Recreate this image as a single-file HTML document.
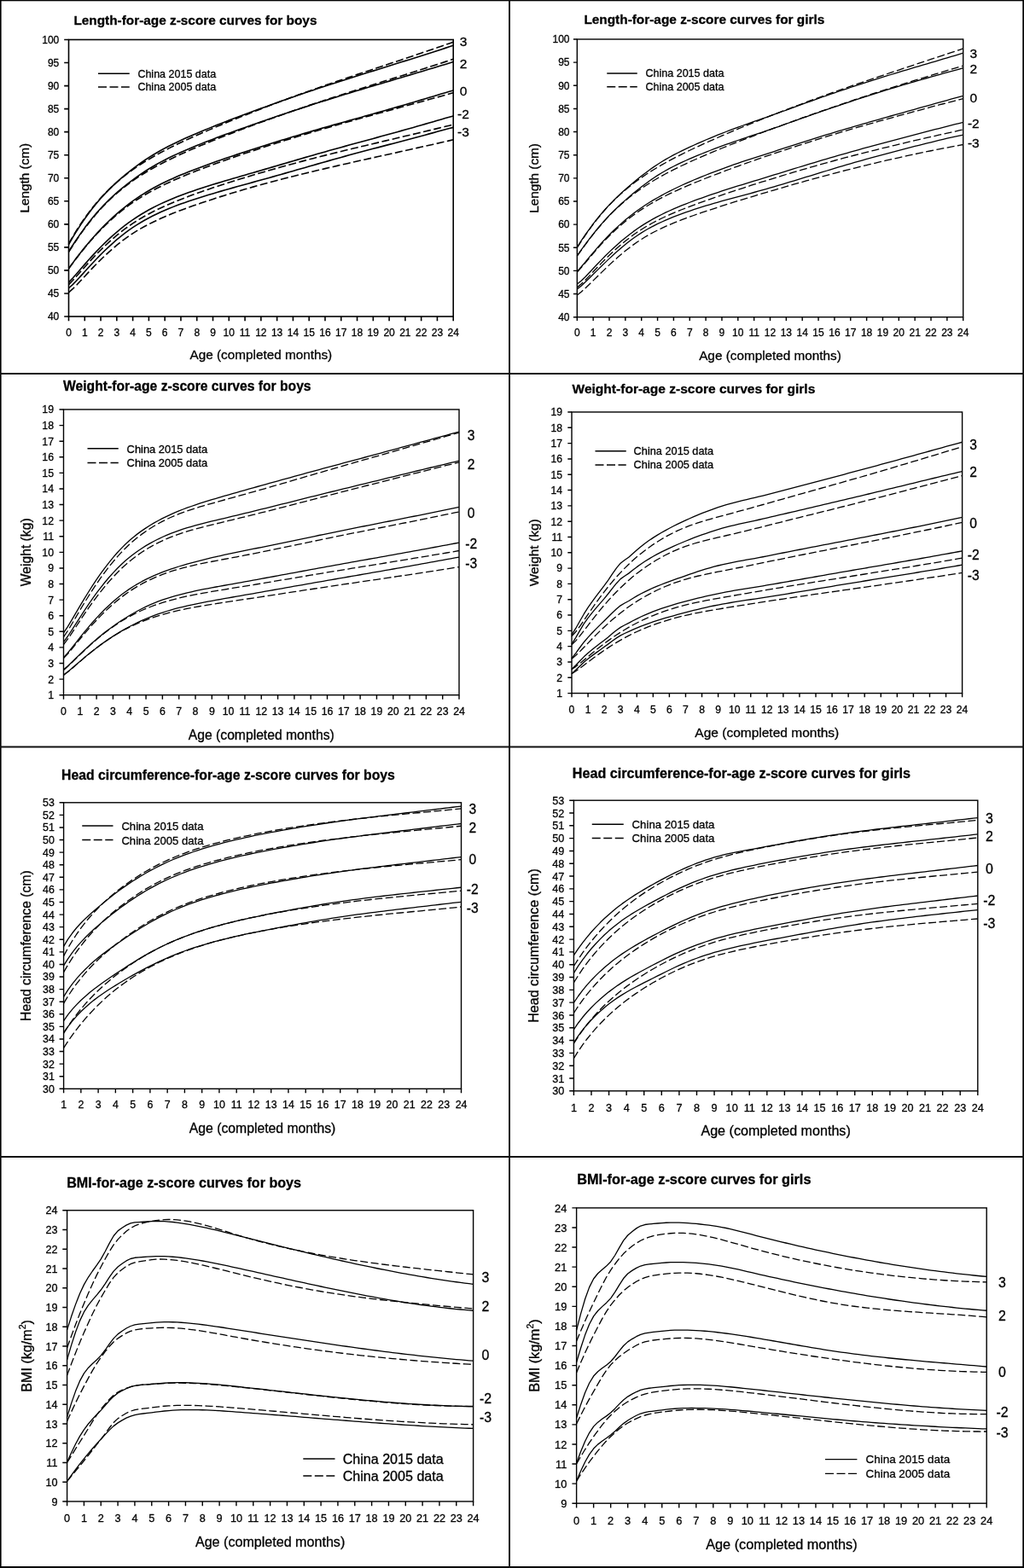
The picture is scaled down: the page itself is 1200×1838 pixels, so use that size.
<!DOCTYPE html>
<html lang="en"><head><meta charset="utf-8"><title>Growth z-score curves: China 2015 vs China 2005</title>
<style>html,body{margin:0;padding:0;background:#fff}svg{display:block}</style></head>
<body>
<svg width="1200" height="1838" viewBox="0 0 1200 1838" font-family='"Liberation Sans", Arial, Helvetica, sans-serif' fill="#000" stroke="none">
<style>text{stroke:#000;stroke-width:0.3px;stroke-linejoin:round}</style>
<rect x="0" y="0" width="1200" height="1838" fill="#fff"/>
<rect x="0" y="0" width="1.6" height="1838"/>
<rect x="0" y="0" width="1200" height="1.3"/>
<rect x="1198.3" y="0" width="1.7" height="1838"/>
<rect x="0" y="1836" width="1200" height="2"/>
<rect x="596" y="0" width="2" height="1838" fill="#111"/>
<rect x="0" y="437" width="1200" height="2" fill="#111"/>
<rect x="0" y="874.5" width="1200" height="2" fill="#111"/>
<rect x="0" y="1355" width="1200" height="2" fill="#111"/>
<g>
<polyline fill="none" stroke="#000" stroke-width="1.6" stroke-dasharray="9 3.5" stroke-linejoin="round" points="80.5,285.6 85.19,277.45 89.89,269.74 94.58,262.48 99.28,255.63 103.97,249.18 108.67,243.12 113.36,237.41 118.06,232.05 122.75,227.03 127.45,222.3 132.14,217.83 136.84,213.62 141.53,209.62 146.23,205.84 150.92,202.24 155.62,198.83 160.31,195.59 165.01,192.5 169.7,189.54 174.4,186.7 179.09,183.97 183.79,181.34 188.48,178.79 193.18,176.31 197.87,173.91 202.56,171.57 207.26,169.29 211.95,167.05 216.65,164.86 221.34,162.7 226.04,160.58 230.73,158.49 235.43,156.43 240.12,154.38 244.82,152.36 249.51,150.36 254.21,148.38 258.9,146.42 263.6,144.47 268.29,142.55 272.99,140.64 277.68,138.74 282.38,136.86 287.07,134.99 291.77,133.14 296.46,131.29 301.16,129.46 305.85,127.64 310.54,125.83 315.24,124.04 319.93,122.25 324.63,120.48 329.32,118.72 334.02,116.97 338.71,115.23 343.41,113.5 348.1,111.79 352.8,110.08 357.49,108.39 362.19,106.72 366.88,105.06 371.58,103.41 376.27,101.77 380.97,100.14 385.66,98.52 390.36,96.91 395.05,95.31 399.75,93.71 404.44,92.12 409.14,90.54 413.83,88.96 418.53,87.38 423.22,85.81 427.91,84.24 432.61,82.68 437.3,81.11 442,79.55 446.69,77.98 451.39,76.42 456.08,74.85 460.78,73.29 465.47,71.72 470.17,70.15 474.86,68.57 479.56,66.99 484.25,65.41 488.95,63.83 493.64,62.24 498.34,60.64 503.03,59.04 507.73,57.43 512.42,55.82 517.12,54.19 521.81,52.57 526.51,50.93 531.2,49.29"/>
<polyline fill="none" stroke="#000" stroke-width="1.6" stroke-linejoin="round" points="80.5,286.64 85.19,278.46 89.89,270.71 94.58,263.39 99.28,256.47 103.97,249.95 108.67,243.79 113.36,237.99 118.06,232.52 122.75,227.38 127.45,222.52 132.14,217.92 136.84,213.54 141.53,209.36 146.23,205.36 150.92,201.53 155.62,197.86 160.31,194.34 165.01,190.98 169.7,187.76 174.4,184.69 179.09,181.75 183.79,178.95 188.48,176.28 193.18,173.74 197.87,171.3 202.56,168.95 207.26,166.69 211.95,164.49 216.65,162.35 221.34,160.26 226.04,158.22 230.73,156.21 235.43,154.23 240.12,152.29 244.82,150.37 249.51,148.48 254.21,146.61 258.9,144.76 263.6,142.93 268.29,141.12 272.99,139.33 277.68,137.55 282.38,135.79 287.07,134.03 291.77,132.28 296.46,130.54 301.16,128.81 305.85,127.09 310.54,125.38 315.24,123.67 319.93,121.98 324.63,120.29 329.32,118.62 334.02,116.96 338.71,115.31 343.41,113.67 348.1,112.04 352.8,110.43 357.49,108.83 362.19,107.24 366.88,105.67 371.58,104.11 376.27,102.56 380.97,101.02 385.66,99.49 390.36,97.97 395.05,96.46 399.75,94.96 404.44,93.46 409.14,91.97 413.83,90.49 418.53,89.01 423.22,87.53 427.91,86.06 432.61,84.59 437.3,83.12 442,81.66 446.69,80.19 451.39,78.72 456.08,77.26 460.78,75.79 465.47,74.32 470.17,72.85 474.86,71.38 479.56,69.9 484.25,68.42 488.95,66.94 493.64,65.45 498.34,63.96 503.03,62.46 507.73,60.96 512.42,59.44 517.12,57.92 521.81,56.38 526.51,54.83 531.2,53.25"/>
<polyline fill="none" stroke="#000" stroke-width="1.6" stroke-dasharray="9 3.5" stroke-linejoin="round" points="80.5,295.33 85.19,288.05 89.89,280.96 94.58,274.14 99.28,267.64 103.97,261.46 108.67,255.59 113.36,250.04 118.06,244.8 122.75,239.85 127.45,235.18 132.14,230.76 136.84,226.57 141.53,222.61 146.23,218.84 150.92,215.27 155.62,211.89 160.31,208.68 165.01,205.63 169.7,202.71 174.4,199.92 179.09,197.24 183.79,194.66 188.48,192.17 193.18,189.77 197.87,187.43 202.56,185.16 207.26,182.95 211.95,180.79 216.65,178.68 221.34,176.61 226.04,174.58 230.73,172.58 235.43,170.6 240.12,168.66 244.82,166.73 249.51,164.83 254.21,162.95 258.9,161.09 263.6,159.25 268.29,157.43 272.99,155.63 277.68,153.84 282.38,152.06 287.07,150.3 291.77,148.55 296.46,146.81 301.16,145.09 305.85,143.37 310.54,141.67 315.24,139.97 319.93,138.29 324.63,136.61 329.32,134.95 334.02,133.3 338.71,131.66 343.41,130.02 348.1,128.4 352.8,126.79 357.49,125.2 362.19,123.61 366.88,122.03 371.58,120.47 376.27,118.91 380.97,117.37 385.66,115.83 390.36,114.3 395.05,112.78 399.75,111.26 404.44,109.75 409.14,108.25 413.83,106.75 418.53,105.25 423.22,103.76 427.91,102.27 432.61,100.78 437.3,99.3 442,97.81 446.69,96.33 451.39,94.85 456.08,93.37 460.78,91.88 465.47,90.4 470.17,88.91 474.86,87.43 479.56,85.94 484.25,84.45 488.95,82.95 493.64,81.46 498.34,79.95 503.03,78.45 507.73,76.94 512.42,75.43 517.12,73.91 521.81,72.38 526.51,70.86 531.2,69.32"/>
<polyline fill="none" stroke="#000" stroke-width="1.6" stroke-linejoin="round" points="80.5,294.79 85.19,287.51 89.89,280.41 94.58,273.6 99.28,267.1 103.97,260.92 108.67,255.05 113.36,249.5 118.06,244.25 122.75,239.3 127.45,234.62 132.14,230.17 136.84,225.94 141.53,221.9 146.23,218.04 150.92,214.33 155.62,210.79 160.31,207.39 165.01,204.14 169.7,201.03 174.4,198.05 179.09,195.21 183.79,192.5 188.48,189.91 193.18,187.44 197.87,185.08 202.56,182.8 207.26,180.61 211.95,178.49 216.65,176.43 221.34,174.42 226.04,172.45 230.73,170.53 235.43,168.63 240.12,166.77 244.82,164.94 249.51,163.13 254.21,161.35 258.9,159.6 263.6,157.86 268.29,156.14 272.99,154.44 277.68,152.75 282.38,151.07 287.07,149.4 291.77,147.75 296.46,146.1 301.16,144.45 305.85,142.82 310.54,141.19 315.24,139.57 319.93,137.95 324.63,136.35 329.32,134.75 334.02,133.17 338.71,131.59 343.41,130.02 348.1,128.47 352.8,126.92 357.49,125.39 362.19,123.87 366.88,122.36 371.58,120.85 376.27,119.36 380.97,117.88 385.66,116.41 390.36,114.95 395.05,113.5 399.75,112.05 404.44,110.61 409.14,109.18 413.83,107.76 418.53,106.34 423.22,104.92 427.91,103.51 432.61,102.1 437.3,100.7 442,99.3 446.69,97.9 451.39,96.5 456.08,95.11 460.78,93.71 465.47,92.31 470.17,90.92 474.86,89.52 479.56,88.12 484.25,86.72 488.95,85.32 493.64,83.92 498.34,82.51 503.03,81.1 507.73,79.69 512.42,78.27 517.12,76.84 521.81,75.4 526.51,73.95 531.2,72.47"/>
<polyline fill="none" stroke="#000" stroke-width="1.6" stroke-dasharray="9 3.5" stroke-linejoin="round" points="80.5,314.81 85.19,308.48 89.89,302.25 94.58,296.22 99.28,290.4 103.97,284.8 108.67,279.43 113.36,274.29 118.06,269.36 122.75,264.65 127.45,260.16 132.14,255.87 136.84,251.78 141.53,247.9 146.23,244.2 150.92,240.71 155.62,237.4 160.31,234.27 165.01,231.31 169.7,228.49 174.4,225.81 179.09,223.24 183.79,220.78 188.48,218.42 193.18,216.14 197.87,213.94 202.56,211.8 207.26,209.73 211.95,207.72 216.65,205.76 221.34,203.84 226.04,201.96 230.73,200.11 235.43,198.3 240.12,196.51 244.82,194.75 249.51,193.01 254.21,191.3 258.9,189.6 263.6,187.93 268.29,186.28 272.99,184.64 277.68,183.03 282.38,181.42 287.07,179.84 291.77,178.26 296.46,176.7 301.16,175.15 305.85,173.61 310.54,172.08 315.24,170.56 319.93,169.06 324.63,167.56 329.32,166.08 334.02,164.61 338.71,163.14 343.41,161.69 348.1,160.25 352.8,158.82 357.49,157.4 362.19,155.99 366.88,154.6 371.58,153.21 376.27,151.84 380.97,150.47 385.66,149.12 390.36,147.77 395.05,146.43 399.75,145.09 404.44,143.77 409.14,142.45 413.83,141.13 418.53,139.82 423.22,138.51 427.91,137.21 432.61,135.91 437.3,134.62 442,133.33 446.69,132.04 451.39,130.75 456.08,129.46 460.78,128.18 465.47,126.89 470.17,125.6 474.86,124.32 479.56,123.03 484.25,121.75 488.95,120.46 493.64,119.17 498.34,117.87 503.03,116.58 507.73,115.28 512.42,113.99 517.12,112.68 521.81,111.38 526.51,110.07 531.2,108.76"/>
<polyline fill="none" stroke="#000" stroke-width="1.6" stroke-linejoin="round" points="80.5,314.74 85.19,308.36 89.89,302.08 94.58,295.98 99.28,290.08 103.97,284.4 108.67,278.94 113.36,273.7 118.06,268.68 122.75,263.87 127.45,259.27 132.14,254.87 136.84,250.66 141.53,246.65 146.23,242.81 150.92,239.16 155.62,235.69 160.31,232.4 165.01,229.28 169.7,226.31 174.4,223.49 179.09,220.81 183.79,218.26 188.48,215.82 193.18,213.5 197.87,211.28 202.56,209.15 207.26,207.09 211.95,205.1 216.65,203.17 221.34,201.28 226.04,199.45 230.73,197.65 235.43,195.88 240.12,194.14 244.82,192.44 249.51,190.76 254.21,189.1 258.9,187.47 263.6,185.86 268.29,184.27 272.99,182.69 277.68,181.13 282.38,179.58 287.07,178.04 291.77,176.51 296.46,174.99 301.16,173.48 305.85,171.98 310.54,170.49 315.24,169 319.93,167.53 324.63,166.06 329.32,164.61 334.02,163.17 338.71,161.74 343.41,160.31 348.1,158.9 352.8,157.5 357.49,156.11 362.19,154.73 366.88,153.36 371.58,152 376.27,150.64 380.97,149.3 385.66,147.96 390.36,146.63 395.05,145.3 399.75,143.98 404.44,142.66 409.14,141.35 413.83,140.03 418.53,138.72 423.22,137.41 427.91,136.09 432.61,134.77 437.3,133.45 442,132.12 446.69,130.79 451.39,129.45 456.08,128.1 460.78,126.75 465.47,125.39 470.17,124.03 474.86,122.66 479.56,121.29 484.25,119.91 488.95,118.52 493.64,117.13 498.34,115.73 503.03,114.33 507.73,112.92 512.42,111.51 517.12,110.09 521.81,108.69 526.51,107.29 531.2,105.9"/>
<polyline fill="none" stroke="#000" stroke-width="1.6" stroke-dasharray="9 3.5" stroke-linejoin="round" points="80.5,333.64 85.19,328.81 89.89,323.58 94.58,318.25 99.28,312.94 103.97,307.73 108.67,302.65 113.36,297.73 118.06,292.98 122.75,288.42 127.45,284.04 132.14,279.85 136.84,275.86 141.53,272.06 146.23,268.46 150.92,265.05 155.62,261.83 160.31,258.81 165.01,255.96 169.7,253.26 174.4,250.69 179.09,248.25 183.79,245.92 188.48,243.68 193.18,241.53 197.87,239.47 202.56,237.47 207.26,235.54 211.95,233.67 216.65,231.85 221.34,230.07 226.04,228.33 230.73,226.63 235.43,224.96 240.12,223.32 244.82,221.7 249.51,220.11 254.21,218.54 258.9,216.99 263.6,215.47 268.29,213.96 272.99,212.48 277.68,211.01 282.38,209.56 287.07,208.12 291.77,206.7 296.46,205.29 301.16,203.9 305.85,202.52 310.54,201.15 315.24,199.79 319.93,198.45 324.63,197.11 329.32,195.79 334.02,194.49 338.71,193.19 343.41,191.91 348.1,190.64 352.8,189.38 357.49,188.14 362.19,186.91 366.88,185.69 371.58,184.48 376.27,183.29 380.97,182.1 385.66,180.93 390.36,179.76 395.05,178.61 399.75,177.46 404.44,176.31 409.14,175.18 413.83,174.05 418.53,172.92 423.22,171.8 427.91,170.68 432.61,169.57 437.3,168.46 442,167.35 446.69,166.24 451.39,165.13 456.08,164.03 460.78,162.92 465.47,161.81 470.17,160.7 474.86,159.59 479.56,158.48 484.25,157.37 488.95,156.25 493.64,155.13 498.34,154.01 503.03,152.88 507.73,151.75 512.42,150.61 517.12,149.47 521.81,148.33 526.51,147.18 531.2,146.02"/>
<polyline fill="none" stroke="#000" stroke-width="1.6" stroke-linejoin="round" points="80.5,330.85 85.19,325.97 89.89,320.67 94.58,315.26 99.28,309.87 103.97,304.57 108.67,299.4 113.36,294.39 118.06,289.55 122.75,284.9 127.45,280.43 132.14,276.15 136.84,272.06 141.53,268.16 146.23,264.45 150.92,260.93 155.62,257.61 160.31,254.47 165.01,251.52 169.7,248.72 174.4,246.07 179.09,243.55 183.79,241.16 188.48,238.89 193.18,236.73 197.87,234.67 202.56,232.7 207.26,230.82 211.95,229.01 216.65,227.26 221.34,225.57 226.04,223.94 230.73,222.35 235.43,220.79 240.12,219.27 244.82,217.78 249.51,216.32 254.21,214.88 258.9,213.46 263.6,212.06 268.29,210.68 272.99,209.3 277.68,207.93 282.38,206.57 287.07,205.21 291.77,203.85 296.46,202.49 301.16,201.13 305.85,199.76 310.54,198.39 315.24,197.01 319.93,195.63 324.63,194.25 329.32,192.87 334.02,191.49 338.71,190.11 343.41,188.73 348.1,187.36 352.8,185.99 357.49,184.63 362.19,183.27 366.88,181.92 371.58,180.57 376.27,179.23 380.97,177.9 385.66,176.58 390.36,175.26 395.05,173.95 399.75,172.65 404.44,171.36 409.14,170.07 413.83,168.79 418.53,167.51 423.22,166.24 427.91,164.96 432.61,163.69 437.3,162.41 442,161.13 446.69,159.85 451.39,158.56 456.08,157.27 460.78,155.97 465.47,154.67 470.17,153.36 474.86,152.05 479.56,150.73 484.25,149.4 488.95,148.07 493.64,146.73 498.34,145.38 503.03,144.03 507.73,142.67 512.42,141.31 517.12,139.95 521.81,138.6 526.51,137.27 531.2,135.97"/>
<polyline fill="none" stroke="#000" stroke-width="1.6" stroke-dasharray="9 3.5" stroke-linejoin="round" points="80.5,342.78 85.19,338.72 89.89,333.99 94.58,329 99.28,323.92 103.97,318.87 108.67,313.91 113.36,309.08 118.06,304.4 122.75,299.89 127.45,295.55 132.14,291.41 136.84,287.46 141.53,283.7 146.23,280.14 150.92,276.79 155.62,273.63 160.31,270.68 165.01,267.9 169.7,265.28 174.4,262.8 179.09,260.44 183.79,258.2 188.48,256.05 193.18,253.99 197.87,252.01 202.56,250.1 207.26,248.26 211.95,246.46 216.65,244.72 221.34,243.01 226.04,241.34 230.73,239.7 235.43,238.09 240.12,236.5 244.82,234.93 249.51,233.39 254.21,231.87 258.9,230.37 263.6,228.9 268.29,227.44 272.99,226.01 277.68,224.59 282.38,223.2 287.07,221.82 291.77,220.47 296.46,219.13 301.16,217.81 305.85,216.51 310.54,215.23 315.24,213.96 319.93,212.72 324.63,211.48 329.32,210.26 334.02,209.06 338.71,207.86 343.41,206.68 348.1,205.51 352.8,204.36 357.49,203.21 362.19,202.07 366.88,200.95 371.58,199.83 376.27,198.72 380.97,197.62 385.66,196.53 390.36,195.44 395.05,194.36 399.75,193.29 404.44,192.22 409.14,191.16 413.83,190.1 418.53,189.05 423.22,187.99 427.91,186.95 432.61,185.9 437.3,184.86 442,183.81 446.69,182.77 451.39,181.73 456.08,180.69 460.78,179.65 465.47,178.61 470.17,177.57 474.86,176.52 479.56,175.48 484.25,174.43 488.95,173.38 493.64,172.33 498.34,171.28 503.03,170.22 507.73,169.16 512.42,168.1 517.12,167.03 521.81,165.96 526.51,164.88 531.2,163.8"/>
<polyline fill="none" stroke="#000" stroke-width="1.6" stroke-linejoin="round" points="80.5,337.77 85.19,333.62 89.89,328.78 94.58,323.66 99.28,318.45 103.97,313.27 108.67,308.17 113.36,303.2 118.06,298.39 122.75,293.76 127.45,289.3 132.14,285.04 136.84,280.97 141.53,277.09 146.23,273.42 150.92,269.95 155.62,266.68 160.31,263.61 165.01,260.73 169.7,258.02 174.4,255.45 179.09,253.03 183.79,250.73 188.48,248.56 193.18,246.48 197.87,244.51 202.56,242.63 207.26,240.83 211.95,239.09 216.65,237.43 221.34,235.81 226.04,234.24 230.73,232.71 235.43,231.22 240.12,229.75 244.82,228.31 249.51,226.9 254.21,225.51 258.9,224.14 263.6,222.79 268.29,221.45 272.99,220.13 277.68,218.81 282.38,217.51 287.07,216.21 291.77,214.92 296.46,213.63 301.16,212.33 305.85,211.04 310.54,209.74 315.24,208.43 319.93,207.12 324.63,205.8 329.32,204.47 334.02,203.13 338.71,201.79 343.41,200.45 348.1,199.1 352.8,197.75 357.49,196.4 362.19,195.05 366.88,193.7 371.58,192.36 376.27,191.02 380.97,189.68 385.66,188.36 390.36,187.04 395.05,185.72 399.75,184.42 404.44,183.13 409.14,181.85 413.83,180.58 418.53,179.33 423.22,178.07 427.91,176.83 432.61,175.59 437.3,174.35 442,173.11 446.69,171.87 451.39,170.63 456.08,169.39 460.78,168.15 465.47,166.91 470.17,165.67 474.86,164.42 479.56,163.17 484.25,161.92 488.95,160.67 493.64,159.41 498.34,158.15 503.03,156.88 507.73,155.62 512.42,154.35 517.12,153.09 521.81,151.83 526.51,150.6 531.2,149.4"/>
<rect x="80.5" y="46.5" width="450.7" height="324.5" fill="none" stroke="#000" stroke-width="1.6"/>
<path d="M80.5 371v5.3M99.28 371v5.3M118.06 371v5.3M136.84 371v5.3M155.62 371v5.3M174.4 371v5.3M193.18 371v5.3M211.95 371v5.3M230.73 371v5.3M249.51 371v5.3M268.29 371v5.3M287.07 371v5.3M305.85 371v5.3M324.63 371v5.3M343.41 371v5.3M362.19 371v5.3M380.97 371v5.3M399.75 371v5.3M418.53 371v5.3M437.3 371v5.3M456.08 371v5.3M474.86 371v5.3M493.64 371v5.3M512.42 371v5.3M531.2 371v5.3M80.5 371h-5.3M80.5 343.96h-5.3M80.5 316.92h-5.3M80.5 289.88h-5.3M80.5 262.83h-5.3M80.5 235.79h-5.3M80.5 208.75h-5.3M80.5 181.71h-5.3M80.5 154.67h-5.3M80.5 127.62h-5.3M80.5 100.58h-5.3M80.5 73.54h-5.3M80.5 46.5h-5.3" stroke="#000" stroke-width="1.6" fill="none"/>
<g font-size="12" text-anchor="middle">
<text x="80.5" y="393.6">0</text>
<text x="99.28" y="393.6">1</text>
<text x="118.06" y="393.6">2</text>
<text x="136.84" y="393.6">3</text>
<text x="155.62" y="393.6">4</text>
<text x="174.4" y="393.6">5</text>
<text x="193.18" y="393.6">6</text>
<text x="211.95" y="393.6">7</text>
<text x="230.73" y="393.6">8</text>
<text x="249.51" y="393.6">9</text>
<text x="268.29" y="393.6">10</text>
<text x="287.07" y="393.6">11</text>
<text x="305.85" y="393.6">12</text>
<text x="324.63" y="393.6">13</text>
<text x="343.41" y="393.6">14</text>
<text x="362.19" y="393.6">15</text>
<text x="380.97" y="393.6">16</text>
<text x="399.75" y="393.6">17</text>
<text x="418.53" y="393.6">18</text>
<text x="437.3" y="393.6">19</text>
<text x="456.08" y="393.6">20</text>
<text x="474.86" y="393.6">21</text>
<text x="493.64" y="393.6">22</text>
<text x="512.42" y="393.6">23</text>
<text x="531.2" y="393.6">24</text>
</g>
<g font-size="12" text-anchor="end">
<text x="69.3" y="375.32">40</text>
<text x="69.3" y="348.28">45</text>
<text x="69.3" y="321.24">50</text>
<text x="69.3" y="294.19">55</text>
<text x="69.3" y="267.15">60</text>
<text x="69.3" y="240.11">65</text>
<text x="69.3" y="213.07">70</text>
<text x="69.3" y="186.03">75</text>
<text x="69.3" y="158.99">80</text>
<text x="69.3" y="131.94">85</text>
<text x="69.3" y="104.9">90</text>
<text x="69.3" y="77.86">95</text>
<text x="69.3" y="50.82">100</text>
</g>
<text x="86.4" y="28.9" font-size="15.36" font-weight="bold">Length-for-age z-score curves for boys</text>
<text x="305.85" y="421.3" font-size="15.3" text-anchor="middle">Age (completed months)</text>
<text transform="translate(34.3 208.75) rotate(-90)" font-size="15.3" text-anchor="middle">Length (cm)</text>
<path d="M115 86.25H151.75" stroke="#000" stroke-width="1.6"/>
<path d="M115 102H151.75" stroke="#000" stroke-width="1.6" stroke-dasharray="10 3.5"/>
<text x="161.4" y="90.5" font-size="12.5">China 2015 data</text>
<text x="161.4" y="106" font-size="12.5">China 2005 data</text>
<g font-size="15.5" text-anchor="middle">
<text x="543" y="53.7">3</text>
<text x="543" y="79.6">2</text>
<text x="543" y="112.4">0</text>
<text x="543" y="139.1">-2</text>
<text x="543" y="160.4">-3</text>
</g>
</g>
<g>
<polyline fill="none" stroke="#000" stroke-width="1.3" stroke-dasharray="9 3.5" stroke-linejoin="round" points="676.3,290.35 681.01,283.11 685.72,276.08 690.44,269.34 695.15,262.93 699.86,256.84 704.57,251.08 709.29,245.63 714,240.5 718.71,235.66 723.42,231.1 728.14,226.78 732.85,222.68 737.56,218.78 742.27,215.08 746.99,211.55 751.7,208.18 756.41,204.97 761.12,201.9 765.84,198.95 770.55,196.11 775.26,193.37 779.98,190.71 784.69,188.14 789.4,185.64 794.11,183.21 798.83,180.83 803.54,178.5 808.25,176.23 812.96,173.99 817.67,171.8 822.39,169.63 827.1,167.5 831.81,165.39 836.52,163.3 841.24,161.24 845.95,159.19 850.66,157.17 855.38,155.17 860.09,153.18 864.8,151.21 869.51,149.26 874.23,147.32 878.94,145.4 883.65,143.49 888.36,141.59 893.08,139.71 897.79,137.84 902.5,135.97 907.21,134.12 911.92,132.28 916.64,130.46 921.35,128.64 926.06,126.83 930.78,125.04 935.49,123.26 940.2,121.49 944.91,119.73 949.62,117.98 954.34,116.25 959.05,114.52 963.76,112.82 968.48,111.12 973.19,109.44 977.9,107.76 982.61,106.1 987.33,104.45 992.04,102.8 996.75,101.17 1001.46,99.54 1006.18,97.92 1010.89,96.31 1015.6,94.7 1020.31,93.1 1025.03,91.5 1029.74,89.91 1034.45,88.33 1039.16,86.75 1043.88,85.17 1048.59,83.59 1053.3,82.02 1058.01,80.45 1062.73,78.88 1067.44,77.32 1072.15,75.75 1076.86,74.19 1081.58,72.62 1086.29,71.06 1091,69.49 1095.71,67.93 1100.43,66.36 1105.14,64.8 1109.85,63.23 1114.56,61.66 1119.28,60.08 1123.99,58.51 1128.7,56.93"/>
<polyline fill="none" stroke="#000" stroke-width="1.3" stroke-linejoin="round" points="676.3,289.64 681.01,282.45 685.72,275.48 690.44,268.81 695.15,262.46 699.86,256.43 704.57,250.71 709.29,245.29 714,240.17 718.71,235.33 723.42,230.73 728.14,226.33 732.85,222.08 737.56,217.96 742.27,213.95 746.99,210.06 751.7,206.29 756.41,202.66 761.12,199.18 765.84,195.85 770.55,192.7 775.26,189.72 779.98,186.9 784.69,184.23 789.4,181.69 794.11,179.25 798.83,176.9 803.54,174.63 808.25,172.41 812.96,170.24 817.67,168.13 822.39,166.05 827.1,164.02 831.81,162.03 836.52,160.08 841.24,158.18 845.95,156.31 850.66,154.49 855.38,152.7 860.09,150.94 864.8,149.2 869.51,147.49 874.23,145.8 878.94,144.13 883.65,142.48 888.36,140.83 893.08,139.18 897.79,137.53 902.5,135.86 907.21,134.17 911.92,132.46 916.64,130.74 921.35,129.02 926.06,127.3 930.78,125.59 935.49,123.87 940.2,122.17 944.91,120.47 949.62,118.77 954.34,117.09 959.05,115.42 963.76,113.76 968.48,112.12 973.19,110.48 977.9,108.86 982.61,107.25 987.33,105.65 992.04,104.07 996.75,102.5 1001.46,100.94 1006.18,99.4 1010.89,97.87 1015.6,96.35 1020.31,94.85 1025.03,93.35 1029.74,91.88 1034.45,90.41 1039.16,88.95 1043.88,87.5 1048.59,86.06 1053.3,84.63 1058.01,83.2 1062.73,81.78 1067.44,80.37 1072.15,78.97 1076.86,77.57 1081.58,76.17 1086.29,74.78 1091,73.39 1095.71,72.01 1100.43,70.63 1105.14,69.24 1109.85,67.86 1114.56,66.47 1119.28,65.06 1123.99,63.64 1128.7,62.17"/>
<polyline fill="none" stroke="#000" stroke-width="1.3" stroke-dasharray="9 3.5" stroke-linejoin="round" points="676.3,300.03 681.01,293.62 685.72,287.14 690.44,280.81 695.15,274.68 699.86,268.81 704.57,263.21 709.29,257.89 714,252.84 718.71,248.08 723.42,243.56 728.14,239.29 732.85,235.22 737.56,231.36 742.27,227.69 746.99,224.2 751.7,220.88 756.41,217.72 761.12,214.7 765.84,211.81 770.55,209.04 775.26,206.37 779.98,203.8 784.69,201.31 789.4,198.89 794.11,196.55 798.83,194.26 803.54,192.04 808.25,189.86 812.96,187.74 817.67,185.65 822.39,183.6 827.1,181.58 831.81,179.58 836.52,177.62 841.24,175.68 845.95,173.76 850.66,171.86 855.38,169.98 860.09,168.12 864.8,166.28 869.51,164.45 874.23,162.63 878.94,160.83 883.65,159.04 888.36,157.26 893.08,155.49 897.79,153.72 902.5,151.97 907.21,150.23 911.92,148.49 916.64,146.76 921.35,145.04 926.06,143.33 930.78,141.62 935.49,139.92 940.2,138.23 944.91,136.55 949.62,134.87 954.34,133.21 959.05,131.55 963.76,129.9 968.48,128.26 973.19,126.62 977.9,125 982.61,123.38 987.33,121.77 992.04,120.17 996.75,118.58 1001.46,116.99 1006.18,115.42 1010.89,113.85 1015.6,112.29 1020.31,110.74 1025.03,109.2 1029.74,107.66 1034.45,106.14 1039.16,104.62 1043.88,103.1 1048.59,101.6 1053.3,100.1 1058.01,98.61 1062.73,97.13 1067.44,95.66 1072.15,94.19 1076.86,92.73 1081.58,91.27 1086.29,89.83 1091,88.39 1095.71,86.95 1100.43,85.53 1105.14,84.11 1109.85,82.69 1114.56,81.29 1119.28,79.89 1123.99,78.49 1128.7,77.1"/>
<polyline fill="none" stroke="#000" stroke-width="1.3" stroke-linejoin="round" points="676.3,299.54 681.01,293.15 685.72,286.71 690.44,280.4 695.15,274.31 699.86,268.47 704.57,262.89 709.29,257.58 714,252.54 718.71,247.76 723.42,243.21 728.14,238.84 732.85,234.63 737.56,230.54 742.27,226.57 746.99,222.71 751.7,218.98 756.41,215.4 761.12,211.98 765.84,208.72 770.55,205.63 775.26,202.73 779.98,199.99 784.69,197.41 789.4,194.97 794.11,192.65 798.83,190.42 803.54,188.27 808.25,186.18 812.96,184.16 817.67,182.18 822.39,180.24 827.1,178.35 831.81,176.5 836.52,174.68 841.24,172.91 845.95,171.17 850.66,169.46 855.38,167.78 860.09,166.13 864.8,164.5 869.51,162.89 874.23,161.3 878.94,159.73 883.65,158.16 888.36,156.6 893.08,155.03 897.79,153.45 902.5,151.83 907.21,150.2 911.92,148.54 916.64,146.86 921.35,145.18 926.06,143.5 930.78,141.83 935.49,140.15 940.2,138.48 944.91,136.82 949.62,135.16 954.34,133.51 959.05,131.86 963.76,130.22 968.48,128.59 973.19,126.97 977.9,125.36 982.61,123.76 987.33,122.17 992.04,120.59 996.75,119.02 1001.46,117.46 1006.18,115.91 1010.89,114.37 1015.6,112.85 1020.31,111.34 1025.03,109.84 1029.74,108.36 1034.45,106.89 1039.16,105.43 1043.88,103.98 1048.59,102.55 1053.3,101.13 1058.01,99.72 1062.73,98.32 1067.44,96.94 1072.15,95.56 1076.86,94.2 1081.58,92.84 1086.29,91.5 1091,90.17 1095.71,88.84 1100.43,87.53 1105.14,86.22 1109.85,84.92 1114.56,83.62 1119.28,82.33 1123.99,81.02 1128.7,79.7"/>
<polyline fill="none" stroke="#000" stroke-width="1.3" stroke-dasharray="9 3.5" stroke-linejoin="round" points="676.3,319.04 681.01,313.86 685.72,308.29 690.44,302.64 695.15,297.06 699.86,291.62 704.57,286.37 709.29,281.33 714,276.52 718.71,271.94 723.42,267.58 728.14,263.44 732.85,259.5 737.56,255.75 742.27,252.2 746.99,248.83 751.7,245.64 756.41,242.62 761.12,239.75 765.84,237.02 770.55,234.41 775.26,231.92 779.98,229.51 784.69,227.2 789.4,224.96 794.11,222.79 798.83,220.68 803.54,218.63 808.25,216.62 812.96,214.66 817.67,212.74 822.39,210.84 827.1,208.98 831.81,207.14 836.52,205.32 841.24,203.52 845.95,201.74 850.66,199.98 855.38,198.24 860.09,196.51 864.8,194.8 869.51,193.11 874.23,191.43 878.94,189.76 883.65,188.1 888.36,186.46 893.08,184.83 897.79,183.21 902.5,181.6 907.21,180 911.92,178.4 916.64,176.82 921.35,175.26 926.06,173.7 930.78,172.15 935.49,170.61 940.2,169.09 944.91,167.57 949.62,166.07 954.34,164.58 959.05,163.1 963.76,161.63 968.48,160.18 973.19,158.74 977.9,157.31 982.61,155.89 987.33,154.48 992.04,153.08 996.75,151.69 1001.46,150.31 1006.18,148.94 1010.89,147.58 1015.6,146.23 1020.31,144.88 1025.03,143.55 1029.74,142.22 1034.45,140.9 1039.16,139.58 1043.88,138.27 1048.59,136.97 1053.3,135.68 1058.01,134.39 1062.73,133.1 1067.44,131.82 1072.15,130.55 1076.86,129.28 1081.58,128.01 1086.29,126.75 1091,125.49 1095.71,124.24 1100.43,122.99 1105.14,121.75 1109.85,120.5 1114.56,119.26 1119.28,118.02 1123.99,116.79 1128.7,115.56"/>
<polyline fill="none" stroke="#000" stroke-width="1.3" stroke-linejoin="round" points="676.3,318.19 681.01,312.99 685.72,307.39 690.44,301.7 695.15,296.06 699.86,290.57 704.57,285.25 709.29,280.14 714,275.24 718.71,270.58 723.42,266.12 728.14,261.88 732.85,257.83 737.56,253.97 742.27,250.29 746.99,246.79 751.7,243.46 756.41,240.3 761.12,237.3 765.84,234.43 770.55,231.69 775.26,229.07 779.98,226.54 784.69,224.11 789.4,221.76 794.11,219.49 798.83,217.28 803.54,215.13 808.25,213.05 812.96,211.02 817.67,209.04 822.39,207.11 827.1,205.23 831.81,203.38 836.52,201.57 841.24,199.8 845.95,198.05 850.66,196.33 855.38,194.64 860.09,192.97 864.8,191.33 869.51,189.71 874.23,188.13 878.94,186.57 883.65,185.04 888.36,183.53 893.08,182.04 897.79,180.54 902.5,179.03 907.21,177.51 911.92,175.98 916.64,174.44 921.35,172.9 926.06,171.36 930.78,169.83 935.49,168.31 940.2,166.8 944.91,165.3 949.62,163.81 954.34,162.34 959.05,160.87 963.76,159.41 968.48,157.97 973.19,156.53 977.9,155.11 982.61,153.7 987.33,152.29 992.04,150.9 996.75,149.51 1001.46,148.14 1006.18,146.77 1010.89,145.4 1015.6,144.05 1020.31,142.7 1025.03,141.35 1029.74,140.01 1034.45,138.67 1039.16,137.34 1043.88,136 1048.59,134.67 1053.3,133.34 1058.01,132.02 1062.73,130.69 1067.44,129.37 1072.15,128.04 1076.86,126.72 1081.58,125.41 1086.29,124.09 1091,122.77 1095.71,121.46 1100.43,120.15 1105.14,118.84 1109.85,117.53 1114.56,116.22 1119.28,114.93 1123.99,113.64 1128.7,112.37"/>
<polyline fill="none" stroke="#000" stroke-width="1.3" stroke-dasharray="9 3.5" stroke-linejoin="round" points="676.3,336.87 681.01,333.07 685.72,328.49 690.44,323.58 695.15,318.56 699.86,313.55 704.57,308.63 709.29,303.84 714,299.2 718.71,294.75 723.42,290.48 728.14,286.4 732.85,282.52 737.56,278.83 742.27,275.34 746.99,272.05 751.7,268.96 756.41,266.06 761.12,263.33 765.84,260.76 770.55,258.32 775.26,256 779.98,253.78 784.69,251.66 789.4,249.61 794.11,247.64 798.83,245.73 803.54,243.88 808.25,242.07 812.96,240.31 817.67,238.58 822.39,236.88 827.1,235.2 831.81,233.53 836.52,231.89 841.24,230.26 845.95,228.65 850.66,227.05 855.38,225.46 860.09,223.89 864.8,222.34 869.51,220.79 874.23,219.26 878.94,217.74 883.65,216.23 888.36,214.73 893.08,213.23 897.79,211.75 902.5,210.28 907.21,208.82 911.92,207.37 916.64,205.93 921.35,204.5 926.06,203.08 930.78,201.67 935.49,200.27 940.2,198.89 944.91,197.51 949.62,196.15 954.34,194.8 959.05,193.46 963.76,192.14 968.48,190.83 973.19,189.54 977.9,188.25 982.61,186.98 987.33,185.72 992.04,184.47 996.75,183.23 1001.46,182 1006.18,180.79 1010.89,179.58 1015.6,178.38 1020.31,177.2 1025.03,176.02 1029.74,174.85 1034.45,173.69 1039.16,172.54 1043.88,171.4 1048.59,170.26 1053.3,169.13 1058.01,168.01 1062.73,166.9 1067.44,165.79 1072.15,164.69 1076.86,163.6 1081.58,162.51 1086.29,161.43 1091,160.35 1095.71,159.28 1100.43,158.22 1105.14,157.16 1109.85,156.1 1114.56,155.05 1119.28,154.01 1123.99,152.97 1128.7,151.93"/>
<polyline fill="none" stroke="#000" stroke-width="1.3" stroke-linejoin="round" points="676.3,333.07 681.01,329.27 685.72,324.69 690.44,319.78 695.15,314.76 699.86,309.75 704.57,304.83 709.29,300.04 714,295.4 718.71,290.94 723.42,286.67 728.14,282.57 732.85,278.66 737.56,274.94 742.27,271.4 746.99,268.04 751.7,264.87 756.41,261.88 761.12,259.07 765.84,256.4 770.55,253.88 775.26,251.48 779.98,249.2 784.69,247.02 789.4,244.93 794.11,242.92 798.83,240.97 803.54,239.09 808.25,237.26 812.96,235.47 817.67,233.73 822.39,232.03 827.1,230.35 831.81,228.71 836.52,227.1 841.24,225.52 845.95,223.97 850.66,222.45 855.38,220.95 860.09,219.46 864.8,217.99 869.51,216.53 874.23,215.08 878.94,213.64 883.65,212.2 888.36,210.76 893.08,209.32 897.79,207.88 902.5,206.43 907.21,204.98 911.92,203.52 916.64,202.06 921.35,200.61 926.06,199.15 930.78,197.7 935.49,196.25 940.2,194.81 944.91,193.37 949.62,191.94 954.34,190.52 959.05,189.11 963.76,187.71 968.48,186.32 973.19,184.93 977.9,183.56 982.61,182.2 987.33,180.85 992.04,179.51 996.75,178.17 1001.46,176.85 1006.18,175.54 1010.89,174.24 1015.6,172.95 1020.31,171.67 1025.03,170.39 1029.74,169.12 1034.45,167.85 1039.16,166.59 1043.88,165.33 1048.59,164.08 1053.3,162.83 1058.01,161.58 1062.73,160.34 1067.44,159.1 1072.15,157.86 1076.86,156.63 1081.58,155.4 1086.29,154.17 1091,152.95 1095.71,151.73 1100.43,150.51 1105.14,149.29 1109.85,148.08 1114.56,146.88 1119.28,145.7 1123.99,144.53 1128.7,143.4"/>
<polyline fill="none" stroke="#000" stroke-width="1.3" stroke-dasharray="9 3.5" stroke-linejoin="round" points="676.3,346.07 681.01,342.32 685.72,338.03 690.44,333.5 695.15,328.88 699.86,324.24 704.57,319.63 709.29,315.1 714,310.64 718.71,306.29 723.42,302.07 728.14,298 732.85,294.11 737.56,290.39 742.27,286.87 746.99,283.56 751.7,280.45 756.41,277.55 761.12,274.83 765.84,272.29 770.55,269.88 775.26,267.61 779.98,265.44 784.69,263.38 789.4,261.4 794.11,259.5 798.83,257.67 803.54,255.9 808.25,254.18 812.96,252.5 817.67,250.85 822.39,249.24 827.1,247.65 831.81,246.08 836.52,244.53 841.24,242.99 845.95,241.47 850.66,239.96 855.38,238.47 860.09,236.99 864.8,235.52 869.51,234.07 874.23,232.62 878.94,231.19 883.65,229.76 888.36,228.35 893.08,226.94 897.79,225.54 902.5,224.14 907.21,222.76 911.92,221.38 916.64,220.01 921.35,218.65 926.06,217.3 930.78,215.96 935.49,214.62 940.2,213.3 944.91,211.98 949.62,210.67 954.34,209.38 959.05,208.09 963.76,206.81 968.48,205.55 973.19,204.3 977.9,203.05 982.61,201.82 987.33,200.6 992.04,199.39 996.75,198.2 1001.46,197.01 1006.18,195.84 1010.89,194.68 1015.6,193.53 1020.31,192.39 1025.03,191.27 1029.74,190.15 1034.45,189.05 1039.16,187.96 1043.88,186.88 1048.59,185.82 1053.3,184.77 1058.01,183.72 1062.73,182.69 1067.44,181.68 1072.15,180.67 1076.86,179.67 1081.58,178.69 1086.29,177.72 1091,176.76 1095.71,175.81 1100.43,174.88 1105.14,173.95 1109.85,173.04 1114.56,172.14 1119.28,171.25 1123.99,170.37 1128.7,169.5"/>
<polyline fill="none" stroke="#000" stroke-width="1.3" stroke-linejoin="round" points="676.3,338.94 681.01,335.16 685.72,330.82 690.44,326.23 695.15,321.55 699.86,316.86 704.57,312.21 709.29,307.62 714,303.13 718.71,298.75 723.42,294.51 728.14,290.43 732.85,286.52 737.56,282.8 742.27,279.28 746.99,275.97 751.7,272.88 756.41,270 761.12,267.31 765.84,264.81 770.55,262.45 775.26,260.23 779.98,258.12 784.69,256.12 789.4,254.21 794.11,252.38 798.83,250.62 803.54,248.92 808.25,247.29 812.96,245.7 817.67,244.16 822.39,242.65 827.1,241.19 831.81,239.76 836.52,238.37 841.24,237.01 845.95,235.68 850.66,234.38 855.38,233.1 860.09,231.83 864.8,230.56 869.51,229.3 874.23,228.04 878.94,226.77 883.65,225.5 888.36,224.21 893.08,222.91 897.79,221.58 902.5,220.24 907.21,218.87 911.92,217.48 916.64,216.07 921.35,214.65 926.06,213.22 930.78,211.79 935.49,210.35 940.2,208.9 944.91,207.46 949.62,206.01 954.34,204.56 959.05,203.12 963.76,201.68 968.48,200.25 973.19,198.82 977.9,197.4 982.61,195.99 987.33,194.59 992.04,193.2 996.75,191.83 1001.46,190.47 1006.18,189.12 1010.89,187.79 1015.6,186.48 1020.31,185.17 1025.03,183.88 1029.74,182.6 1034.45,181.33 1039.16,180.06 1043.88,178.81 1048.59,177.57 1053.3,176.33 1058.01,175.1 1062.73,173.89 1067.44,172.68 1072.15,171.48 1076.86,170.29 1081.58,169.11 1086.29,167.94 1091,166.78 1095.71,165.63 1100.43,164.49 1105.14,163.36 1109.85,162.24 1114.56,161.14 1119.28,160.07 1123.99,159.03 1128.7,158.04"/>
<rect x="676.3" y="46" width="452.4" height="325.7" fill="none" stroke="#000" stroke-width="1.4"/>
<path d="M676.3 371.7v4.4M695.15 371.7v4.4M714 371.7v4.4M732.85 371.7v4.4M751.7 371.7v4.4M770.55 371.7v4.4M789.4 371.7v4.4M808.25 371.7v4.4M827.1 371.7v4.4M845.95 371.7v4.4M864.8 371.7v4.4M883.65 371.7v4.4M902.5 371.7v4.4M921.35 371.7v4.4M940.2 371.7v4.4M959.05 371.7v4.4M977.9 371.7v4.4M996.75 371.7v4.4M1015.6 371.7v4.4M1034.45 371.7v4.4M1053.3 371.7v4.4M1072.15 371.7v4.4M1091 371.7v4.4M1109.85 371.7v4.4M1128.7 371.7v4.4M676.3 371.7h-4.4M676.3 344.56h-4.4M676.3 317.42h-4.4M676.3 290.27h-4.4M676.3 263.13h-4.4M676.3 235.99h-4.4M676.3 208.85h-4.4M676.3 181.71h-4.4M676.3 154.57h-4.4M676.3 127.43h-4.4M676.3 100.28h-4.4M676.3 73.14h-4.4M676.3 46h-4.4" stroke="#000" stroke-width="1.4" fill="none"/>
<g font-size="12" text-anchor="middle">
<text x="676.3" y="393.75">0</text>
<text x="695.15" y="393.75">1</text>
<text x="714" y="393.75">2</text>
<text x="732.85" y="393.75">3</text>
<text x="751.7" y="393.75">4</text>
<text x="770.55" y="393.75">5</text>
<text x="789.4" y="393.75">6</text>
<text x="808.25" y="393.75">7</text>
<text x="827.1" y="393.75">8</text>
<text x="845.95" y="393.75">9</text>
<text x="864.8" y="393.75">10</text>
<text x="883.65" y="393.75">11</text>
<text x="902.5" y="393.75">12</text>
<text x="921.35" y="393.75">13</text>
<text x="940.2" y="393.75">14</text>
<text x="959.05" y="393.75">15</text>
<text x="977.9" y="393.75">16</text>
<text x="996.75" y="393.75">17</text>
<text x="1015.6" y="393.75">18</text>
<text x="1034.45" y="393.75">19</text>
<text x="1053.3" y="393.75">20</text>
<text x="1072.15" y="393.75">21</text>
<text x="1091" y="393.75">22</text>
<text x="1109.85" y="393.75">23</text>
<text x="1128.7" y="393.75">24</text>
</g>
<g font-size="12" text-anchor="end">
<text x="667.5" y="376.02">40</text>
<text x="667.5" y="348.88">45</text>
<text x="667.5" y="321.74">50</text>
<text x="667.5" y="294.59">55</text>
<text x="667.5" y="267.45">60</text>
<text x="667.5" y="240.31">65</text>
<text x="667.5" y="213.17">70</text>
<text x="667.5" y="186.03">75</text>
<text x="667.5" y="158.89">80</text>
<text x="667.5" y="131.75">85</text>
<text x="667.5" y="104.6">90</text>
<text x="667.5" y="77.46">95</text>
<text x="667.5" y="50.32">100</text>
</g>
<text x="684.4" y="28.25" font-size="15.38" font-weight="bold">Length-for-age z-score curves for girls</text>
<text x="902.5" y="421.75" font-size="15.3" text-anchor="middle">Age (completed months)</text>
<text transform="translate(630.5 208.85) rotate(-90)" font-size="15.3" text-anchor="middle">Length (cm)</text>
<path d="M711.25 86H746.75" stroke="#000" stroke-width="1.3"/>
<path d="M711.25 101.75H746.75" stroke="#000" stroke-width="1.3" stroke-dasharray="10 3.5"/>
<text x="756.4" y="90" font-size="12.55">China 2015 data</text>
<text x="756.4" y="105.5" font-size="12.55">China 2005 data</text>
<g font-size="15.5" text-anchor="middle">
<text x="1140.8" y="67.5">3</text>
<text x="1140.8" y="85.5">2</text>
<text x="1140.8" y="120">0</text>
<text x="1140.8" y="149.7">-2</text>
<text x="1140.8" y="172.5">-3</text>
</g>
</g>
<g>
<polyline fill="none" stroke="#000" stroke-width="1.3" stroke-dasharray="9 3.5" stroke-linejoin="round" points="74.5,746.7 79.33,739.5 84.16,731.52 88.98,723.3 93.81,715.1 98.64,707.04 103.47,699.22 108.3,691.65 113.12,684.39 117.95,677.44 122.78,670.81 127.61,664.52 132.44,658.55 137.27,652.92 142.09,647.63 146.92,642.67 151.75,638.06 156.58,633.78 161.41,629.81 166.23,626.13 171.06,622.69 175.89,619.5 180.72,616.52 185.55,613.74 190.38,611.16 195.2,608.75 200.03,606.5 204.86,604.41 209.69,602.46 214.52,600.63 219.34,598.9 224.17,597.27 229,595.72 233.83,594.23 238.66,592.78 243.48,591.38 248.31,590.01 253.14,588.66 257.97,587.33 262.8,586 267.62,584.68 272.45,583.35 277.28,582.02 282.11,580.69 286.94,579.35 291.77,577.99 296.59,576.63 301.42,575.27 306.25,573.89 311.08,572.51 315.91,571.12 320.73,569.73 325.56,568.33 330.39,566.93 335.22,565.52 340.05,564.11 344.88,562.7 349.7,561.28 354.53,559.87 359.36,558.46 364.19,557.05 369.02,555.64 373.84,554.24 378.67,552.84 383.5,551.44 388.33,550.04 393.16,548.65 397.98,547.26 402.81,545.88 407.64,544.49 412.47,543.11 417.3,541.73 422.12,540.35 426.95,538.96 431.78,537.58 436.61,536.2 441.44,534.81 446.27,533.43 451.09,532.04 455.92,530.66 460.75,529.27 465.58,527.88 470.41,526.5 475.23,525.11 480.06,523.72 484.89,522.33 489.72,520.94 494.55,519.55 499.38,518.16 504.2,516.77 509.03,515.39 513.86,514 518.69,512.61 523.52,511.23 528.34,509.85 533.17,508.46 538,507.08"/>
<polyline fill="none" stroke="#000" stroke-width="1.3" stroke-linejoin="round" points="74.5,741.84 79.33,734.61 84.16,726.61 88.98,718.37 93.81,710.15 98.64,702.07 103.47,694.23 108.3,686.66 113.12,679.39 117.95,672.44 122.78,665.82 127.61,659.54 132.44,653.61 137.27,648.04 142.09,642.84 146.92,638 151.75,633.53 156.58,629.42 161.41,625.63 166.23,622.12 171.06,618.85 175.89,615.79 180.72,612.93 185.55,610.24 190.38,607.7 195.2,605.31 200.03,603.05 204.86,600.92 209.69,598.92 214.52,597.01 219.34,595.21 224.17,593.49 229,591.84 233.83,590.24 238.66,588.69 243.48,587.19 248.31,585.71 253.14,584.27 257.97,582.84 262.8,581.43 267.62,580.04 272.45,578.65 277.28,577.28 282.11,575.91 286.94,574.55 291.77,573.2 296.59,571.85 301.42,570.5 306.25,569.16 311.08,567.81 315.91,566.47 320.73,565.13 325.56,563.79 330.39,562.46 335.22,561.12 340.05,559.79 344.88,558.46 349.7,557.13 354.53,555.8 359.36,554.48 364.19,553.17 369.02,551.85 373.84,550.54 378.67,549.24 383.5,547.93 388.33,546.63 393.16,545.34 397.98,544.04 402.81,542.74 407.64,541.45 412.47,540.15 417.3,538.85 422.12,537.55 426.95,536.25 431.78,534.94 436.61,533.63 441.44,532.33 446.27,531.02 451.09,529.71 455.92,528.4 460.75,527.09 465.58,525.78 470.41,524.47 475.23,523.16 480.06,521.85 484.89,520.54 489.72,519.22 494.55,517.91 499.38,516.6 504.2,515.29 509.03,513.98 513.86,512.67 518.69,511.36 523.52,510.05 528.34,508.74 533.17,507.41 538,506.08"/>
<polyline fill="none" stroke="#000" stroke-width="1.3" stroke-dasharray="9 3.5" stroke-linejoin="round" points="74.5,755.62 79.33,749.23 84.16,742.11 88.98,734.75 93.81,727.4 98.64,720.17 103.47,713.14 108.3,706.34 113.12,699.81 117.95,693.56 122.78,687.59 127.61,681.92 132.44,676.54 137.27,671.46 142.09,666.69 146.92,662.22 151.75,658.06 156.58,654.2 161.41,650.62 166.23,647.29 171.06,644.19 175.89,641.31 180.72,638.63 185.55,636.13 190.38,633.81 195.2,631.65 200.03,629.65 204.86,627.79 209.69,626.05 214.52,624.43 219.34,622.92 224.17,621.48 229,620.12 233.83,618.82 238.66,617.56 243.48,616.34 248.31,615.15 253.14,613.97 257.97,612.81 262.8,611.65 267.62,610.49 272.45,609.33 277.28,608.17 282.11,606.99 286.94,605.81 291.77,604.62 296.59,603.42 301.42,602.21 306.25,600.99 311.08,599.77 315.91,598.54 320.73,597.31 325.56,596.06 330.39,594.82 335.22,593.57 340.05,592.32 344.88,591.06 349.7,589.81 354.53,588.55 359.36,587.3 364.19,586.04 369.02,584.79 373.84,583.54 378.67,582.3 383.5,581.05 388.33,579.81 393.16,578.58 397.98,577.35 402.81,576.12 407.64,574.89 412.47,573.66 417.3,572.43 422.12,571.21 426.95,569.98 431.78,568.75 436.61,567.53 441.44,566.3 446.27,565.07 451.09,563.84 455.92,562.61 460.75,561.38 465.58,560.15 470.41,558.92 475.23,557.69 480.06,556.46 484.89,555.24 489.72,554.01 494.55,552.79 499.38,551.56 504.2,550.34 509.03,549.12 513.86,547.9 518.69,546.68 523.52,545.47 528.34,544.26 533.17,543.05 538,541.85"/>
<polyline fill="none" stroke="#000" stroke-width="1.3" stroke-linejoin="round" points="74.5,752.56 79.33,746.01 84.16,738.68 88.98,731.11 93.81,723.53 98.64,716.08 103.47,708.84 108.3,701.87 113.12,695.18 117.95,688.8 122.78,682.75 127.61,677.01 132.44,671.61 137.27,666.53 142.09,661.78 146.92,657.35 151.75,653.24 156.58,649.45 161.41,645.95 166.23,642.7 171.06,639.67 175.89,636.86 180.72,634.23 185.55,631.79 190.38,629.5 195.2,627.38 200.03,625.39 204.86,623.55 209.69,621.83 214.52,620.22 219.34,618.71 224.17,617.29 229,615.93 233.83,614.64 238.66,613.38 243.48,612.17 248.31,610.98 253.14,609.81 257.97,608.66 262.8,607.51 267.62,606.36 272.45,605.21 277.28,604.05 282.11,602.89 286.94,601.73 291.77,600.55 296.59,599.37 301.42,598.19 306.25,596.99 311.08,595.8 315.91,594.6 320.73,593.39 325.56,592.18 330.39,590.97 335.22,589.76 340.05,588.55 344.88,587.34 349.7,586.12 354.53,584.91 359.36,583.7 364.19,582.49 369.02,581.29 373.84,580.09 378.67,578.89 383.5,577.69 388.33,576.5 393.16,575.32 397.98,574.13 402.81,572.95 407.64,571.77 412.47,570.59 417.3,569.41 422.12,568.23 426.95,567.05 431.78,565.87 436.61,564.69 441.44,563.51 446.27,562.34 451.09,561.16 455.92,559.98 460.75,558.8 465.58,557.62 470.41,556.45 475.23,555.27 480.06,554.1 484.89,552.93 489.72,551.75 494.55,550.59 499.38,549.42 504.2,548.25 509.03,547.09 513.86,545.93 518.69,544.77 523.52,543.61 528.34,542.45 533.17,541.29 538,540.12"/>
<polyline fill="none" stroke="#000" stroke-width="1.3" stroke-dasharray="9 3.5" stroke-linejoin="round" points="74.5,771.65 79.33,766.49 84.16,760.77 88.98,754.88 93.81,748.99 98.64,743.21 103.47,737.58 108.3,732.14 113.12,726.91 117.95,721.89 122.78,717.1 127.61,712.54 132.44,708.21 137.27,704.12 142.09,700.26 146.92,696.63 151.75,693.25 156.58,690.1 161.41,687.18 166.23,684.45 171.06,681.91 175.89,679.54 180.72,677.33 185.55,675.27 190.38,673.36 195.2,671.59 200.03,669.94 204.86,668.41 209.69,666.99 214.52,665.67 219.34,664.44 224.17,663.28 229,662.19 233.83,661.15 238.66,660.15 243.48,659.18 248.31,658.24 253.14,657.32 257.97,656.41 262.8,655.5 267.62,654.6 272.45,653.69 277.28,652.78 282.11,651.86 286.94,650.93 291.77,649.99 296.59,649.04 301.42,648.08 306.25,647.11 311.08,646.14 315.91,645.15 320.73,644.16 325.56,643.17 330.39,642.17 335.22,641.16 340.05,640.15 344.88,639.14 349.7,638.13 354.53,637.12 359.36,636.11 364.19,635.1 369.02,634.09 373.84,633.09 378.67,632.09 383.5,631.1 388.33,630.11 393.16,629.12 397.98,628.14 402.81,627.17 407.64,626.2 412.47,625.23 417.3,624.26 422.12,623.3 426.95,622.34 431.78,621.38 436.61,620.42 441.44,619.46 446.27,618.51 451.09,617.55 455.92,616.59 460.75,615.63 465.58,614.68 470.41,613.71 475.23,612.75 480.06,611.79 484.89,610.82 489.72,609.85 494.55,608.87 499.38,607.9 504.2,606.92 509.03,605.94 513.86,604.95 518.69,603.96 523.52,602.97 528.34,601.97 533.17,600.97 538,599.97"/>
<polyline fill="none" stroke="#000" stroke-width="1.3" stroke-linejoin="round" points="74.5,770.64 79.33,765.32 84.16,759.41 88.98,753.3 93.81,747.19 98.64,741.18 103.47,735.35 108.3,729.73 113.12,724.34 117.95,719.2 122.78,714.31 127.61,709.68 132.44,705.31 137.27,701.2 142.09,697.35 146.92,693.74 151.75,690.39 156.58,687.28 161.41,684.39 166.23,681.7 171.06,679.19 175.89,676.85 180.72,674.66 185.55,672.61 190.38,670.68 195.2,668.87 200.03,667.16 204.86,665.54 209.69,664 214.52,662.54 219.34,661.14 224.17,659.8 229,658.51 233.83,657.27 238.66,656.06 243.48,654.88 248.31,653.74 253.14,652.62 257.97,651.52 262.8,650.45 267.62,649.4 272.45,648.38 277.28,647.37 282.11,646.38 286.94,645.4 291.77,644.44 296.59,643.47 301.42,642.51 306.25,641.54 311.08,640.56 315.91,639.58 320.73,638.59 325.56,637.59 330.39,636.59 335.22,635.58 340.05,634.57 344.88,633.56 349.7,632.55 354.53,631.54 359.36,630.53 364.19,629.52 369.02,628.52 373.84,627.51 378.67,626.52 383.5,625.52 388.33,624.53 393.16,623.55 397.98,622.57 402.81,621.59 407.64,620.62 412.47,619.65 417.3,618.68 422.12,617.72 426.95,616.76 431.78,615.8 436.61,614.84 441.44,613.89 446.27,612.93 451.09,611.97 455.92,611.01 460.75,610.06 465.58,609.1 470.41,608.14 475.23,607.17 480.06,606.21 484.89,605.24 489.72,604.27 494.55,603.3 499.38,602.32 504.2,601.34 509.03,600.36 513.86,599.37 518.69,598.38 523.52,597.39 528.34,596.4 533.17,595.4 538,594.39"/>
<polyline fill="none" stroke="#000" stroke-width="1.3" stroke-dasharray="9 3.5" stroke-linejoin="round" points="74.5,785.48 79.33,781.32 84.16,776.74 88.98,772.02 93.81,767.31 98.64,762.69 103.47,758.18 108.3,753.83 113.12,749.64 117.95,745.62 122.78,741.78 127.61,738.13 132.44,734.65 137.27,731.37 142.09,728.27 146.92,725.35 151.75,722.63 156.58,720.09 161.41,717.73 166.23,715.52 171.06,713.45 175.89,711.52 180.72,709.71 185.55,708.02 190.38,706.44 195.2,704.97 200.03,703.59 204.86,702.3 209.69,701.09 214.52,699.96 219.34,698.9 224.17,697.89 229,696.94 233.83,696.02 238.66,695.14 243.48,694.29 248.31,693.46 253.14,692.64 257.97,691.84 262.8,691.05 267.62,690.26 272.45,689.48 277.28,688.7 282.11,687.91 286.94,687.12 291.77,686.33 296.59,685.54 301.42,684.74 306.25,683.94 311.08,683.14 315.91,682.33 320.73,681.52 325.56,680.71 330.39,679.9 335.22,679.08 340.05,678.27 344.88,677.45 349.7,676.63 354.53,675.82 359.36,675.01 364.19,674.2 369.02,673.39 373.84,672.58 378.67,671.78 383.5,670.98 388.33,670.18 393.16,669.39 397.98,668.59 402.81,667.8 407.64,667.02 412.47,666.23 417.3,665.45 422.12,664.67 426.95,663.89 431.78,663.11 436.61,662.33 441.44,661.55 446.27,660.77 451.09,659.99 455.92,659.2 460.75,658.42 465.58,657.63 470.41,656.84 475.23,656.05 480.06,655.26 484.89,654.47 489.72,653.67 494.55,652.87 499.38,652.06 504.2,651.26 509.03,650.45 513.86,649.63 518.69,648.81 523.52,647.99 528.34,647.17 533.17,646.34 538,645.51"/>
<polyline fill="none" stroke="#000" stroke-width="1.3" stroke-linejoin="round" points="74.5,784.96 79.33,780.82 84.16,776.25 88.98,771.56 93.81,766.87 98.64,762.26 103.47,757.78 108.3,753.43 113.12,749.25 117.95,745.23 122.78,741.38 127.61,737.69 132.44,734.16 137.27,730.78 142.09,727.55 146.92,724.45 151.75,721.5 156.58,718.7 161.41,716.04 166.23,713.54 171.06,711.17 175.89,708.96 180.72,706.89 185.55,704.97 190.38,703.19 195.2,701.54 200.03,700.02 204.86,698.6 209.69,697.27 214.52,696.03 219.34,694.86 224.17,693.76 229,692.71 233.83,691.7 238.66,690.73 243.48,689.8 248.31,688.89 253.14,687.99 257.97,687.11 262.8,686.24 267.62,685.38 272.45,684.52 277.28,683.65 282.11,682.78 286.94,681.91 291.77,681.04 296.59,680.16 301.42,679.28 306.25,678.4 311.08,677.51 315.91,676.63 320.73,675.74 325.56,674.84 330.39,673.95 335.22,673.06 340.05,672.16 344.88,671.27 349.7,670.38 354.53,669.49 359.36,668.6 364.19,667.71 369.02,666.82 373.84,665.94 378.67,665.06 383.5,664.18 388.33,663.3 393.16,662.43 397.98,661.56 402.81,660.69 407.64,659.82 412.47,658.96 417.3,658.09 422.12,657.23 426.95,656.37 431.78,655.5 436.61,654.64 441.44,653.78 446.27,652.91 451.09,652.05 455.92,651.18 460.75,650.31 465.58,649.44 470.41,648.57 475.23,647.69 480.06,646.82 484.89,645.94 489.72,645.05 494.55,644.17 499.38,643.28 504.2,642.38 509.03,641.49 513.86,640.59 518.69,639.68 523.52,638.78 528.34,637.88 533.17,636.99 538,636.11"/>
<polyline fill="none" stroke="#000" stroke-width="1.3" stroke-dasharray="9 3.5" stroke-linejoin="round" points="74.5,791.43 79.33,787.81 84.16,783.77 88.98,779.57 93.81,775.37 98.64,771.22 103.47,767.18 108.3,763.26 113.12,759.49 117.95,755.87 122.78,752.4 127.61,749.1 132.44,745.97 137.27,742.99 142.09,740.19 146.92,737.55 151.75,735.09 156.58,732.79 161.41,730.65 166.23,728.64 171.06,726.77 175.89,725.01 180.72,723.37 185.55,721.83 190.38,720.39 195.2,719.04 200.03,717.77 204.86,716.59 209.69,715.48 214.52,714.43 219.34,713.44 224.17,712.51 229,711.62 233.83,710.76 238.66,709.94 243.48,709.14 248.31,708.37 253.14,707.61 257.97,706.86 262.8,706.12 267.62,705.39 272.45,704.66 277.28,703.94 282.11,703.21 286.94,702.49 291.77,701.76 296.59,701.03 301.42,700.3 306.25,699.57 311.08,698.84 315.91,698.11 320.73,697.37 325.56,696.63 330.39,695.89 335.22,695.16 340.05,694.42 344.88,693.68 349.7,692.94 354.53,692.21 359.36,691.47 364.19,690.74 369.02,690.01 373.84,689.28 378.67,688.55 383.5,687.83 388.33,687.11 393.16,686.39 397.98,685.67 402.81,684.95 407.64,684.24 412.47,683.53 417.3,682.82 422.12,682.11 426.95,681.4 431.78,680.69 436.61,679.98 441.44,679.27 446.27,678.56 451.09,677.85 455.92,677.14 460.75,676.43 465.58,675.71 470.41,674.99 475.23,674.27 480.06,673.55 484.89,672.82 489.72,672.09 494.55,671.36 499.38,670.63 504.2,669.89 509.03,669.15 513.86,668.4 518.69,667.66 523.52,666.9 528.34,666.15 533.17,665.39 538,664.63"/>
<polyline fill="none" stroke="#000" stroke-width="1.3" stroke-linejoin="round" points="74.5,790.97 79.33,787.41 84.16,783.43 88.98,779.3 93.81,775.16 98.64,771.07 103.47,767.08 108.3,763.19 113.12,759.44 117.95,755.83 122.78,752.37 127.61,749.05 132.44,745.87 137.27,742.83 142.09,739.93 146.92,737.15 151.75,734.51 156.58,732.01 161.41,729.64 166.23,727.4 171.06,725.28 175.89,723.29 180.72,721.42 185.55,719.66 190.38,718.03 195.2,716.5 200.03,715.07 204.86,713.73 209.69,712.47 214.52,711.28 219.34,710.16 224.17,709.09 229,708.07 233.83,707.08 238.66,706.13 243.48,705.21 248.31,704.32 253.14,703.43 257.97,702.57 262.8,701.71 267.62,700.86 272.45,700.01 277.28,699.16 282.11,698.31 286.94,697.47 291.77,696.62 296.59,695.77 301.42,694.92 306.25,694.07 311.08,693.21 315.91,692.36 320.73,691.51 325.56,690.65 330.39,689.8 335.22,688.94 340.05,688.09 344.88,687.23 349.7,686.38 354.53,685.53 359.36,684.67 364.19,683.83 369.02,682.98 373.84,682.13 378.67,681.29 383.5,680.44 388.33,679.6 393.16,678.76 397.98,677.92 402.81,677.09 407.64,676.25 412.47,675.41 417.3,674.58 422.12,673.74 426.95,672.9 431.78,672.06 436.61,671.22 441.44,670.38 446.27,669.54 451.09,668.69 455.92,667.84 460.75,666.99 465.58,666.14 470.41,665.28 475.23,664.43 480.06,663.56 484.89,662.7 489.72,661.83 494.55,660.95 499.38,660.08 504.2,659.2 509.03,658.31 513.86,657.42 518.69,656.54 523.52,655.65 528.34,654.77 533.17,653.9 538,653.05"/>
<rect x="74.5" y="480" width="463.5" height="334.7" fill="none" stroke="#000" stroke-width="1.4"/>
<path d="M74.5 814.7v5M93.81 814.7v5M113.12 814.7v5M132.44 814.7v5M151.75 814.7v5M171.06 814.7v5M190.38 814.7v5M209.69 814.7v5M229 814.7v5M248.31 814.7v5M267.62 814.7v5M286.94 814.7v5M306.25 814.7v5M325.56 814.7v5M344.88 814.7v5M364.19 814.7v5M383.5 814.7v5M402.81 814.7v5M422.12 814.7v5M441.44 814.7v5M460.75 814.7v5M480.06 814.7v5M499.38 814.7v5M518.69 814.7v5M538 814.7v5M74.5 814.7h-5M74.5 796.11h-5M74.5 777.51h-5M74.5 758.92h-5M74.5 740.32h-5M74.5 721.73h-5M74.5 703.13h-5M74.5 684.54h-5M74.5 665.94h-5M74.5 647.35h-5M74.5 628.76h-5M74.5 610.16h-5M74.5 591.57h-5M74.5 572.97h-5M74.5 554.38h-5M74.5 535.78h-5M74.5 517.19h-5M74.5 498.59h-5M74.5 480h-5" stroke="#000" stroke-width="1.4" fill="none"/>
<g font-size="12.3" text-anchor="middle">
<text x="74.5" y="838">0</text>
<text x="93.81" y="838">1</text>
<text x="113.12" y="838">2</text>
<text x="132.44" y="838">3</text>
<text x="151.75" y="838">4</text>
<text x="171.06" y="838">5</text>
<text x="190.38" y="838">6</text>
<text x="209.69" y="838">7</text>
<text x="229" y="838">8</text>
<text x="248.31" y="838">9</text>
<text x="267.62" y="838">10</text>
<text x="286.94" y="838">11</text>
<text x="306.25" y="838">12</text>
<text x="325.56" y="838">13</text>
<text x="344.88" y="838">14</text>
<text x="364.19" y="838">15</text>
<text x="383.5" y="838">16</text>
<text x="402.81" y="838">17</text>
<text x="422.12" y="838">18</text>
<text x="441.44" y="838">19</text>
<text x="460.75" y="838">20</text>
<text x="480.06" y="838">21</text>
<text x="499.38" y="838">22</text>
<text x="518.69" y="838">23</text>
<text x="538" y="838">24</text>
</g>
<g font-size="12.3" text-anchor="end">
<text x="63" y="819.13">1</text>
<text x="63" y="800.53">2</text>
<text x="63" y="781.94">3</text>
<text x="63" y="763.34">4</text>
<text x="63" y="744.75">5</text>
<text x="63" y="726.16">6</text>
<text x="63" y="707.56">7</text>
<text x="63" y="688.97">8</text>
<text x="63" y="670.37">9</text>
<text x="63" y="651.78">10</text>
<text x="63" y="633.18">11</text>
<text x="63" y="614.59">12</text>
<text x="63" y="595.99">13</text>
<text x="63" y="577.4">14</text>
<text x="63" y="558.81">15</text>
<text x="63" y="540.21">16</text>
<text x="63" y="521.62">17</text>
<text x="63" y="503.02">18</text>
<text x="63" y="484.43">19</text>
</g>
<text x="74" y="457.5" font-size="15.68" font-weight="bold">Weight-for-age z-score curves for boys</text>
<text x="306.25" y="866.75" font-size="15.7" text-anchor="middle">Age (completed months)</text>
<text transform="translate(35.75 647.35) rotate(-90)" font-size="15.7" text-anchor="middle">Weight (kg)</text>
<path d="M102.5 525.75H138.75" stroke="#000" stroke-width="1.3"/>
<path d="M102.5 542.5H138.75" stroke="#000" stroke-width="1.3" stroke-dasharray="10 3.5"/>
<text x="148.6" y="530.5" font-size="12.9">China 2015 data</text>
<text x="148.6" y="546.75" font-size="12.9">China 2005 data</text>
<g font-size="15.6" text-anchor="middle">
<text x="552.2" y="515.5">3</text>
<text x="552.2" y="550.3">2</text>
<text x="552.2" y="606.7">0</text>
<text x="552.2" y="643">-2</text>
<text x="552.2" y="666.3">-3</text>
</g>
</g>
<g>
<polyline fill="none" stroke="#000" stroke-width="1.3" stroke-dasharray="9 3.5" stroke-linejoin="round" points="670,745.78 674.77,740.49 679.53,734.06 684.3,727.19 689.07,720.2 693.83,713.25 698.6,706.46 703.37,699.89 708.13,693.58 712.9,687.55 717.67,681.79 722.43,676.31 727.2,671.1 731.97,666.15 736.73,661.46 741.5,657.02 746.27,652.84 751.03,648.89 755.8,645.17 760.57,641.66 765.33,638.34 770.1,635.21 774.87,632.25 779.63,629.46 784.4,626.85 789.17,624.41 793.93,622.13 798.7,620.01 803.47,618.03 808.23,616.2 813,614.49 817.77,612.89 822.53,611.39 827.3,609.95 832.07,608.58 836.83,607.24 841.6,605.94 846.37,604.64 851.13,603.36 855.9,602.08 860.67,600.78 865.43,599.48 870.2,598.17 874.97,596.85 879.73,595.52 884.5,594.19 889.27,592.85 894.03,591.5 898.8,590.15 903.57,588.81 908.33,587.46 913.1,586.11 917.87,584.77 922.63,583.43 927.4,582.09 932.17,580.76 936.93,579.42 941.7,578.09 946.47,576.75 951.23,575.42 956,574.09 960.77,572.75 965.53,571.42 970.3,570.08 975.07,568.74 979.83,567.4 984.6,566.05 989.37,564.7 994.13,563.34 998.9,561.98 1003.67,560.62 1008.43,559.25 1013.2,557.87 1017.97,556.48 1022.73,555.09 1027.5,553.7 1032.27,552.3 1037.03,550.89 1041.8,549.48 1046.57,548.07 1051.33,546.65 1056.1,545.23 1060.87,543.8 1065.63,542.38 1070.4,540.95 1075.17,539.52 1079.93,538.09 1084.7,536.65 1089.47,535.22 1094.23,533.78 1099,532.35 1103.77,530.91 1108.53,529.48 1113.3,528.04 1118.07,526.61 1122.83,525.17 1127.6,523.74"/>
<polyline fill="none" stroke="#000" stroke-width="1.3" stroke-linejoin="round" points="670,744.14 674.77,736.45 679.53,727.98 684.3,719.7 689.07,712.18 693.83,705.38 698.6,698.87 703.37,692.59 708.13,686.44 712.9,679.82 717.67,672.71 722.43,665.9 727.2,660.17 731.97,656.58 736.73,653.28 741.5,648.95 746.27,644.71 751.03,640.69 755.8,636.98 760.57,633.57 765.33,630.38 770.1,627.37 774.87,624.53 779.63,621.83 784.4,619.26 789.17,616.79 793.93,614.41 798.7,612.11 803.47,609.89 808.23,607.74 813,605.66 817.77,603.65 822.53,601.72 827.3,599.85 832.07,598.05 836.83,596.33 841.6,594.69 846.37,593.14 851.13,591.7 855.9,590.35 860.67,589.08 865.43,587.87 870.2,586.7 874.97,585.57 879.73,584.44 884.5,583.32 889.27,582.18 894.03,581.01 898.8,579.8 903.57,578.56 908.33,577.32 913.1,576.08 917.87,574.84 922.63,573.6 927.4,572.35 932.17,571.11 936.93,569.86 941.7,568.61 946.47,567.36 951.23,566.11 956,564.86 960.77,563.6 965.53,562.34 970.3,561.08 975.07,559.81 979.83,558.55 984.6,557.28 989.37,556.01 994.13,554.73 998.9,553.46 1003.67,552.18 1008.43,550.91 1013.2,549.63 1017.97,548.35 1022.73,547.06 1027.5,545.77 1032.27,544.47 1037.03,543.17 1041.8,541.87 1046.57,540.57 1051.33,539.26 1056.1,537.95 1060.87,536.64 1065.63,535.32 1070.4,534.01 1075.17,532.69 1079.93,531.38 1084.7,530.06 1089.47,528.75 1094.23,527.43 1099,526.12 1103.77,524.8 1108.53,523.49 1113.3,522.18 1118.07,520.87 1122.83,519.56 1127.6,518.25"/>
<polyline fill="none" stroke="#000" stroke-width="1.3" stroke-dasharray="9 3.5" stroke-linejoin="round" points="670,755.83 674.77,751.11 679.53,745.4 684.3,739.29 689.07,733.06 693.83,726.88 698.6,720.82 703.37,714.94 708.13,709.27 712.9,703.84 717.67,698.64 722.43,693.68 727.2,688.95 731.97,684.45 736.73,680.17 741.5,676.11 746.27,672.27 751.03,668.65 755.8,665.23 760.57,661.99 765.33,658.93 770.1,656.03 774.87,653.31 779.63,650.74 784.4,648.34 789.17,646.11 793.93,644.04 798.7,642.13 803.47,640.37 808.23,638.75 813,637.25 817.77,635.87 822.53,634.57 827.3,633.35 832.07,632.18 836.83,631.05 841.6,629.94 846.37,628.85 851.13,627.75 855.9,626.65 860.67,625.54 865.43,624.41 870.2,623.26 874.97,622.1 879.73,620.93 884.5,619.74 889.27,618.55 894.03,617.35 898.8,616.15 903.57,614.95 908.33,613.74 913.1,612.54 917.87,611.34 922.63,610.15 927.4,608.95 932.17,607.76 936.93,606.57 941.7,605.39 946.47,604.2 951.23,603.02 956,601.83 960.77,600.65 965.53,599.46 970.3,598.27 975.07,597.09 979.83,595.89 984.6,594.7 989.37,593.5 994.13,592.3 998.9,591.1 1003.67,589.89 1008.43,588.68 1013.2,587.46 1017.97,586.24 1022.73,585.01 1027.5,583.78 1032.27,582.54 1037.03,581.3 1041.8,580.06 1046.57,578.81 1051.33,577.56 1056.1,576.31 1060.87,575.06 1065.63,573.81 1070.4,572.56 1075.17,571.31 1079.93,570.06 1084.7,568.81 1089.47,567.56 1094.23,566.31 1099,565.06 1103.77,563.82 1108.53,562.58 1113.3,561.34 1118.07,560.1 1122.83,558.86 1127.6,557.63"/>
<polyline fill="none" stroke="#000" stroke-width="1.3" stroke-linejoin="round" points="670,755.11 674.77,747.37 679.53,739.09 684.3,731.2 689.07,724.33 693.83,718.31 698.6,712.59 703.37,707.07 708.13,701.61 712.9,695.77 717.67,689.61 722.43,683.71 727.2,678.65 731.97,675.26 736.73,672.12 741.5,668.29 746.27,664.65 751.03,661.23 755.8,658.05 760.57,655.08 765.33,652.3 770.1,649.67 774.87,647.18 779.63,644.81 784.4,642.55 789.17,640.38 793.93,638.27 798.7,636.23 803.47,634.25 808.23,632.34 813,630.48 817.77,628.68 822.53,626.95 827.3,625.27 832.07,623.65 836.83,622.09 841.6,620.61 846.37,619.21 851.13,617.91 855.9,616.68 860.67,615.53 865.43,614.42 870.2,613.36 874.97,612.32 879.73,611.3 884.5,610.28 889.27,609.25 894.03,608.19 898.8,607.09 903.57,605.97 908.33,604.85 913.1,603.73 917.87,602.62 922.63,601.5 927.4,600.39 932.17,599.27 936.93,598.16 941.7,597.04 946.47,595.93 951.23,594.81 956,593.69 960.77,592.57 965.53,591.45 970.3,590.32 975.07,589.2 979.83,588.07 984.6,586.94 989.37,585.81 994.13,584.68 998.9,583.54 1003.67,582.41 1008.43,581.27 1013.2,580.14 1017.97,579 1022.73,577.85 1027.5,576.71 1032.27,575.55 1037.03,574.4 1041.8,573.24 1046.57,572.09 1051.33,570.93 1056.1,569.77 1060.87,568.61 1065.63,567.45 1070.4,566.29 1075.17,565.13 1079.93,563.97 1084.7,562.81 1089.47,561.66 1094.23,560.5 1099,559.35 1103.77,558.2 1108.53,557.06 1113.3,555.91 1118.07,554.77 1122.83,553.64 1127.6,552.51"/>
<polyline fill="none" stroke="#000" stroke-width="1.3" stroke-dasharray="9 3.5" stroke-linejoin="round" points="670,772.23 674.77,768.27 679.53,763.65 684.3,758.78 689.07,753.84 693.83,748.94 698.6,744.13 703.37,739.44 708.13,734.91 712.9,730.54 717.67,726.35 722.43,722.33 727.2,718.49 731.97,714.82 736.73,711.34 741.5,708.04 746.27,704.92 751.03,701.98 755.8,699.21 760.57,696.59 765.33,694.11 770.1,691.77 774.87,689.57 779.63,687.49 784.4,685.54 789.17,683.73 793.93,682.04 798.7,680.47 803.47,679.01 808.23,677.67 813,676.42 817.77,675.25 822.53,674.16 827.3,673.12 832.07,672.12 836.83,671.15 841.6,670.21 846.37,669.27 851.13,668.34 855.9,667.4 860.67,666.46 865.43,665.51 870.2,664.56 874.97,663.59 879.73,662.62 884.5,661.65 889.27,660.67 894.03,659.68 898.8,658.7 903.57,657.72 908.33,656.74 913.1,655.77 917.87,654.8 922.63,653.83 927.4,652.87 932.17,651.91 936.93,650.95 941.7,650 946.47,649.06 951.23,648.11 956,647.17 960.77,646.23 965.53,645.29 970.3,644.35 975.07,643.42 979.83,642.48 984.6,641.55 989.37,640.61 994.13,639.68 998.9,638.74 1003.67,637.8 1008.43,636.87 1013.2,635.93 1017.97,634.99 1022.73,634.04 1027.5,633.1 1032.27,632.15 1037.03,631.2 1041.8,630.24 1046.57,629.29 1051.33,628.33 1056.1,627.36 1060.87,626.4 1065.63,625.43 1070.4,624.45 1075.17,623.47 1079.93,622.49 1084.7,621.5 1089.47,620.51 1094.23,619.51 1099,618.51 1103.77,617.5 1108.53,616.49 1113.3,615.47 1118.07,614.45 1122.83,613.42 1127.6,612.39"/>
<polyline fill="none" stroke="#000" stroke-width="1.3" stroke-linejoin="round" points="670,771.68 674.77,765.53 679.53,759 684.3,752.72 689.07,747.1 693.83,742.03 698.6,737.14 703.37,732.39 708.13,727.74 712.9,723.03 717.67,718.29 722.43,713.8 727.2,709.83 731.97,706.99 736.73,704.45 741.5,701.48 746.27,698.67 751.03,696.03 755.8,693.57 760.57,691.29 765.33,689.16 770.1,687.15 774.87,685.25 779.63,683.42 784.4,681.67 789.17,679.94 793.93,678.22 798.7,676.52 803.47,674.84 808.23,673.18 813,671.56 817.77,669.98 822.53,668.45 827.3,666.98 832.07,665.57 836.83,664.24 841.6,663 846.37,661.85 851.13,660.78 855.9,659.78 860.67,658.84 865.43,657.94 870.2,657.07 874.97,656.21 879.73,655.37 884.5,654.52 889.27,653.65 894.03,652.75 898.8,651.81 903.57,650.85 908.33,649.9 913.1,648.95 917.87,648 922.63,647.06 927.4,646.13 932.17,645.19 936.93,644.26 941.7,643.33 946.47,642.41 951.23,641.48 956,640.56 960.77,639.64 965.53,638.72 970.3,637.8 975.07,636.88 979.83,635.96 984.6,635.04 989.37,634.12 994.13,633.2 998.9,632.28 1003.67,631.36 1008.43,630.44 1013.2,629.52 1017.97,628.59 1022.73,627.67 1027.5,626.74 1032.27,625.81 1037.03,624.88 1041.8,623.94 1046.57,623 1051.33,622.06 1056.1,621.11 1060.87,620.16 1065.63,619.2 1070.4,618.25 1075.17,617.28 1079.93,616.31 1084.7,615.34 1089.47,614.36 1094.23,613.38 1099,612.39 1103.77,611.4 1108.53,610.4 1113.3,609.39 1118.07,608.38 1122.83,607.37 1127.6,606.34"/>
<polyline fill="none" stroke="#000" stroke-width="1.3" stroke-dasharray="9 3.5" stroke-linejoin="round" points="670,784.53 674.77,781.34 679.53,777.62 684.3,773.69 689.07,769.71 693.83,765.75 698.6,761.87 703.37,758.08 708.13,754.42 712.9,750.89 717.67,747.5 722.43,744.25 727.2,741.15 731.97,738.19 736.73,735.38 741.5,732.72 746.27,730.21 751.03,727.85 755.8,725.62 760.57,723.52 765.33,721.53 770.1,719.65 774.87,717.87 779.63,716.19 784.4,714.61 789.17,713.12 793.93,711.72 798.7,710.4 803.47,709.17 808.23,708.01 813,706.92 817.77,705.89 822.53,704.91 827.3,703.97 832.07,703.06 836.83,702.18 841.6,701.33 846.37,700.48 851.13,699.64 855.9,698.82 860.67,697.99 865.43,697.16 870.2,696.34 874.97,695.52 879.73,694.7 884.5,693.88 889.27,693.06 894.03,692.24 898.8,691.43 903.57,690.63 908.33,689.83 913.1,689.03 917.87,688.24 922.63,687.45 927.4,686.67 932.17,685.89 936.93,685.11 941.7,684.34 946.47,683.58 951.23,682.81 956,682.05 960.77,681.29 965.53,680.53 970.3,679.78 975.07,679.02 979.83,678.27 984.6,677.52 989.37,676.76 994.13,676.01 998.9,675.26 1003.67,674.51 1008.43,673.75 1013.2,673 1017.97,672.24 1022.73,671.48 1027.5,670.73 1032.27,669.97 1037.03,669.2 1041.8,668.44 1046.57,667.67 1051.33,666.9 1056.1,666.13 1060.87,665.35 1065.63,664.57 1070.4,663.79 1075.17,663.01 1079.93,662.22 1084.7,661.43 1089.47,660.63 1094.23,659.83 1099,659.03 1103.77,658.22 1108.53,657.41 1113.3,656.59 1118.07,655.77 1122.83,654.95 1127.6,654.12"/>
<polyline fill="none" stroke="#000" stroke-width="1.3" stroke-linejoin="round" points="670,784.54 674.77,779.79 679.53,774.72 684.3,769.85 689.07,765.52 693.83,761.6 698.6,757.79 703.37,754.09 708.13,750.48 712.9,746.67 717.67,742.62 722.43,738.73 727.2,735.38 731.97,732.78 736.73,730.33 741.5,727.76 746.27,725.32 751.03,723.03 755.8,720.88 760.57,718.87 765.33,716.96 770.1,715.15 774.87,713.43 779.63,711.81 784.4,710.27 789.17,708.81 793.93,707.41 798.7,706.06 803.47,704.76 808.23,703.51 813,702.31 817.77,701.14 822.53,700.01 827.3,698.91 832.07,697.84 836.83,696.8 841.6,695.8 846.37,694.83 851.13,693.92 855.9,693.05 860.67,692.22 865.43,691.42 870.2,690.64 874.97,689.87 879.73,689.11 884.5,688.34 889.27,687.57 894.03,686.79 898.8,685.98 903.57,685.15 908.33,684.33 913.1,683.5 917.87,682.67 922.63,681.84 927.4,681.01 932.17,680.18 936.93,679.34 941.7,678.51 946.47,677.67 951.23,676.83 956,675.99 960.77,675.16 965.53,674.32 970.3,673.48 975.07,672.65 979.83,671.81 984.6,670.98 989.37,670.15 994.13,669.32 998.9,668.49 1003.67,667.67 1008.43,666.85 1013.2,666.04 1017.97,665.23 1022.73,664.41 1027.5,663.6 1032.27,662.78 1037.03,661.96 1041.8,661.14 1046.57,660.32 1051.33,659.5 1056.1,658.67 1060.87,657.84 1065.63,657.01 1070.4,656.17 1075.17,655.33 1079.93,654.49 1084.7,653.65 1089.47,652.8 1094.23,651.95 1099,651.09 1103.77,650.23 1108.53,649.37 1113.3,648.5 1118.07,647.63 1122.83,646.76 1127.6,645.88"/>
<polyline fill="none" stroke="#000" stroke-width="1.3" stroke-dasharray="9 3.5" stroke-linejoin="round" points="670,789.68 674.77,786.69 679.53,783.28 684.3,779.71 689.07,776.1 693.83,772.52 698.6,769.01 703.37,765.6 708.13,762.3 712.9,759.12 717.67,756.06 722.43,753.13 727.2,750.34 731.97,747.67 736.73,745.14 741.5,742.74 746.27,740.48 751.03,738.34 755.8,736.33 760.57,734.42 765.33,732.62 770.1,730.91 774.87,729.3 779.63,727.77 784.4,726.32 789.17,724.96 793.93,723.68 798.7,722.47 803.47,721.33 808.23,720.26 813,719.25 817.77,718.29 822.53,717.37 827.3,716.5 832.07,715.65 836.83,714.83 841.6,714.02 846.37,713.24 851.13,712.46 855.9,711.69 860.67,710.93 865.43,710.17 870.2,709.41 874.97,708.65 879.73,707.9 884.5,707.16 889.27,706.41 894.03,705.67 898.8,704.93 903.57,704.2 908.33,703.48 913.1,702.76 917.87,702.04 922.63,701.33 927.4,700.62 932.17,699.92 936.93,699.22 941.7,698.53 946.47,697.84 951.23,697.15 956,696.46 960.77,695.78 965.53,695.1 970.3,694.42 975.07,693.74 979.83,693.06 984.6,692.39 989.37,691.71 994.13,691.03 998.9,690.36 1003.67,689.68 1008.43,689.01 1013.2,688.33 1017.97,687.65 1022.73,686.97 1027.5,686.29 1032.27,685.6 1037.03,684.92 1041.8,684.23 1046.57,683.54 1051.33,682.85 1056.1,682.16 1060.87,681.46 1065.63,680.76 1070.4,680.06 1075.17,679.35 1079.93,678.64 1084.7,677.93 1089.47,677.22 1094.23,676.5 1099,675.77 1103.77,675.05 1108.53,674.32 1113.3,673.58 1118.07,672.84 1122.83,672.1 1127.6,671.35"/>
<polyline fill="none" stroke="#000" stroke-width="1.3" stroke-linejoin="round" points="670,789.68 674.77,785.31 679.53,780.7 684.3,776.26 689.07,772.27 693.83,768.63 698.6,765.11 703.37,761.68 708.13,758.34 712.9,754.88 717.67,751.29 722.43,747.87 727.2,744.88 731.97,742.52 736.73,740.37 741.5,738.18 746.27,736.11 751.03,734.16 755.8,732.31 760.57,730.57 765.33,728.93 770.1,727.37 774.87,725.89 779.63,724.48 784.4,723.12 789.17,721.79 793.93,720.48 798.7,719.19 803.47,717.92 808.23,716.68 813,715.46 817.77,714.28 822.53,713.14 827.3,712.04 832.07,710.99 836.83,709.99 841.6,709.05 846.37,708.17 851.13,707.32 855.9,706.5 860.67,705.72 865.43,704.95 870.2,704.21 874.97,703.47 879.73,702.75 884.5,702.03 889.27,701.3 894.03,700.58 898.8,699.84 903.57,699.09 908.33,698.33 913.1,697.57 917.87,696.8 922.63,696.03 927.4,695.25 932.17,694.46 936.93,693.67 941.7,692.88 946.47,692.09 951.23,691.29 956,690.49 960.77,689.69 965.53,688.88 970.3,688.08 975.07,687.28 979.83,686.48 984.6,685.69 989.37,684.89 994.13,684.1 998.9,683.32 1003.67,682.54 1008.43,681.77 1013.2,681 1017.97,680.24 1022.73,679.48 1027.5,678.71 1032.27,677.95 1037.03,677.18 1041.8,676.42 1046.57,675.65 1051.33,674.88 1056.1,674.1 1060.87,673.33 1065.63,672.55 1070.4,671.77 1075.17,670.99 1079.93,670.21 1084.7,669.42 1089.47,668.63 1094.23,667.84 1099,667.04 1103.77,666.24 1108.53,665.44 1113.3,664.63 1118.07,663.83 1122.83,663.01 1127.6,662.2"/>
<rect x="670" y="483" width="457.6" height="329.6" fill="none" stroke="#000" stroke-width="1.4"/>
<path d="M670 812.6v4.7M689.07 812.6v4.7M708.13 812.6v4.7M727.2 812.6v4.7M746.27 812.6v4.7M765.33 812.6v4.7M784.4 812.6v4.7M803.47 812.6v4.7M822.53 812.6v4.7M841.6 812.6v4.7M860.67 812.6v4.7M879.73 812.6v4.7M898.8 812.6v4.7M917.87 812.6v4.7M936.93 812.6v4.7M956 812.6v4.7M975.07 812.6v4.7M994.13 812.6v4.7M1013.2 812.6v4.7M1032.27 812.6v4.7M1051.33 812.6v4.7M1070.4 812.6v4.7M1089.47 812.6v4.7M1108.53 812.6v4.7M1127.6 812.6v4.7M670 812.6h-4.7M670 794.29h-4.7M670 775.98h-4.7M670 757.67h-4.7M670 739.36h-4.7M670 721.04h-4.7M670 702.73h-4.7M670 684.42h-4.7M670 666.11h-4.7M670 647.8h-4.7M670 629.49h-4.7M670 611.18h-4.7M670 592.87h-4.7M670 574.56h-4.7M670 556.24h-4.7M670 537.93h-4.7M670 519.62h-4.7M670 501.31h-4.7M670 483h-4.7" stroke="#000" stroke-width="1.4" fill="none"/>
<g font-size="12.15" text-anchor="middle">
<text x="670" y="835.5">0</text>
<text x="689.07" y="835.5">1</text>
<text x="708.13" y="835.5">2</text>
<text x="727.2" y="835.5">3</text>
<text x="746.27" y="835.5">4</text>
<text x="765.33" y="835.5">5</text>
<text x="784.4" y="835.5">6</text>
<text x="803.47" y="835.5">7</text>
<text x="822.53" y="835.5">8</text>
<text x="841.6" y="835.5">9</text>
<text x="860.67" y="835.5">10</text>
<text x="879.73" y="835.5">11</text>
<text x="898.8" y="835.5">12</text>
<text x="917.87" y="835.5">13</text>
<text x="936.93" y="835.5">14</text>
<text x="956" y="835.5">15</text>
<text x="975.07" y="835.5">16</text>
<text x="994.13" y="835.5">17</text>
<text x="1013.2" y="835.5">18</text>
<text x="1032.27" y="835.5">19</text>
<text x="1051.33" y="835.5">20</text>
<text x="1070.4" y="835.5">21</text>
<text x="1089.47" y="835.5">22</text>
<text x="1108.53" y="835.5">23</text>
<text x="1127.6" y="835.5">24</text>
</g>
<g font-size="12.15" text-anchor="end">
<text x="659" y="816.97">1</text>
<text x="659" y="798.66">2</text>
<text x="659" y="780.35">3</text>
<text x="659" y="762.04">4</text>
<text x="659" y="743.73">5</text>
<text x="659" y="725.42">6</text>
<text x="659" y="707.11">7</text>
<text x="659" y="688.8">8</text>
<text x="659" y="670.49">9</text>
<text x="659" y="652.17">10</text>
<text x="659" y="633.86">11</text>
<text x="659" y="615.55">12</text>
<text x="659" y="597.24">13</text>
<text x="659" y="578.93">14</text>
<text x="659" y="560.62">15</text>
<text x="659" y="542.31">16</text>
<text x="659" y="524">17</text>
<text x="659" y="505.69">18</text>
<text x="659" y="487.37">19</text>
</g>
<text x="670.5" y="461.25" font-size="15.55" font-weight="bold">Weight-for-age z-score curves for girls</text>
<text x="898.8" y="863.75" font-size="15.5" text-anchor="middle">Age (completed months)</text>
<text transform="translate(630.5 647.8) rotate(-90)" font-size="15.5" text-anchor="middle">Weight (kg)</text>
<path d="M697.5 528.75H733.75" stroke="#000" stroke-width="1.3"/>
<path d="M697.5 545H733.75" stroke="#000" stroke-width="1.3" stroke-dasharray="10 3.5"/>
<text x="742.6" y="533" font-size="12.75">China 2015 data</text>
<text x="742.6" y="549.25" font-size="12.75">China 2005 data</text>
<g font-size="15.6" text-anchor="middle">
<text x="1140.7" y="527">3</text>
<text x="1140.7" y="559.2">2</text>
<text x="1140.7" y="619.2">0</text>
<text x="1140.7" y="655.8">-2</text>
<text x="1140.7" y="680.3">-3</text>
</g>
</g>
<g>
<polyline fill="none" stroke="#000" stroke-width="1.3" stroke-dasharray="9 3.5" stroke-linejoin="round" points="74.6,1120.65 79.66,1111.24 84.73,1102.74 89.79,1095 94.86,1087.89 99.92,1081.33 104.98,1075.24 110.05,1069.57 115.11,1064.27 120.18,1059.3 125.24,1054.61 130.31,1050.17 135.37,1045.96 140.43,1041.95 145.5,1038.13 150.56,1034.48 155.63,1031 160.69,1027.67 165.75,1024.49 170.82,1021.46 175.88,1018.57 180.95,1015.82 186.01,1013.2 191.07,1010.72 196.14,1008.36 201.2,1006.12 206.27,1003.98 211.33,1001.95 216.4,1000.02 221.46,998.18 226.52,996.42 231.59,994.74 236.65,993.13 241.72,991.59 246.78,990.11 251.84,988.68 256.91,987.31 261.97,986 267.04,984.73 272.1,983.51 277.17,982.33 282.23,981.19 287.29,980.08 292.36,979.02 297.42,977.98 302.49,976.98 307.55,976.01 312.61,975.06 317.68,974.14 322.74,973.25 327.81,972.38 332.87,971.53 337.93,970.71 343,969.9 348.06,969.12 353.13,968.35 358.19,967.6 363.26,966.87 368.32,966.16 373.38,965.46 378.45,964.78 383.51,964.12 388.58,963.47 393.64,962.83 398.7,962.21 403.77,961.6 408.83,961 413.9,960.42 418.96,959.85 424.02,959.29 429.09,958.75 434.15,958.21 439.22,957.68 444.28,957.16 449.35,956.65 454.41,956.14 459.47,955.64 464.54,955.15 469.6,954.66 474.67,954.18 479.73,953.7 484.79,953.21 489.86,952.73 494.92,952.26 499.99,951.78 505.05,951.29 510.12,950.81 515.18,950.33 520.24,949.84 525.31,949.35 530.37,948.85 535.44,948.35 540.5,947.85"/>
<polyline fill="none" stroke="#000" stroke-width="1.3" stroke-linejoin="round" points="74.6,1109.29 79.66,1100.95 84.73,1093.77 89.79,1087.51 94.86,1081.95 99.92,1076.9 104.98,1072.19 110.05,1067.72 115.11,1063.38 120.18,1059.14 125.24,1054.98 130.31,1050.94 135.37,1047.02 140.43,1043.25 145.5,1039.62 150.56,1036.14 155.63,1032.8 160.69,1029.58 165.75,1026.5 170.82,1023.54 175.88,1020.69 180.95,1017.97 186.01,1015.37 191.07,1012.89 196.14,1010.52 201.2,1008.27 206.27,1006.13 211.33,1004.09 216.4,1002.14 221.46,1000.29 226.52,998.51 231.59,996.81 236.65,995.18 241.72,993.62 246.78,992.12 251.84,990.67 256.91,989.28 261.97,987.94 267.04,986.64 272.1,985.4 277.17,984.19 282.23,983.02 287.29,981.89 292.36,980.79 297.42,979.72 302.49,978.69 307.55,977.67 312.61,976.69 317.68,975.72 322.74,974.78 327.81,973.85 332.87,972.94 337.93,972.05 343,971.18 348.06,970.32 353.13,969.48 358.19,968.66 363.26,967.85 368.32,967.05 373.38,966.27 378.45,965.5 383.51,964.75 388.58,964.01 393.64,963.29 398.7,962.57 403.77,961.87 408.83,961.19 413.9,960.51 418.96,959.85 424.02,959.19 429.09,958.55 434.15,957.91 439.22,957.28 444.28,956.66 449.35,956.04 454.41,955.43 459.47,954.82 464.54,954.21 469.6,953.6 474.67,953 479.73,952.39 484.79,951.79 489.86,951.18 494.92,950.58 499.99,949.97 505.05,949.35 510.12,948.74 515.18,948.12 520.24,947.49 525.31,946.87 530.37,946.26 535.44,945.65 540.5,945.06"/>
<polyline fill="none" stroke="#000" stroke-width="1.3" stroke-dasharray="9 3.5" stroke-linejoin="round" points="74.6,1139.62 79.66,1130.9 84.73,1122.89 89.79,1115.5 94.86,1108.63 99.92,1102.24 104.98,1096.28 110.05,1090.69 115.11,1085.43 120.18,1080.48 125.24,1075.79 130.31,1071.34 135.37,1067.1 140.43,1063.06 145.5,1059.19 150.56,1055.49 155.63,1051.94 160.69,1048.53 165.75,1045.28 170.82,1042.17 175.88,1039.21 180.95,1036.41 186.01,1033.74 191.07,1031.22 196.14,1028.83 201.2,1026.56 206.27,1024.42 211.33,1022.38 216.4,1020.44 221.46,1018.6 226.52,1016.84 231.59,1015.16 236.65,1013.56 241.72,1012.02 246.78,1010.54 251.84,1009.12 256.91,1007.76 261.97,1006.45 267.04,1005.18 272.1,1003.96 277.17,1002.78 282.23,1001.64 287.29,1000.54 292.36,999.47 297.42,998.44 302.49,997.44 307.55,996.47 312.61,995.52 317.68,994.6 322.74,993.71 327.81,992.84 332.87,991.99 337.93,991.16 343,990.36 348.06,989.57 353.13,988.8 358.19,988.05 363.26,987.32 368.32,986.61 373.38,985.91 378.45,985.22 383.51,984.56 388.58,983.9 393.64,983.27 398.7,982.64 403.77,982.03 408.83,981.44 413.9,980.85 418.96,980.28 424.02,979.72 429.09,979.17 434.15,978.63 439.22,978.1 444.28,977.58 449.35,977.07 454.41,976.56 459.47,976.06 464.54,975.57 469.6,975.08 474.67,974.59 479.73,974.11 484.79,973.63 489.86,973.15 494.92,972.67 499.99,972.19 505.05,971.7 510.12,971.22 515.18,970.74 520.24,970.25 525.31,969.76 530.37,969.26 535.44,968.76 540.5,968.26"/>
<polyline fill="none" stroke="#000" stroke-width="1.3" stroke-linejoin="round" points="74.6,1131.9 79.66,1123.83 84.73,1116.64 89.79,1110.19 94.86,1104.35 99.92,1099 104.98,1094.03 110.05,1089.35 115.11,1084.88 120.18,1080.57 125.24,1076.39 130.31,1072.32 135.37,1068.38 140.43,1064.56 145.5,1060.87 150.56,1057.3 155.63,1053.86 160.69,1050.54 165.75,1047.35 170.82,1044.29 175.88,1041.36 180.95,1038.57 186.01,1035.91 191.07,1033.39 196.14,1030.99 201.2,1028.72 206.27,1026.56 211.33,1024.51 216.4,1022.56 221.46,1020.71 226.52,1018.93 231.59,1017.24 236.65,1015.61 241.72,1014.05 246.78,1012.55 251.84,1011.11 256.91,1009.72 261.97,1008.39 267.04,1007.09 272.1,1005.85 277.17,1004.64 282.23,1003.48 287.29,1002.34 292.36,1001.25 297.42,1000.18 302.49,999.14 307.55,998.13 312.61,997.14 317.68,996.18 322.74,995.23 327.81,994.31 332.87,993.4 337.93,992.51 343,991.63 348.06,990.78 353.13,989.93 358.19,989.11 363.26,988.3 368.32,987.5 373.38,986.72 378.45,985.95 383.51,985.19 388.58,984.45 393.64,983.72 398.7,983.01 403.77,982.31 408.83,981.62 413.9,980.94 418.96,980.28 424.02,979.62 429.09,978.97 434.15,978.34 439.22,977.7 444.28,977.08 449.35,976.46 454.41,975.84 459.47,975.23 464.54,974.62 469.6,974.02 474.67,973.41 479.73,972.81 484.79,972.2 489.86,971.59 494.92,970.99 499.99,970.38 505.05,969.76 510.12,969.14 515.18,968.52 520.24,967.9 525.31,967.28 530.37,966.67 535.44,966.06 540.5,965.48"/>
<polyline fill="none" stroke="#000" stroke-width="1.3" stroke-dasharray="9 3.5" stroke-linejoin="round" points="74.6,1176.15 79.66,1167.73 84.73,1160.08 89.79,1153.06 94.86,1146.6 99.92,1140.6 104.98,1135 110.05,1129.76 115.11,1124.83 120.18,1120.16 125.24,1115.71 130.31,1111.46 135.37,1107.38 140.43,1103.45 145.5,1099.65 150.56,1095.98 155.63,1092.44 160.69,1089.02 165.75,1085.73 170.82,1082.57 175.88,1079.56 180.95,1076.67 186.01,1073.93 191.07,1071.32 196.14,1068.85 201.2,1066.5 206.27,1064.27 211.33,1062.15 216.4,1060.14 221.46,1058.22 226.52,1056.4 231.59,1054.66 236.65,1052.99 241.72,1051.4 246.78,1049.87 251.84,1048.41 256.91,1047 261.97,1045.65 267.04,1044.35 272.1,1043.09 277.17,1041.88 282.23,1040.71 287.29,1039.59 292.36,1038.5 297.42,1037.44 302.49,1036.42 307.55,1035.43 312.61,1034.47 317.68,1033.53 322.74,1032.63 327.81,1031.74 332.87,1030.89 337.93,1030.05 343,1029.23 348.06,1028.44 353.13,1027.67 358.19,1026.91 363.26,1026.17 368.32,1025.45 373.38,1024.75 378.45,1024.06 383.51,1023.4 388.58,1022.74 393.64,1022.1 398.7,1021.48 403.77,1020.87 408.83,1020.28 413.9,1019.7 418.96,1019.13 424.02,1018.58 429.09,1018.04 434.15,1017.51 439.22,1016.99 444.28,1016.48 449.35,1015.98 454.41,1015.49 459.47,1015.01 464.54,1014.53 469.6,1014.06 474.67,1013.59 479.73,1013.13 484.79,1012.67 489.86,1012.22 494.92,1011.76 499.99,1011.31 505.05,1010.86 510.12,1010.41 515.18,1009.95 520.24,1009.5 525.31,1009.04 530.37,1008.59 535.44,1008.12 540.5,1007.66"/>
<polyline fill="none" stroke="#000" stroke-width="1.3" stroke-linejoin="round" points="74.6,1168.28 79.66,1160.39 84.73,1153.38 89.79,1147.1 94.86,1141.41 99.92,1136.18 104.98,1131.35 110.05,1126.84 115.11,1122.62 120.18,1118.62 125.24,1114.8 130.31,1111.1 135.37,1107.49 140.43,1103.95 145.5,1100.47 150.56,1097.05 155.63,1093.7 160.69,1090.44 165.75,1087.27 170.82,1084.2 175.88,1081.24 180.95,1078.39 186.01,1075.67 191.07,1073.07 196.14,1070.6 201.2,1068.25 206.27,1066.02 211.33,1063.9 216.4,1061.89 221.46,1059.97 226.52,1058.15 231.59,1056.41 236.65,1054.74 241.72,1053.15 246.78,1051.62 251.84,1050.16 256.91,1048.75 261.97,1047.4 267.04,1046.1 272.1,1044.84 277.17,1043.63 282.23,1042.46 287.29,1041.33 292.36,1040.24 297.42,1039.18 302.49,1038.14 307.55,1037.14 312.61,1036.15 317.68,1035.18 322.74,1034.24 327.81,1033.31 332.87,1032.39 337.93,1031.5 343,1030.61 348.06,1029.75 353.13,1028.9 358.19,1028.06 363.26,1027.23 368.32,1026.42 373.38,1025.63 378.45,1024.85 383.51,1024.08 388.58,1023.33 393.64,1022.6 398.7,1021.87 403.77,1021.17 408.83,1020.47 413.9,1019.8 418.96,1019.13 424.02,1018.48 429.09,1017.83 434.15,1017.2 439.22,1016.57 444.28,1015.95 449.35,1015.34 454.41,1014.73 459.47,1014.12 464.54,1013.52 469.6,1012.92 474.67,1012.32 479.73,1011.73 484.79,1011.13 489.86,1010.54 494.92,1009.94 499.99,1009.34 505.05,1008.74 510.12,1008.14 515.18,1007.54 520.24,1006.93 525.31,1006.33 530.37,1005.74 535.44,1005.16 540.5,1004.6"/>
<polyline fill="none" stroke="#000" stroke-width="1.3" stroke-dasharray="9 3.5" stroke-linejoin="round" points="74.6,1211.19 79.66,1203.24 84.73,1195.92 89.79,1189.13 94.86,1182.79 99.92,1176.86 104.98,1171.29 110.05,1166.04 115.11,1161.08 120.18,1156.38 125.24,1151.91 130.31,1147.65 135.37,1143.59 140.43,1139.7 145.5,1135.98 150.56,1132.41 155.63,1128.99 160.69,1125.7 165.75,1122.55 170.82,1119.54 175.88,1116.66 180.95,1113.9 186.01,1111.28 191.07,1108.77 196.14,1106.39 201.2,1104.11 206.27,1101.94 211.33,1099.87 216.4,1097.89 221.46,1096.01 226.52,1094.2 231.59,1092.47 236.65,1090.81 241.72,1089.22 246.78,1087.7 251.84,1086.23 256.91,1084.81 261.97,1083.45 267.04,1082.13 272.1,1080.86 277.17,1079.63 282.23,1078.45 287.29,1077.3 292.36,1076.19 297.42,1075.11 302.49,1074.07 307.55,1073.05 312.61,1072.06 317.68,1071.11 322.74,1070.17 327.81,1069.26 332.87,1068.38 337.93,1067.52 343,1066.68 348.06,1065.86 353.13,1065.05 358.19,1064.27 363.26,1063.51 368.32,1062.77 373.38,1062.04 378.45,1061.33 383.51,1060.64 388.58,1059.96 393.64,1059.3 398.7,1058.65 403.77,1058.02 408.83,1057.4 413.9,1056.8 418.96,1056.21 424.02,1055.63 429.09,1055.07 434.15,1054.51 439.22,1053.97 444.28,1053.44 449.35,1052.91 454.41,1052.4 459.47,1051.89 464.54,1051.39 469.6,1050.89 474.67,1050.4 479.73,1049.91 484.79,1049.43 489.86,1048.95 494.92,1048.47 499.99,1047.99 505.05,1047.51 510.12,1047.03 515.18,1046.55 520.24,1046.06 525.31,1045.58 530.37,1045.09 535.44,1044.6 540.5,1044.11"/>
<polyline fill="none" stroke="#000" stroke-width="1.3" stroke-linejoin="round" points="74.6,1196.54 79.66,1189.44 84.73,1183.18 89.79,1177.59 94.86,1172.53 99.92,1167.9 104.98,1163.6 110.05,1159.56 115.11,1155.74 120.18,1152.08 125.24,1148.53 130.31,1145.06 135.37,1141.63 140.43,1138.25 145.5,1134.92 150.56,1131.65 155.63,1128.46 160.69,1125.35 165.75,1122.33 170.82,1119.41 175.88,1116.58 180.95,1113.87 186.01,1111.26 191.07,1108.77 196.14,1106.38 201.2,1104.11 206.27,1101.94 211.33,1099.87 216.4,1097.89 221.46,1096.01 226.52,1094.2 231.59,1092.47 236.65,1090.81 241.72,1089.22 246.78,1087.7 251.84,1086.23 256.91,1084.81 261.97,1083.45 267.04,1082.13 272.1,1080.86 277.17,1079.63 282.23,1078.45 287.29,1077.3 292.36,1076.18 297.42,1075.09 302.49,1074.03 307.55,1072.99 312.61,1071.96 317.68,1070.96 322.74,1069.96 327.81,1068.99 332.87,1068.02 337.93,1067.07 343,1066.14 348.06,1065.21 353.13,1064.31 358.19,1063.41 363.26,1062.54 368.32,1061.67 373.38,1060.83 378.45,1060 383.51,1059.19 388.58,1058.39 393.64,1057.62 398.7,1056.86 403.77,1056.13 408.83,1055.41 413.9,1054.71 418.96,1054.03 424.02,1053.37 429.09,1052.72 434.15,1052.09 439.22,1051.46 444.28,1050.85 449.35,1050.25 454.41,1049.66 459.47,1049.07 464.54,1048.5 469.6,1047.92 474.67,1047.36 479.73,1046.8 484.79,1046.24 489.86,1045.69 494.92,1045.14 499.99,1044.59 505.05,1044.04 510.12,1043.49 515.18,1042.94 520.24,1042.39 525.31,1041.85 530.37,1041.3 535.44,1040.76 540.5,1040.23"/>
<polyline fill="none" stroke="#000" stroke-width="1.3" stroke-dasharray="9 3.5" stroke-linejoin="round" points="74.6,1228.39 79.66,1220.61 84.73,1213.36 89.79,1206.57 94.86,1200.18 99.92,1194.16 104.98,1188.47 110.05,1183.08 115.11,1177.98 120.18,1173.14 125.24,1168.55 130.31,1164.19 135.37,1160.06 140.43,1156.13 145.5,1152.41 150.56,1148.86 155.63,1145.48 160.69,1142.26 165.75,1139.2 170.82,1136.27 175.88,1133.48 180.95,1130.81 186.01,1128.26 191.07,1125.83 196.14,1123.51 201.2,1121.29 206.27,1119.16 211.33,1117.14 216.4,1115.2 221.46,1113.35 226.52,1111.58 231.59,1109.89 236.65,1108.28 241.72,1106.72 246.78,1105.24 251.84,1103.81 256.91,1102.44 261.97,1101.12 267.04,1099.85 272.1,1098.63 277.17,1097.45 282.23,1096.31 287.29,1095.21 292.36,1094.15 297.42,1093.12 302.49,1092.12 307.55,1091.16 312.61,1090.22 317.68,1089.31 322.74,1088.42 327.81,1087.56 332.87,1086.72 337.93,1085.91 343,1085.11 348.06,1084.33 353.13,1083.58 358.19,1082.84 363.26,1082.11 368.32,1081.41 373.38,1080.72 378.45,1080.05 383.51,1079.39 388.58,1078.74 393.64,1078.11 398.7,1077.5 403.77,1076.9 408.83,1076.31 413.9,1075.73 418.96,1075.16 424.02,1074.61 429.09,1074.06 434.15,1073.53 439.22,1073 444.28,1072.48 449.35,1071.97 454.41,1071.46 459.47,1070.96 464.54,1070.47 469.6,1069.98 474.67,1069.49 479.73,1069 484.79,1068.51 489.86,1068.03 494.92,1067.54 499.99,1067.05 505.05,1066.56 510.12,1066.07 515.18,1065.57 520.24,1065.07 525.31,1064.57 530.37,1064.06 535.44,1063.54 540.5,1063.02"/>
<polyline fill="none" stroke="#000" stroke-width="1.3" stroke-linejoin="round" points="74.6,1210.44 79.66,1203.3 84.73,1196.88 89.79,1191.07 94.86,1185.78 99.92,1180.94 104.98,1176.48 110.05,1172.37 115.11,1168.54 120.18,1164.96 125.24,1161.56 130.31,1158.3 135.37,1155.13 140.43,1152.03 145.5,1149 150.56,1146.03 155.63,1143.14 160.69,1140.32 165.75,1137.58 170.82,1134.91 175.88,1132.32 180.95,1129.8 186.01,1127.37 191.07,1125.04 196.14,1122.79 201.2,1120.65 206.27,1118.59 211.33,1116.63 216.4,1114.75 221.46,1112.96 226.52,1111.24 231.59,1109.6 236.65,1108.02 241.72,1106.51 246.78,1105.06 251.84,1103.66 256.91,1102.32 261.97,1101.03 267.04,1099.78 272.1,1098.58 277.17,1097.41 282.23,1096.28 287.29,1095.19 292.36,1094.12 297.42,1093.08 302.49,1092.06 307.55,1091.06 312.61,1090.07 317.68,1089.09 322.74,1088.12 327.81,1087.16 332.87,1086.2 337.93,1085.26 343,1084.32 348.06,1083.4 353.13,1082.48 358.19,1081.58 363.26,1080.69 368.32,1079.81 373.38,1078.95 378.45,1078.1 383.51,1077.27 388.58,1076.45 393.64,1075.66 398.7,1074.88 403.77,1074.13 408.83,1073.39 413.9,1072.67 418.96,1071.97 424.02,1071.29 429.09,1070.62 434.15,1069.96 439.22,1069.32 444.28,1068.68 449.35,1068.06 454.41,1067.44 459.47,1066.82 464.54,1066.21 469.6,1065.61 474.67,1065.01 479.73,1064.41 484.79,1063.82 489.86,1063.22 494.92,1062.63 499.99,1062.03 505.05,1061.44 510.12,1060.84 515.18,1060.24 520.24,1059.64 525.31,1059.04 530.37,1058.45 535.44,1057.86 540.5,1057.28"/>
<rect x="74.6" y="940.8" width="465.9" height="335.5" fill="none" stroke="#000" stroke-width="1.4"/>
<path d="M74.6 1276.3v5M94.86 1276.3v5M115.11 1276.3v5M135.37 1276.3v5M155.63 1276.3v5M175.88 1276.3v5M196.14 1276.3v5M216.4 1276.3v5M236.65 1276.3v5M256.91 1276.3v5M277.17 1276.3v5M297.42 1276.3v5M317.68 1276.3v5M337.93 1276.3v5M358.19 1276.3v5M378.45 1276.3v5M398.7 1276.3v5M418.96 1276.3v5M439.22 1276.3v5M459.47 1276.3v5M479.73 1276.3v5M499.99 1276.3v5M520.24 1276.3v5M540.5 1276.3v5M74.6 1276.3h-5M74.6 1261.71h-5M74.6 1247.13h-5M74.6 1232.54h-5M74.6 1217.95h-5M74.6 1203.37h-5M74.6 1188.78h-5M74.6 1174.19h-5M74.6 1159.6h-5M74.6 1145.02h-5M74.6 1130.43h-5M74.6 1115.84h-5M74.6 1101.26h-5M74.6 1086.67h-5M74.6 1072.08h-5M74.6 1057.5h-5M74.6 1042.91h-5M74.6 1028.32h-5M74.6 1013.73h-5M74.6 999.15h-5M74.6 984.56h-5M74.6 969.97h-5M74.6 955.39h-5M74.6 940.8h-5" stroke="#000" stroke-width="1.4" fill="none"/>
<g font-size="12.36" text-anchor="middle">
<text x="74.6" y="1299.25">1</text>
<text x="94.86" y="1299.25">2</text>
<text x="115.11" y="1299.25">3</text>
<text x="135.37" y="1299.25">4</text>
<text x="155.63" y="1299.25">5</text>
<text x="175.88" y="1299.25">6</text>
<text x="196.14" y="1299.25">7</text>
<text x="216.4" y="1299.25">8</text>
<text x="236.65" y="1299.25">9</text>
<text x="256.91" y="1299.25">10</text>
<text x="277.17" y="1299.25">11</text>
<text x="297.42" y="1299.25">12</text>
<text x="317.68" y="1299.25">13</text>
<text x="337.93" y="1299.25">14</text>
<text x="358.19" y="1299.25">15</text>
<text x="378.45" y="1299.25">16</text>
<text x="398.7" y="1299.25">17</text>
<text x="418.96" y="1299.25">18</text>
<text x="439.22" y="1299.25">19</text>
<text x="459.47" y="1299.25">20</text>
<text x="479.73" y="1299.25">21</text>
<text x="499.99" y="1299.25">22</text>
<text x="520.24" y="1299.25">23</text>
<text x="540.5" y="1299.25">24</text>
</g>
<g font-size="12.36" text-anchor="end">
<text x="63.8" y="1280.75">30</text>
<text x="63.8" y="1266.16">31</text>
<text x="63.8" y="1251.58">32</text>
<text x="63.8" y="1236.99">33</text>
<text x="63.8" y="1222.4">34</text>
<text x="63.8" y="1207.81">35</text>
<text x="63.8" y="1193.23">36</text>
<text x="63.8" y="1178.64">37</text>
<text x="63.8" y="1164.05">38</text>
<text x="63.8" y="1149.47">39</text>
<text x="63.8" y="1134.88">40</text>
<text x="63.8" y="1120.29">41</text>
<text x="63.8" y="1105.71">42</text>
<text x="63.8" y="1091.12">43</text>
<text x="63.8" y="1076.53">44</text>
<text x="63.8" y="1061.95">45</text>
<text x="63.8" y="1047.36">46</text>
<text x="63.8" y="1032.77">47</text>
<text x="63.8" y="1018.18">48</text>
<text x="63.8" y="1003.6">49</text>
<text x="63.8" y="989.01">50</text>
<text x="63.8" y="974.42">51</text>
<text x="63.8" y="959.84">52</text>
<text x="63.8" y="945.25">53</text>
</g>
<text x="72.1" y="914.25" font-size="15.78" font-weight="bold">Head circumference-for-age z-score curves for boys</text>
<text x="307.55" y="1328" font-size="15.75" text-anchor="middle">Age (completed months)</text>
<text transform="translate(35.5 1108.55) rotate(-90)" font-size="15.75" text-anchor="middle">Head circumference (cm)</text>
<path d="M96.25 968H132.5" stroke="#000" stroke-width="1.3"/>
<path d="M96.25 984.5H132.5" stroke="#000" stroke-width="1.3" stroke-dasharray="10 3.5"/>
<text x="142.4" y="973" font-size="13.1">China 2015 data</text>
<text x="142.4" y="989.5" font-size="13.1">China 2005 data</text>
<g font-size="15.6" text-anchor="middle">
<text x="553.75" y="954.2">3</text>
<text x="553.75" y="976.2">2</text>
<text x="553.75" y="1013">0</text>
<text x="553.75" y="1047.8">-2</text>
<text x="553.75" y="1069.7">-3</text>
</g>
</g>
<g>
<polyline fill="none" stroke="#000" stroke-width="1.3" stroke-dasharray="9 3.5" stroke-linejoin="round" points="672.4,1132.52 677.55,1124.48 682.69,1116.99 687.84,1109.97 692.98,1103.38 698.13,1097.16 703.27,1091.29 708.42,1085.73 713.57,1080.47 718.71,1075.48 723.86,1070.74 729,1066.25 734.15,1061.97 739.29,1057.91 744.44,1054.05 749.58,1050.37 754.73,1046.85 759.88,1043.48 765.02,1040.26 770.17,1037.18 775.31,1034.22 780.46,1031.39 785.6,1028.67 790.75,1026.07 795.9,1023.58 801.04,1021.2 806.19,1018.93 811.33,1016.77 816.48,1014.72 821.62,1012.77 826.77,1010.93 831.92,1009.18 837.06,1007.53 842.21,1005.97 847.35,1004.49 852.5,1003.08 857.64,1001.74 862.79,1000.46 867.93,999.23 873.08,998.04 878.23,996.9 883.37,995.79 888.52,994.71 893.66,993.65 898.81,992.62 903.95,991.61 909.1,990.62 914.25,989.65 919.39,988.7 924.54,987.77 929.68,986.85 934.83,985.95 939.97,985.07 945.12,984.2 950.27,983.36 955.41,982.53 960.56,981.72 965.7,980.92 970.85,980.15 975.99,979.39 981.14,978.65 986.28,977.93 991.43,977.23 996.58,976.55 1001.72,975.88 1006.87,975.23 1012.01,974.6 1017.16,973.98 1022.3,973.38 1027.45,972.8 1032.6,972.23 1037.74,971.68 1042.89,971.13 1048.03,970.6 1053.18,970.09 1058.32,969.58 1063.47,969.08 1068.62,968.59 1073.76,968.1 1078.91,967.62 1084.05,967.15 1089.2,966.68 1094.34,966.21 1099.49,965.74 1104.63,965.27 1109.78,964.8 1114.93,964.33 1120.07,963.86 1125.22,963.38 1130.36,962.9 1135.51,962.42 1140.65,961.93 1145.8,961.44"/>
<polyline fill="none" stroke="#000" stroke-width="1.3" stroke-linejoin="round" points="672.4,1119.78 677.55,1112.1 682.69,1105.06 687.84,1098.56 692.98,1092.52 698.13,1086.88 703.27,1081.58 708.42,1076.59 713.57,1071.9 718.71,1067.48 723.86,1063.32 729,1059.4 734.15,1055.71 739.29,1052.21 744.44,1048.88 749.58,1045.69 754.73,1042.62 759.88,1039.63 765.02,1036.72 770.17,1033.87 775.31,1031.09 780.46,1028.37 785.6,1025.73 790.75,1023.18 795.9,1020.72 801.04,1018.37 806.19,1016.12 811.33,1013.98 816.48,1011.95 821.62,1010.03 826.77,1008.23 831.92,1006.54 837.06,1004.97 842.21,1003.52 847.35,1002.19 852.5,1000.96 857.64,999.83 862.79,998.79 867.93,997.8 873.08,996.86 878.23,995.94 883.37,995.02 888.52,994.1 893.66,993.17 898.81,992.22 903.95,991.26 909.1,990.3 914.25,989.33 919.39,988.38 924.54,987.44 929.68,986.51 934.83,985.6 939.97,984.71 945.12,983.83 950.27,982.96 955.41,982.12 960.56,981.29 965.7,980.47 970.85,979.68 975.99,978.9 981.14,978.14 986.28,977.39 991.43,976.66 996.58,975.95 1001.72,975.26 1006.87,974.58 1012.01,973.92 1017.16,973.27 1022.3,972.63 1027.45,972.01 1032.6,971.4 1037.74,970.79 1042.89,970.2 1048.03,969.61 1053.18,969.02 1058.32,968.44 1063.47,967.87 1068.62,967.29 1073.76,966.72 1078.91,966.15 1084.05,965.58 1089.2,965.01 1094.34,964.44 1099.49,963.86 1104.63,963.28 1109.78,962.7 1114.93,962.12 1120.07,961.52 1125.22,960.93 1130.36,960.34 1135.51,959.74 1140.65,959.16 1145.8,958.59"/>
<polyline fill="none" stroke="#000" stroke-width="1.3" stroke-dasharray="9 3.5" stroke-linejoin="round" points="672.4,1151.92 677.55,1143.61 682.69,1135.96 687.84,1128.88 692.98,1122.29 698.13,1116.12 703.27,1110.33 708.42,1104.87 713.57,1099.73 718.71,1094.86 723.86,1090.26 729,1085.89 734.15,1081.75 739.29,1077.81 744.44,1074.06 749.58,1070.49 754.73,1067.07 759.88,1063.81 765.02,1060.68 770.17,1057.69 775.31,1054.81 780.46,1052.06 785.6,1049.42 790.75,1046.88 795.9,1044.46 801.04,1042.15 806.19,1039.94 811.33,1037.83 816.48,1035.83 821.62,1033.94 826.77,1032.14 831.92,1030.43 837.06,1028.82 842.21,1027.29 847.35,1025.84 852.5,1024.47 857.64,1023.15 862.79,1021.89 867.93,1020.69 873.08,1019.52 878.23,1018.39 883.37,1017.3 888.52,1016.23 893.66,1015.19 898.81,1014.17 903.95,1013.17 909.1,1012.18 914.25,1011.21 919.39,1010.26 924.54,1009.33 929.68,1008.41 934.83,1007.51 939.97,1006.62 945.12,1005.75 950.27,1004.9 955.41,1004.06 960.56,1003.24 965.7,1002.44 970.85,1001.65 975.99,1000.88 981.14,1000.13 986.28,999.39 991.43,998.67 996.58,997.97 1001.72,997.28 1006.87,996.61 1012.01,995.96 1017.16,995.32 1022.3,994.7 1027.45,994.09 1032.6,993.49 1037.74,992.91 1042.89,992.34 1048.03,991.79 1053.18,991.24 1058.32,990.7 1063.47,990.17 1068.62,989.65 1073.76,989.14 1078.91,988.62 1084.05,988.12 1089.2,987.61 1094.34,987.11 1099.49,986.6 1104.63,986.1 1109.78,985.6 1114.93,985.09 1120.07,984.58 1125.22,984.06 1130.36,983.54 1135.51,983.02 1140.65,982.49 1145.8,981.95"/>
<polyline fill="none" stroke="#000" stroke-width="1.3" stroke-linejoin="round" points="672.4,1140.54 677.55,1132.44 682.69,1125.05 687.84,1118.28 692.98,1112.03 698.13,1106.23 703.27,1100.84 708.42,1095.8 713.57,1091.11 718.71,1086.73 723.86,1082.65 729,1078.84 734.15,1075.27 739.29,1071.92 744.44,1068.73 749.58,1065.69 754.73,1062.76 759.88,1059.9 765.02,1057.1 770.17,1054.35 775.31,1051.63 780.46,1048.97 785.6,1046.37 790.75,1043.84 795.9,1041.41 801.04,1039.07 806.19,1036.83 811.33,1034.69 816.48,1032.66 821.62,1030.74 826.77,1028.92 831.92,1027.21 837.06,1025.59 842.21,1024.07 847.35,1022.63 852.5,1021.27 857.64,1019.98 862.79,1018.75 867.93,1017.58 873.08,1016.44 878.23,1015.34 883.37,1014.28 888.52,1013.23 893.66,1012.2 898.81,1011.19 903.95,1010.2 909.1,1009.22 914.25,1008.25 919.39,1007.3 924.54,1006.37 929.68,1005.45 934.83,1004.55 939.97,1003.66 945.12,1002.79 950.27,1001.94 955.41,1001.1 960.56,1000.28 965.7,999.47 970.85,998.69 975.99,997.92 981.14,997.16 986.28,996.43 991.43,995.71 996.58,995.01 1001.72,994.32 1006.87,993.65 1012.01,992.99 1017.16,992.35 1022.3,991.73 1027.45,991.11 1032.6,990.51 1037.74,989.91 1042.89,989.32 1048.03,988.74 1053.18,988.16 1058.32,987.59 1063.47,987.02 1068.62,986.46 1073.76,985.9 1078.91,985.34 1084.05,984.78 1089.2,984.21 1094.34,983.65 1099.49,983.09 1104.63,982.52 1109.78,981.95 1114.93,981.37 1120.07,980.79 1125.22,980.21 1130.36,979.62 1135.51,979.04 1140.65,978.46 1145.8,977.88"/>
<polyline fill="none" stroke="#000" stroke-width="1.3" stroke-dasharray="9 3.5" stroke-linejoin="round" points="672.4,1187.52 677.55,1179.6 682.69,1172.33 687.84,1165.6 692.98,1159.34 698.13,1153.49 703.27,1147.99 708.42,1142.81 713.57,1137.92 718.71,1133.29 723.86,1128.9 729,1124.73 734.15,1120.76 739.29,1116.98 744.44,1113.37 749.58,1109.92 754.73,1106.62 759.88,1103.45 765.02,1100.41 770.17,1097.49 775.31,1094.68 780.46,1091.98 785.6,1089.39 790.75,1086.9 795.9,1084.51 801.04,1082.23 806.19,1080.05 811.33,1077.96 816.48,1075.98 821.62,1074.1 826.77,1072.31 831.92,1070.61 837.06,1069 842.21,1067.48 847.35,1066.03 852.5,1064.64 857.64,1063.32 862.79,1062.06 867.93,1060.84 873.08,1059.67 878.23,1058.53 883.37,1057.43 888.52,1056.35 893.66,1055.29 898.81,1054.26 903.95,1053.24 909.1,1052.24 914.25,1051.26 919.39,1050.3 924.54,1049.35 929.68,1048.41 934.83,1047.49 939.97,1046.59 945.12,1045.71 950.27,1044.84 955.41,1043.99 960.56,1043.16 965.7,1042.34 970.85,1041.54 975.99,1040.76 981.14,1040 986.28,1039.25 991.43,1038.52 996.58,1037.81 1001.72,1037.12 1006.87,1036.44 1012.01,1035.78 1017.16,1035.14 1022.3,1034.51 1027.45,1033.9 1032.6,1033.31 1037.74,1032.73 1042.89,1032.16 1048.03,1031.61 1053.18,1031.06 1058.32,1030.53 1063.47,1030.01 1068.62,1029.49 1073.76,1028.99 1078.91,1028.48 1084.05,1027.99 1089.2,1027.5 1094.34,1027.01 1099.49,1026.52 1104.63,1026.03 1109.78,1025.55 1114.93,1025.06 1120.07,1024.57 1125.22,1024.08 1130.36,1023.59 1135.51,1023.09 1140.65,1022.59 1145.8,1022.08"/>
<polyline fill="none" stroke="#000" stroke-width="1.3" stroke-linejoin="round" points="672.4,1175.34 677.55,1167.75 682.69,1160.91 687.84,1154.66 692.98,1148.93 698.13,1143.61 703.27,1138.65 708.42,1134.01 713.57,1129.66 718.71,1125.57 723.86,1121.74 729,1118.12 734.15,1114.71 739.29,1111.47 744.44,1108.37 749.58,1105.39 754.73,1102.51 759.88,1099.69 765.02,1096.92 770.17,1094.2 775.31,1091.52 780.46,1088.89 785.6,1086.31 790.75,1083.8 795.9,1081.37 801.04,1079.03 806.19,1076.78 811.33,1074.63 816.48,1072.57 821.62,1070.61 826.77,1068.75 831.92,1066.99 837.06,1065.32 842.21,1063.73 847.35,1062.22 852.5,1060.78 857.64,1059.41 862.79,1058.1 867.93,1056.83 873.08,1055.61 878.23,1054.42 883.37,1053.27 888.52,1052.15 893.66,1051.05 898.81,1049.97 903.95,1048.91 909.1,1047.87 914.25,1046.85 919.39,1045.85 924.54,1044.87 929.68,1043.9 934.83,1042.95 939.97,1042.01 945.12,1041.1 950.27,1040.2 955.41,1039.32 960.56,1038.45 965.7,1037.6 970.85,1036.77 975.99,1035.96 981.14,1035.16 986.28,1034.38 991.43,1033.61 996.58,1032.86 1001.72,1032.12 1006.87,1031.4 1012.01,1030.69 1017.16,1030 1022.3,1029.32 1027.45,1028.65 1032.6,1027.99 1037.74,1027.34 1042.89,1026.7 1048.03,1026.07 1053.18,1025.44 1058.32,1024.83 1063.47,1024.21 1068.62,1023.6 1073.76,1023 1078.91,1022.39 1084.05,1021.79 1089.2,1021.19 1094.34,1020.58 1099.49,1019.98 1104.63,1019.38 1109.78,1018.77 1114.93,1018.15 1120.07,1017.54 1125.22,1016.92 1130.36,1016.31 1135.51,1015.7 1140.65,1015.1 1145.8,1014.51"/>
<polyline fill="none" stroke="#000" stroke-width="1.3" stroke-dasharray="9 3.5" stroke-linejoin="round" points="672.4,1223.14 677.55,1215.11 682.69,1207.78 687.84,1201.03 692.98,1194.77 698.13,1188.92 703.27,1183.45 708.42,1178.3 713.57,1173.43 718.71,1168.83 723.86,1164.46 729,1160.31 734.15,1156.36 739.29,1152.58 744.44,1148.97 749.58,1145.51 754.73,1142.2 759.88,1139.01 765.02,1135.96 770.17,1133.02 775.31,1130.2 780.46,1127.48 785.6,1124.87 790.75,1122.37 795.9,1119.97 801.04,1117.67 806.19,1115.48 811.33,1113.39 816.48,1111.4 821.62,1109.52 826.77,1107.73 831.92,1106.04 837.06,1104.44 842.21,1102.92 847.35,1101.48 852.5,1100.12 857.64,1098.81 862.79,1097.57 867.93,1096.37 873.08,1095.22 878.23,1094.1 883.37,1093.02 888.52,1091.97 893.66,1090.94 898.81,1089.93 903.95,1088.94 909.1,1087.97 914.25,1087.02 919.39,1086.09 924.54,1085.17 929.68,1084.27 934.83,1083.38 939.97,1082.51 945.12,1081.66 950.27,1080.83 955.41,1080.01 960.56,1079.21 965.7,1078.43 970.85,1077.67 975.99,1076.92 981.14,1076.19 986.28,1075.48 991.43,1074.79 996.58,1074.11 1001.72,1073.46 1006.87,1072.81 1012.01,1072.19 1017.16,1071.58 1022.3,1070.99 1027.45,1070.42 1032.6,1069.86 1037.74,1069.31 1042.89,1068.78 1048.03,1068.26 1053.18,1067.75 1058.32,1067.25 1063.47,1066.76 1068.62,1066.28 1073.76,1065.8 1078.91,1065.33 1084.05,1064.87 1089.2,1064.41 1094.34,1063.95 1099.49,1063.49 1104.63,1063.04 1109.78,1062.58 1114.93,1062.12 1120.07,1061.66 1125.22,1061.2 1130.36,1060.73 1135.51,1060.26 1140.65,1059.79 1145.8,1059.31"/>
<polyline fill="none" stroke="#000" stroke-width="1.3" stroke-linejoin="round" points="672.4,1206.78 677.55,1199.24 682.69,1192.52 687.84,1186.47 692.98,1180.95 698.13,1175.87 703.27,1171.15 708.42,1166.74 713.57,1162.61 718.71,1158.74 723.86,1155.09 729,1151.66 734.15,1148.41 739.29,1145.31 744.44,1142.35 749.58,1139.49 754.73,1136.7 759.88,1133.97 765.02,1131.28 770.17,1128.62 775.31,1126 780.46,1123.42 785.6,1120.9 790.75,1118.46 795.9,1116.1 801.04,1113.83 806.19,1111.67 811.33,1109.6 816.48,1107.63 821.62,1105.77 826.77,1104 831.92,1102.32 837.06,1100.74 842.21,1099.24 847.35,1097.82 852.5,1096.47 857.64,1095.18 862.79,1093.95 867.93,1092.76 873.08,1091.62 878.23,1090.52 883.37,1089.45 888.52,1088.4 893.66,1087.37 898.81,1086.35 903.95,1085.35 909.1,1084.36 914.25,1083.37 919.39,1082.39 924.54,1081.42 929.68,1080.45 934.83,1079.49 939.97,1078.53 945.12,1077.59 950.27,1076.65 955.41,1075.73 960.56,1074.81 965.7,1073.91 970.85,1073.03 975.99,1072.16 981.14,1071.3 986.28,1070.46 991.43,1069.64 996.58,1068.83 1001.72,1068.04 1006.87,1067.27 1012.01,1066.52 1017.16,1065.79 1022.3,1065.07 1027.45,1064.37 1032.6,1063.68 1037.74,1063.01 1042.89,1062.35 1048.03,1061.7 1053.18,1061.05 1058.32,1060.42 1063.47,1059.79 1068.62,1059.17 1073.76,1058.55 1078.91,1057.94 1084.05,1057.32 1089.2,1056.71 1094.34,1056.1 1099.49,1055.49 1104.63,1054.88 1109.78,1054.26 1114.93,1053.65 1120.07,1053.02 1125.22,1052.4 1130.36,1051.78 1135.51,1051.17 1140.65,1050.57 1145.8,1049.99"/>
<polyline fill="none" stroke="#000" stroke-width="1.3" stroke-dasharray="9 3.5" stroke-linejoin="round" points="672.4,1240.55 677.55,1232.35 682.69,1224.87 687.84,1217.98 692.98,1211.6 698.13,1205.65 703.27,1200.07 708.42,1194.83 713.57,1189.89 718.71,1185.22 723.86,1180.79 729,1176.59 734.15,1172.59 739.29,1168.77 744.44,1165.13 749.58,1161.65 754.73,1158.31 759.88,1155.12 765.02,1152.05 770.17,1149.11 775.31,1146.29 780.46,1143.58 785.6,1140.99 790.75,1138.5 795.9,1136.12 801.04,1133.85 806.19,1131.69 811.33,1129.64 816.48,1127.69 821.62,1125.85 826.77,1124.11 831.92,1122.47 837.06,1120.92 842.21,1119.46 847.35,1118.08 852.5,1116.77 857.64,1115.52 862.79,1114.33 867.93,1113.19 873.08,1112.1 878.23,1111.04 883.37,1110.01 888.52,1109.01 893.66,1108.03 898.81,1107.07 903.95,1106.13 909.1,1105.2 914.25,1104.29 919.39,1103.39 924.54,1102.51 929.68,1101.64 934.83,1100.78 939.97,1099.94 945.12,1099.11 950.27,1098.29 955.41,1097.48 960.56,1096.69 965.7,1095.92 970.85,1095.15 975.99,1094.41 981.14,1093.67 986.28,1092.96 991.43,1092.25 996.58,1091.57 1001.72,1090.9 1006.87,1090.24 1012.01,1089.6 1017.16,1088.98 1022.3,1088.38 1027.45,1087.79 1032.6,1087.22 1037.74,1086.66 1042.89,1086.11 1048.03,1085.58 1053.18,1085.07 1058.32,1084.56 1063.47,1084.07 1068.62,1083.59 1073.76,1083.11 1078.91,1082.65 1084.05,1082.19 1089.2,1081.74 1094.34,1081.3 1099.49,1080.86 1104.63,1080.42 1109.78,1079.99 1114.93,1079.56 1120.07,1079.14 1125.22,1078.71 1130.36,1078.29 1135.51,1077.86 1140.65,1077.44 1145.8,1077.01"/>
<polyline fill="none" stroke="#000" stroke-width="1.3" stroke-linejoin="round" points="672.4,1222.15 677.55,1214.38 682.69,1207.45 687.84,1201.19 692.98,1195.5 698.13,1190.27 703.27,1185.45 708.42,1180.98 713.57,1176.83 718.71,1172.98 723.86,1169.4 729,1166.08 734.15,1162.97 739.29,1160.04 744.44,1157.24 749.58,1154.55 754.73,1151.92 759.88,1149.32 765.02,1146.73 770.17,1144.14 775.31,1141.55 780.46,1138.99 785.6,1136.48 790.75,1134.03 795.9,1131.67 801.04,1129.41 806.19,1127.25 811.33,1125.2 816.48,1123.25 821.62,1121.41 826.77,1119.67 831.92,1118.03 837.06,1116.48 842.21,1115.01 847.35,1113.63 852.5,1112.31 857.64,1111.05 862.79,1109.85 867.93,1108.7 873.08,1107.59 878.23,1106.52 883.37,1105.47 888.52,1104.45 893.66,1103.44 898.81,1102.45 903.95,1101.48 909.1,1100.5 914.25,1099.53 919.39,1098.57 924.54,1097.61 929.68,1096.65 934.83,1095.69 939.97,1094.74 945.12,1093.79 950.27,1092.85 955.41,1091.92 960.56,1090.99 965.7,1090.08 970.85,1089.17 975.99,1088.28 981.14,1087.4 986.28,1086.53 991.43,1085.68 996.58,1084.85 1001.72,1084.04 1006.87,1083.25 1012.01,1082.47 1017.16,1081.72 1022.3,1080.98 1027.45,1080.26 1032.6,1079.56 1037.74,1078.88 1042.89,1078.21 1048.03,1077.56 1053.18,1076.91 1058.32,1076.28 1063.47,1075.66 1068.62,1075.05 1073.76,1074.45 1078.91,1073.86 1084.05,1073.27 1089.2,1072.69 1094.34,1072.11 1099.49,1071.54 1104.63,1070.98 1109.78,1070.41 1114.93,1069.85 1120.07,1069.29 1125.22,1068.74 1130.36,1068.19 1135.51,1067.65 1140.65,1067.13 1145.8,1066.63"/>
<rect x="672.4" y="938.2" width="473.4" height="340.6" fill="none" stroke="#000" stroke-width="1.4"/>
<path d="M672.4 1278.8v5.2M692.98 1278.8v5.2M713.57 1278.8v5.2M734.15 1278.8v5.2M754.73 1278.8v5.2M775.31 1278.8v5.2M795.9 1278.8v5.2M816.48 1278.8v5.2M837.06 1278.8v5.2M857.64 1278.8v5.2M878.23 1278.8v5.2M898.81 1278.8v5.2M919.39 1278.8v5.2M939.97 1278.8v5.2M960.56 1278.8v5.2M981.14 1278.8v5.2M1001.72 1278.8v5.2M1022.3 1278.8v5.2M1042.89 1278.8v5.2M1063.47 1278.8v5.2M1084.05 1278.8v5.2M1104.63 1278.8v5.2M1125.22 1278.8v5.2M1145.8 1278.8v5.2M672.4 1278.8h-5.2M672.4 1263.99h-5.2M672.4 1249.18h-5.2M672.4 1234.37h-5.2M672.4 1219.57h-5.2M672.4 1204.76h-5.2M672.4 1189.95h-5.2M672.4 1175.14h-5.2M672.4 1160.33h-5.2M672.4 1145.52h-5.2M672.4 1130.71h-5.2M672.4 1115.9h-5.2M672.4 1101.1h-5.2M672.4 1086.29h-5.2M672.4 1071.48h-5.2M672.4 1056.67h-5.2M672.4 1041.86h-5.2M672.4 1027.05h-5.2M672.4 1012.24h-5.2M672.4 997.43h-5.2M672.4 982.63h-5.2M672.4 967.82h-5.2M672.4 953.01h-5.2M672.4 938.2h-5.2" stroke="#000" stroke-width="1.4" fill="none"/>
<g font-size="12.64" text-anchor="middle">
<text x="672.4" y="1302.5">1</text>
<text x="692.98" y="1302.5">2</text>
<text x="713.57" y="1302.5">3</text>
<text x="734.15" y="1302.5">4</text>
<text x="754.73" y="1302.5">5</text>
<text x="775.31" y="1302.5">6</text>
<text x="795.9" y="1302.5">7</text>
<text x="816.48" y="1302.5">8</text>
<text x="837.06" y="1302.5">9</text>
<text x="857.64" y="1302.5">10</text>
<text x="878.23" y="1302.5">11</text>
<text x="898.81" y="1302.5">12</text>
<text x="919.39" y="1302.5">13</text>
<text x="939.97" y="1302.5">14</text>
<text x="960.56" y="1302.5">15</text>
<text x="981.14" y="1302.5">16</text>
<text x="1001.72" y="1302.5">17</text>
<text x="1022.3" y="1302.5">18</text>
<text x="1042.89" y="1302.5">19</text>
<text x="1063.47" y="1302.5">20</text>
<text x="1084.05" y="1302.5">21</text>
<text x="1104.63" y="1302.5">22</text>
<text x="1125.22" y="1302.5">23</text>
<text x="1145.8" y="1302.5">24</text>
</g>
<g font-size="12.64" text-anchor="end">
<text x="661.3" y="1283.35">30</text>
<text x="661.3" y="1268.54">31</text>
<text x="661.3" y="1253.73">32</text>
<text x="661.3" y="1238.92">33</text>
<text x="661.3" y="1224.12">34</text>
<text x="661.3" y="1209.31">35</text>
<text x="661.3" y="1194.5">36</text>
<text x="661.3" y="1179.69">37</text>
<text x="661.3" y="1164.88">38</text>
<text x="661.3" y="1150.07">39</text>
<text x="661.3" y="1135.26">40</text>
<text x="661.3" y="1120.45">41</text>
<text x="661.3" y="1105.65">42</text>
<text x="661.3" y="1090.84">43</text>
<text x="661.3" y="1076.03">44</text>
<text x="661.3" y="1061.22">45</text>
<text x="661.3" y="1046.41">46</text>
<text x="661.3" y="1031.6">47</text>
<text x="661.3" y="1016.79">48</text>
<text x="661.3" y="1001.99">49</text>
<text x="661.3" y="987.18">50</text>
<text x="661.3" y="972.37">51</text>
<text x="661.3" y="957.56">52</text>
<text x="661.3" y="942.75">53</text>
</g>
<text x="670.8" y="911.75" font-size="16.14" font-weight="bold">Head circumference-for-age z-score curves for girls</text>
<text x="909.1" y="1331.25" font-size="16.1" text-anchor="middle">Age (completed months)</text>
<text transform="translate(631 1108.5) rotate(-90)" font-size="16.1" text-anchor="middle">Head circumference (cm)</text>
<path d="M693.75 966.25H730.75" stroke="#000" stroke-width="1.3"/>
<path d="M693.75 982.5H730.75" stroke="#000" stroke-width="1.3" stroke-dasharray="10 3.5"/>
<text x="740.6" y="970.5" font-size="13.2">China 2015 data</text>
<text x="740.6" y="987" font-size="13.2">China 2005 data</text>
<g font-size="15.9" text-anchor="middle">
<text x="1159.3" y="964.5">3</text>
<text x="1159.3" y="985.5">2</text>
<text x="1159.3" y="1023.7">0</text>
<text x="1159.3" y="1061.2">-2</text>
<text x="1159.3" y="1087.5">-3</text>
</g>
</g>
<g>
<polyline fill="none" stroke="#000" stroke-width="1.3" stroke-dasharray="9 3.5" stroke-linejoin="round" points="78.6,1580.05 83.56,1566.15 88.52,1552.81 93.47,1540.06 98.43,1527.95 103.39,1516.33 108.35,1505.16 113.31,1494.63 118.27,1484.95 123.22,1475.77 128.18,1466.98 133.14,1459.16 138.1,1452.88 143.06,1447.8 148.02,1443.33 152.97,1439.65 157.93,1436.95 162.89,1435.03 167.85,1433.54 172.81,1432.38 177.77,1431.47 182.72,1430.66 187.68,1430.02 192.64,1429.63 197.6,1429.48 202.56,1429.58 207.52,1429.88 212.47,1430.39 217.43,1431.08 222.39,1431.93 227.35,1432.93 232.31,1434.07 237.27,1435.31 242.22,1436.66 247.18,1438.08 252.14,1439.56 257.1,1441.1 262.06,1442.66 267.02,1444.23 271.98,1445.79 276.93,1447.34 281.89,1448.85 286.85,1450.32 291.81,1451.75 296.77,1453.14 301.73,1454.5 306.68,1455.82 311.64,1457.11 316.6,1458.37 321.56,1459.59 326.52,1460.78 331.47,1461.93 336.43,1463.06 341.39,1464.15 346.35,1465.22 351.31,1466.26 356.27,1467.27 361.23,1468.26 366.18,1469.21 371.14,1470.15 376.1,1471.05 381.06,1471.94 386.02,1472.8 390.98,1473.64 395.93,1474.46 400.89,1475.25 405.85,1476.03 410.81,1476.79 415.77,1477.53 420.73,1478.25 425.68,1478.95 430.64,1479.64 435.6,1480.32 440.56,1480.98 445.52,1481.62 450.48,1482.26 455.43,1482.88 460.39,1483.49 465.35,1484.09 470.31,1484.67 475.27,1485.26 480.23,1485.83 485.18,1486.39 490.14,1486.95 495.1,1487.5 500.06,1488.05 505.02,1488.59 509.98,1489.13 514.93,1489.67 519.89,1490.2 524.85,1490.74 529.81,1491.27 534.77,1491.8 539.73,1492.34 544.68,1492.87 549.64,1493.41 554.6,1493.95"/>
<polyline fill="none" stroke="#000" stroke-width="1.3" stroke-linejoin="round" points="78.6,1558.89 83.56,1543.33 88.52,1529.12 93.47,1516.53 98.43,1505.88 103.39,1497.27 108.35,1490 113.31,1483.17 118.27,1475.85 123.22,1467 128.18,1457.35 133.14,1448.71 138.1,1442.87 143.06,1439.22 148.02,1436.15 152.97,1433.93 157.93,1432.86 162.89,1432.54 167.85,1432.27 172.81,1431.98 177.77,1431.71 182.72,1431.53 187.68,1431.52 192.64,1431.71 197.6,1432.04 202.56,1432.5 207.52,1433.08 212.47,1433.77 217.43,1434.54 222.39,1435.39 227.35,1436.31 232.31,1437.29 237.27,1438.33 242.22,1439.41 247.18,1440.55 252.14,1441.72 257.1,1442.92 262.06,1444.14 267.02,1445.39 271.98,1446.64 276.93,1447.9 281.89,1449.16 286.85,1450.42 291.81,1451.67 296.77,1452.93 301.73,1454.18 306.68,1455.42 311.64,1456.67 316.6,1457.91 321.56,1459.14 326.52,1460.37 331.47,1461.6 336.43,1462.82 341.39,1464.03 346.35,1465.24 351.31,1466.44 356.27,1467.63 361.23,1468.82 366.18,1470 371.14,1471.17 376.1,1472.33 381.06,1473.48 386.02,1474.63 390.98,1475.76 395.93,1476.89 400.89,1478 405.85,1479.1 410.81,1480.19 415.77,1481.27 420.73,1482.34 425.68,1483.4 430.64,1484.44 435.6,1485.47 440.56,1486.49 445.52,1487.49 450.48,1488.48 455.43,1489.46 460.39,1490.41 465.35,1491.36 470.31,1492.29 475.27,1493.2 480.23,1494.09 485.18,1494.97 490.14,1495.83 495.1,1496.68 500.06,1497.5 505.02,1498.31 509.98,1499.1 514.93,1499.87 519.89,1500.62 524.85,1501.35 529.81,1502.06 534.77,1502.75 539.73,1503.42 544.68,1504.06 549.64,1504.69 554.6,1505.29"/>
<polyline fill="none" stroke="#000" stroke-width="1.3" stroke-dasharray="9 3.5" stroke-linejoin="round" points="78.6,1612.12 83.56,1598.74 88.52,1585.91 93.47,1573.67 98.43,1562.08 103.39,1550.94 108.35,1540.22 113.31,1530.2 118.27,1521.12 123.22,1512.59 128.18,1504.44 133.14,1497.36 138.1,1492.01 143.06,1487.95 148.02,1484.44 152.97,1481.7 157.93,1479.95 162.89,1478.9 167.85,1478.03 172.81,1477.28 177.77,1476.67 182.72,1476.21 187.68,1476.02 192.64,1476.09 197.6,1476.37 202.56,1476.82 207.52,1477.42 212.47,1478.14 217.43,1478.97 222.39,1479.87 227.35,1480.85 232.31,1481.89 237.27,1482.98 242.22,1484.12 247.18,1485.3 252.14,1486.5 257.1,1487.73 262.06,1488.98 267.02,1490.23 271.98,1491.48 276.93,1492.73 281.89,1493.96 286.85,1495.17 291.81,1496.36 296.77,1497.54 301.73,1498.7 306.68,1499.84 311.64,1500.97 316.6,1502.07 321.56,1503.16 326.52,1504.23 331.47,1505.27 336.43,1506.3 341.39,1507.31 346.35,1508.29 351.31,1509.26 356.27,1510.2 361.23,1511.12 366.18,1512.02 371.14,1512.89 376.1,1513.74 381.06,1514.57 386.02,1515.38 390.98,1516.16 395.93,1516.92 400.89,1517.66 405.85,1518.38 410.81,1519.08 415.77,1519.77 420.73,1520.43 425.68,1521.08 430.64,1521.71 435.6,1522.32 440.56,1522.92 445.52,1523.51 450.48,1524.08 455.43,1524.64 460.39,1525.18 465.35,1525.71 470.31,1526.24 475.27,1526.75 480.23,1527.25 485.18,1527.74 490.14,1528.22 495.1,1528.7 500.06,1529.17 505.02,1529.63 509.98,1530.09 514.93,1530.54 519.89,1530.99 524.85,1531.43 529.81,1531.88 534.77,1532.31 539.73,1532.75 544.68,1533.19 549.64,1533.62 554.6,1534.06"/>
<polyline fill="none" stroke="#000" stroke-width="1.3" stroke-linejoin="round" points="78.6,1593.92 83.56,1576.86 88.52,1561.5 93.47,1548.36 98.43,1537.96 103.39,1530.17 108.35,1523.87 113.31,1518.14 118.27,1512.03 123.22,1504.79 128.18,1497.09 133.14,1490.1 138.1,1484.95 143.06,1481.22 148.02,1477.95 152.97,1475.5 157.93,1474.26 162.89,1473.85 167.85,1473.51 172.81,1473.18 177.77,1472.88 182.72,1472.64 187.68,1472.56 192.64,1472.67 197.6,1472.9 202.56,1473.26 207.52,1473.71 212.47,1474.26 217.43,1474.89 222.39,1475.58 227.35,1476.34 232.31,1477.15 237.27,1478.01 242.22,1478.91 247.18,1479.86 252.14,1480.84 257.1,1481.86 262.06,1482.89 267.02,1483.95 271.98,1485.03 276.93,1486.11 281.89,1487.2 286.85,1488.29 291.81,1489.39 296.77,1490.49 301.73,1491.59 306.68,1492.69 311.64,1493.8 316.6,1494.91 321.56,1496.01 326.52,1497.12 331.47,1498.22 336.43,1499.32 341.39,1500.42 346.35,1501.52 351.31,1502.61 356.27,1503.7 361.23,1504.78 366.18,1505.86 371.14,1506.93 376.1,1507.99 381.06,1509.04 386.02,1510.09 390.98,1511.13 395.93,1512.16 400.89,1513.18 405.85,1514.18 410.81,1515.18 415.77,1516.17 420.73,1517.14 425.68,1518.1 430.64,1519.04 435.6,1519.97 440.56,1520.88 445.52,1521.78 450.48,1522.66 455.43,1523.53 460.39,1524.38 465.35,1525.21 470.31,1526.02 475.27,1526.81 480.23,1527.58 485.18,1528.32 490.14,1529.05 495.1,1529.76 500.06,1530.44 505.02,1531.1 509.98,1531.73 514.93,1532.35 519.89,1532.93 524.85,1533.49 529.81,1534.02 534.77,1534.53 539.73,1535.01 544.68,1535.46 549.64,1535.88 554.6,1536.27"/>
<polyline fill="none" stroke="#000" stroke-width="1.3" stroke-dasharray="9 3.5" stroke-linejoin="round" points="78.6,1666.04 83.56,1655.05 88.52,1644.5 93.47,1634.43 98.43,1624.87 103.39,1615.59 108.35,1606.61 113.31,1598.28 118.27,1590.97 123.22,1584.41 128.18,1578.31 133.14,1573.03 138.1,1568.9 143.06,1565.59 148.02,1562.67 152.97,1560.37 157.93,1558.89 162.89,1558.03 167.85,1557.44 172.81,1557.06 177.77,1556.8 182.72,1556.54 187.68,1556.32 192.64,1556.25 197.6,1556.31 202.56,1556.5 207.52,1556.81 212.47,1557.22 217.43,1557.71 222.39,1558.29 227.35,1558.93 232.31,1559.63 237.27,1560.38 242.22,1561.18 247.18,1562.02 252.14,1562.89 257.1,1563.79 262.06,1564.7 267.02,1565.62 271.98,1566.54 276.93,1567.46 281.89,1568.36 286.85,1569.25 291.81,1570.13 296.77,1570.99 301.73,1571.84 306.68,1572.68 311.64,1573.51 316.6,1574.32 321.56,1575.12 326.52,1575.91 331.47,1576.68 336.43,1577.44 341.39,1578.19 346.35,1578.93 351.31,1579.65 356.27,1580.37 361.23,1581.07 366.18,1581.76 371.14,1582.43 376.1,1583.09 381.06,1583.75 386.02,1584.39 390.98,1585.01 395.93,1585.63 400.89,1586.23 405.85,1586.82 410.81,1587.41 415.77,1587.97 420.73,1588.53 425.68,1589.08 430.64,1589.61 435.6,1590.13 440.56,1590.64 445.52,1591.14 450.48,1591.63 455.43,1592.11 460.39,1592.58 465.35,1593.03 470.31,1593.48 475.27,1593.91 480.23,1594.33 485.18,1594.74 490.14,1595.14 495.1,1595.53 500.06,1595.91 505.02,1596.28 509.98,1596.64 514.93,1596.99 519.89,1597.32 524.85,1597.65 529.81,1597.96 534.77,1598.27 539.73,1598.57 544.68,1598.85 549.64,1599.13 554.6,1599.39"/>
<polyline fill="none" stroke="#000" stroke-width="1.3" stroke-linejoin="round" points="78.6,1661.04 83.56,1645.11 88.52,1630.87 93.47,1618.92 98.43,1609.85 103.39,1603.47 108.35,1598.52 113.31,1594 118.27,1588.92 123.22,1582.52 128.18,1575.46 133.14,1568.87 138.1,1563.89 143.06,1560.23 148.02,1557.01 152.97,1554.5 157.93,1552.97 162.89,1552.19 167.85,1551.6 172.81,1551.12 177.77,1550.68 182.72,1550.21 187.68,1549.84 192.64,1549.67 197.6,1549.65 202.56,1549.75 207.52,1549.96 212.47,1550.27 217.43,1550.65 222.39,1551.09 227.35,1551.6 232.31,1552.15 237.27,1552.75 242.22,1553.39 247.18,1554.06 252.14,1554.77 257.1,1555.5 262.06,1556.25 267.02,1557.02 271.98,1557.8 276.93,1558.58 281.89,1559.37 286.85,1560.15 291.81,1560.93 296.77,1561.72 301.73,1562.5 306.68,1563.28 311.64,1564.06 316.6,1564.84 321.56,1565.61 326.52,1566.39 331.47,1567.16 336.43,1567.93 341.39,1568.69 346.35,1569.45 351.31,1570.21 356.27,1570.97 361.23,1571.72 366.18,1572.47 371.14,1573.21 376.1,1573.95 381.06,1574.68 386.02,1575.41 390.98,1576.13 395.93,1576.85 400.89,1577.56 405.85,1578.26 410.81,1578.96 415.77,1579.65 420.73,1580.33 425.68,1581.01 430.64,1581.68 435.6,1582.34 440.56,1582.99 445.52,1583.64 450.48,1584.27 455.43,1584.9 460.39,1585.52 465.35,1586.13 470.31,1586.73 475.27,1587.32 480.23,1587.9 485.18,1588.47 490.14,1589.03 495.1,1589.57 500.06,1590.11 505.02,1590.64 509.98,1591.15 514.93,1591.65 519.89,1592.14 524.85,1592.62 529.81,1593.08 534.77,1593.53 539.73,1593.97 544.68,1594.4 549.64,1594.81 554.6,1595.21"/>
<polyline fill="none" stroke="#000" stroke-width="1.3" stroke-dasharray="9 3.5" stroke-linejoin="round" points="78.6,1714.5 83.56,1706.43 88.52,1698.43 93.47,1690.5 98.43,1682.65 103.39,1674.59 108.35,1666.41 113.31,1658.68 118.27,1651.94 123.22,1645.91 128.18,1640.26 133.14,1635.45 138.1,1631.92 143.06,1629.38 148.02,1627.27 152.97,1625.6 157.93,1624.41 162.89,1623.64 167.85,1623.13 172.81,1622.79 177.77,1622.49 182.72,1622.18 187.68,1621.84 192.64,1621.55 197.6,1621.34 202.56,1621.21 207.52,1621.15 212.47,1621.16 217.43,1621.23 222.39,1621.36 227.35,1621.55 232.31,1621.8 237.27,1622.09 242.22,1622.42 247.18,1622.79 252.14,1623.19 257.1,1623.62 262.06,1624.08 267.02,1624.56 271.98,1625.06 276.93,1625.56 281.89,1626.08 286.85,1626.6 291.81,1627.13 296.77,1627.66 301.73,1628.2 306.68,1628.74 311.64,1629.28 316.6,1629.83 321.56,1630.39 326.52,1630.94 331.47,1631.49 336.43,1632.05 341.39,1632.61 346.35,1633.16 351.31,1633.72 356.27,1634.27 361.23,1634.82 366.18,1635.37 371.14,1635.92 376.1,1636.46 381.06,1637 386.02,1637.53 390.98,1638.06 395.93,1638.58 400.89,1639.09 405.85,1639.6 410.81,1640.1 415.77,1640.59 420.73,1641.07 425.68,1641.54 430.64,1642 435.6,1642.45 440.56,1642.89 445.52,1643.32 450.48,1643.73 455.43,1644.14 460.39,1644.52 465.35,1644.9 470.31,1645.26 475.27,1645.6 480.23,1645.92 485.18,1646.23 490.14,1646.53 495.1,1646.8 500.06,1647.06 505.02,1647.3 509.98,1647.51 514.93,1647.71 519.89,1647.89 524.85,1648.04 529.81,1648.18 534.77,1648.29 539.73,1648.37 544.68,1648.44 549.64,1648.48 554.6,1648.49"/>
<polyline fill="none" stroke="#000" stroke-width="1.3" stroke-linejoin="round" points="78.6,1714.05 83.56,1702.95 88.52,1692.76 93.47,1683.65 98.43,1675.83 103.39,1669.26 108.35,1663.55 113.31,1658.29 118.27,1653.08 123.22,1647.52 128.18,1641.91 133.14,1636.88 138.1,1633.06 143.06,1630.19 148.02,1627.71 152.97,1625.74 157.93,1624.41 162.89,1623.64 167.85,1623.16 172.81,1622.79 177.77,1622.42 182.72,1622.01 187.68,1621.59 192.64,1621.23 197.6,1620.97 202.56,1620.79 207.52,1620.7 212.47,1620.69 217.43,1620.75 222.39,1620.87 227.35,1621.06 232.31,1621.31 237.27,1621.61 242.22,1621.95 247.18,1622.34 252.14,1622.76 257.1,1623.21 262.06,1623.69 267.02,1624.19 271.98,1624.7 276.93,1625.23 281.89,1625.76 286.85,1626.29 291.81,1626.83 296.77,1627.37 301.73,1627.92 306.68,1628.46 311.64,1629.01 316.6,1629.56 321.56,1630.11 326.52,1630.66 331.47,1631.22 336.43,1631.77 341.39,1632.32 346.35,1632.87 351.31,1633.42 356.27,1633.96 361.23,1634.51 366.18,1635.05 371.14,1635.58 376.1,1636.11 381.06,1636.64 386.02,1637.16 390.98,1637.68 395.93,1638.19 400.89,1638.7 405.85,1639.2 410.81,1639.69 415.77,1640.17 420.73,1640.65 425.68,1641.11 430.64,1641.57 435.6,1642.02 440.56,1642.46 445.52,1642.89 450.48,1643.3 455.43,1643.71 460.39,1644.1 465.35,1644.48 470.31,1644.85 475.27,1645.2 480.23,1645.54 485.18,1645.87 490.14,1646.18 495.1,1646.48 500.06,1646.76 505.02,1647.03 509.98,1647.27 514.93,1647.51 519.89,1647.72 524.85,1647.92 529.81,1648.09 534.77,1648.25 539.73,1648.39 544.68,1648.51 549.64,1648.61 554.6,1648.69"/>
<polyline fill="none" stroke="#000" stroke-width="1.3" stroke-dasharray="9 3.5" stroke-linejoin="round" points="78.6,1736.34 83.56,1730.4 88.52,1724.4 93.47,1718.34 98.43,1712.22 103.39,1706.02 108.35,1699.73 113.31,1693.43 118.27,1687.2 123.22,1680.6 128.18,1673.75 133.14,1667.53 138.1,1662.86 143.06,1659.45 148.02,1656.51 152.97,1654.19 157.93,1652.62 162.89,1651.72 167.85,1651.1 172.81,1650.54 177.77,1649.93 182.72,1649.29 187.68,1648.72 192.64,1648.25 197.6,1647.9 202.56,1647.64 207.52,1647.47 212.47,1647.38 217.43,1647.36 222.39,1647.4 227.35,1647.49 232.31,1647.64 237.27,1647.83 242.22,1648.06 247.18,1648.33 252.14,1648.63 257.1,1648.96 262.06,1649.31 267.02,1649.69 271.98,1650.07 276.93,1650.47 281.89,1650.87 286.85,1651.28 291.81,1651.69 296.77,1652.1 301.73,1652.52 306.68,1652.95 311.64,1653.37 316.6,1653.8 321.56,1654.23 326.52,1654.67 331.47,1655.1 336.43,1655.54 341.39,1655.98 346.35,1656.41 351.31,1656.85 356.27,1657.29 361.23,1657.72 366.18,1658.16 371.14,1658.59 376.1,1659.02 381.06,1659.45 386.02,1659.87 390.98,1660.29 395.93,1660.71 400.89,1661.13 405.85,1661.54 410.81,1661.94 415.77,1662.34 420.73,1662.74 425.68,1663.12 430.64,1663.51 435.6,1663.88 440.56,1664.25 445.52,1664.61 450.48,1664.96 455.43,1665.3 460.39,1665.64 465.35,1665.96 470.31,1666.28 475.27,1666.59 480.23,1666.88 485.18,1667.17 490.14,1667.44 495.1,1667.7 500.06,1667.95 505.02,1668.19 509.98,1668.42 514.93,1668.63 519.89,1668.83 524.85,1669.01 529.81,1669.18 534.77,1669.33 539.73,1669.47 544.68,1669.6 549.64,1669.71 554.6,1669.8"/>
<polyline fill="none" stroke="#000" stroke-width="1.3" stroke-linejoin="round" points="78.6,1736.34 83.56,1729.42 88.52,1722.7 93.47,1716.21 98.43,1709.95 103.39,1703.88 108.35,1698 113.31,1692.35 118.27,1686.97 123.22,1681.64 128.18,1676.38 133.14,1671.63 138.1,1667.86 143.06,1664.85 148.02,1662.19 152.97,1660.04 157.93,1658.54 162.89,1657.63 167.85,1657 172.81,1656.47 177.77,1655.88 182.72,1655.22 187.68,1654.56 192.64,1654 197.6,1653.54 202.56,1653.18 207.52,1652.9 212.47,1652.7 217.43,1652.58 222.39,1652.53 227.35,1652.54 232.31,1652.61 237.27,1652.74 242.22,1652.92 247.18,1653.14 252.14,1653.39 257.1,1653.68 262.06,1654 267.02,1654.33 271.98,1654.68 276.93,1655.04 281.89,1655.41 286.85,1655.78 291.81,1656.16 296.77,1656.54 301.73,1656.92 306.68,1657.31 311.64,1657.69 316.6,1658.09 321.56,1658.48 326.52,1658.87 331.47,1659.27 336.43,1659.67 341.39,1660.07 346.35,1660.47 351.31,1660.87 356.27,1661.28 361.23,1661.68 366.18,1662.08 371.14,1662.48 376.1,1662.88 381.06,1663.28 386.02,1663.68 390.98,1664.08 395.93,1664.47 400.89,1664.86 405.85,1665.25 410.81,1665.64 415.77,1666.03 420.73,1666.41 425.68,1666.78 430.64,1667.16 435.6,1667.53 440.56,1667.89 445.52,1668.25 450.48,1668.61 455.43,1668.96 460.39,1669.3 465.35,1669.64 470.31,1669.98 475.27,1670.3 480.23,1670.62 485.18,1670.93 490.14,1671.24 495.1,1671.54 500.06,1671.83 505.02,1672.11 509.98,1672.39 514.93,1672.65 519.89,1672.91 524.85,1673.15 529.81,1673.39 534.77,1673.62 539.73,1673.84 544.68,1674.05 549.64,1674.24 554.6,1674.43"/>
<rect x="78.6" y="1418.75" width="476" height="341.25" fill="none" stroke="#000" stroke-width="1.4"/>
<path d="M78.6 1760v5.3M98.43 1760v5.3M118.27 1760v5.3M138.1 1760v5.3M157.93 1760v5.3M177.77 1760v5.3M197.6 1760v5.3M217.43 1760v5.3M237.27 1760v5.3M257.1 1760v5.3M276.93 1760v5.3M296.77 1760v5.3M316.6 1760v5.3M336.43 1760v5.3M356.27 1760v5.3M376.1 1760v5.3M395.93 1760v5.3M415.77 1760v5.3M435.6 1760v5.3M455.43 1760v5.3M475.27 1760v5.3M495.1 1760v5.3M514.93 1760v5.3M534.77 1760v5.3M554.6 1760v5.3M78.6 1760h-5.3M78.6 1737.25h-5.3M78.6 1714.5h-5.3M78.6 1691.75h-5.3M78.6 1669h-5.3M78.6 1646.25h-5.3M78.6 1623.5h-5.3M78.6 1600.75h-5.3M78.6 1578h-5.3M78.6 1555.25h-5.3M78.6 1532.5h-5.3M78.6 1509.75h-5.3M78.6 1487h-5.3M78.6 1464.25h-5.3M78.6 1441.5h-5.3M78.6 1418.75h-5.3" stroke="#000" stroke-width="1.4" fill="none"/>
<g font-size="12.66" text-anchor="middle">
<text x="78.6" y="1783.75">0</text>
<text x="98.43" y="1783.75">1</text>
<text x="118.27" y="1783.75">2</text>
<text x="138.1" y="1783.75">3</text>
<text x="157.93" y="1783.75">4</text>
<text x="177.77" y="1783.75">5</text>
<text x="197.6" y="1783.75">6</text>
<text x="217.43" y="1783.75">7</text>
<text x="237.27" y="1783.75">8</text>
<text x="257.1" y="1783.75">9</text>
<text x="276.93" y="1783.75">10</text>
<text x="296.77" y="1783.75">11</text>
<text x="316.6" y="1783.75">12</text>
<text x="336.43" y="1783.75">13</text>
<text x="356.27" y="1783.75">14</text>
<text x="376.1" y="1783.75">15</text>
<text x="395.93" y="1783.75">16</text>
<text x="415.77" y="1783.75">17</text>
<text x="435.6" y="1783.75">18</text>
<text x="455.43" y="1783.75">19</text>
<text x="475.27" y="1783.75">20</text>
<text x="495.1" y="1783.75">21</text>
<text x="514.93" y="1783.75">22</text>
<text x="534.77" y="1783.75">23</text>
<text x="554.6" y="1783.75">24</text>
</g>
<g font-size="12.66" text-anchor="end">
<text x="67.5" y="1764.56">9</text>
<text x="67.5" y="1741.81">10</text>
<text x="67.5" y="1719.06">11</text>
<text x="67.5" y="1696.31">12</text>
<text x="67.5" y="1673.56">13</text>
<text x="67.5" y="1650.81">14</text>
<text x="67.5" y="1628.06">15</text>
<text x="67.5" y="1605.31">16</text>
<text x="67.5" y="1582.56">17</text>
<text x="67.5" y="1559.81">18</text>
<text x="67.5" y="1537.06">19</text>
<text x="67.5" y="1514.31">20</text>
<text x="67.5" y="1491.56">21</text>
<text x="67.5" y="1468.81">22</text>
<text x="67.5" y="1446.06">23</text>
<text x="67.5" y="1423.31">24</text>
</g>
<text x="78.2" y="1392" font-size="16.12" font-weight="bold">BMI-for-age z-score curves for boys</text>
<text x="316.6" y="1813" font-size="16.1" text-anchor="middle">Age (completed months)</text>
<text transform="translate(37 1589.38) rotate(-90)" font-size="16.1" text-anchor="middle">BMI (kg/m<tspan dy="-7.5" font-size="10.5">2</tspan><tspan dy="7.5">)</tspan></text>
<path d="M355.3 1710H392.5" stroke="#000" stroke-width="1.3"/>
<path d="M355.3 1730H392.5" stroke="#000" stroke-width="1.3" stroke-dasharray="10 3.5"/>
<text x="401.7" y="1715.5" font-size="16.08">China 2015 data</text>
<text x="401.7" y="1735.5" font-size="16.08">China 2005 data</text>
<g font-size="15.9" text-anchor="middle">
<text x="569" y="1503.4">3</text>
<text x="569" y="1537.3">2</text>
<text x="569" y="1593.9">0</text>
<text x="569" y="1645.1">-2</text>
<text x="569" y="1666.6">-3</text>
</g>
</g>
<g>
<polyline fill="none" stroke="#000" stroke-width="1.3" stroke-dasharray="9 3.5" stroke-linejoin="round" points="675.6,1571.97 680.61,1560.05 685.61,1548.55 690.62,1537.51 695.62,1526.95 700.63,1516.57 705.64,1506.42 710.64,1497.01 715.65,1488.85 720.66,1481.75 725.66,1475.27 730.67,1469.58 735.68,1464.84 740.68,1460.82 745.69,1457.25 750.69,1454.24 755.7,1451.92 760.71,1450.1 765.71,1448.64 770.72,1447.59 775.73,1446.87 780.73,1446.24 785.74,1445.73 790.74,1445.42 795.75,1445.33 800.76,1445.44 805.76,1445.74 810.77,1446.21 815.78,1446.85 820.78,1447.62 825.79,1448.53 830.79,1449.55 835.8,1450.67 840.81,1451.89 845.81,1453.17 850.82,1454.52 855.83,1455.91 860.83,1457.33 865.84,1458.76 870.84,1460.2 875.85,1461.63 880.86,1463.03 885.86,1464.41 890.87,1465.76 895.88,1467.09 900.88,1468.39 905.89,1469.66 910.89,1470.91 915.9,1472.13 920.91,1473.33 925.91,1474.5 930.92,1475.65 935.93,1476.77 940.93,1477.87 945.94,1478.94 950.94,1479.98 955.95,1481.01 960.96,1482 965.96,1482.98 970.97,1483.93 975.98,1484.85 980.98,1485.75 985.99,1486.63 990.99,1487.48 996,1488.31 1001.01,1489.11 1006.01,1489.9 1011.02,1490.65 1016.03,1491.39 1021.03,1492.1 1026.04,1492.79 1031.04,1493.45 1036.05,1494.09 1041.06,1494.71 1046.06,1495.31 1051.07,1495.88 1056.08,1496.43 1061.08,1496.96 1066.09,1497.47 1071.09,1497.95 1076.1,1498.41 1081.11,1498.85 1086.11,1499.27 1091.12,1499.67 1096.12,1500.04 1101.13,1500.4 1106.14,1500.73 1111.14,1501.04 1116.15,1501.33 1121.16,1501.59 1126.16,1501.84 1131.17,1502.07 1136.18,1502.27 1141.18,1502.46 1146.19,1502.62 1151.19,1502.76 1156.2,1502.88"/>
<polyline fill="none" stroke="#000" stroke-width="1.3" stroke-linejoin="round" points="675.6,1559.04 680.61,1539.82 685.61,1522.79 690.62,1508.87 695.62,1499.01 700.63,1492.78 705.64,1488.25 710.64,1484.08 715.65,1478.93 720.66,1471.5 725.66,1462.64 730.67,1454.18 735.68,1447.99 740.68,1443.68 745.69,1439.89 750.69,1437.04 755.7,1435.52 760.71,1434.93 765.71,1434.43 770.72,1434 775.73,1433.61 780.73,1433.27 785.74,1433.07 790.74,1433.05 795.75,1433.15 800.76,1433.35 805.76,1433.65 810.77,1434.03 815.78,1434.47 820.78,1434.98 825.79,1435.54 830.79,1436.17 835.8,1436.87 840.81,1437.66 845.81,1438.53 850.82,1439.5 855.83,1440.58 860.83,1441.76 865.84,1443.02 870.84,1444.33 875.85,1445.65 880.86,1446.97 885.86,1448.27 890.87,1449.56 895.88,1450.84 900.88,1452.1 905.89,1453.34 910.89,1454.58 915.9,1455.79 920.91,1457 925.91,1458.19 930.92,1459.36 935.93,1460.52 940.93,1461.67 945.94,1462.8 950.94,1463.91 955.95,1465.02 960.96,1466.1 965.96,1467.17 970.97,1468.23 975.98,1469.27 980.98,1470.3 985.99,1471.31 990.99,1472.31 996,1473.29 1001.01,1474.26 1006.01,1475.21 1011.02,1476.15 1016.03,1477.07 1021.03,1477.97 1026.04,1478.86 1031.04,1479.74 1036.05,1480.6 1041.06,1481.44 1046.06,1482.27 1051.07,1483.08 1056.08,1483.88 1061.08,1484.66 1066.09,1485.43 1071.09,1486.18 1076.1,1486.91 1081.11,1487.63 1086.11,1488.33 1091.12,1489.02 1096.12,1489.69 1101.13,1490.34 1106.14,1490.98 1111.14,1491.6 1116.15,1492.2 1121.16,1492.79 1126.16,1493.36 1131.17,1493.92 1136.18,1494.46 1141.18,1494.98 1146.19,1495.49 1151.19,1495.98 1156.2,1496.45"/>
<polyline fill="none" stroke="#000" stroke-width="1.3" stroke-dasharray="9 3.5" stroke-linejoin="round" points="675.6,1608.9 680.61,1597.09 685.61,1585.81 690.62,1575.12 695.62,1565.04 700.63,1555.31 705.64,1545.91 710.64,1537.3 715.65,1529.95 720.66,1523.66 725.66,1518 730.67,1513.06 735.68,1508.94 740.68,1505.41 745.69,1502.26 750.69,1499.63 755.7,1497.63 760.71,1496.16 765.71,1495.06 770.72,1494.28 775.73,1493.72 780.73,1493.19 785.74,1492.69 790.74,1492.32 795.75,1492.11 800.76,1492.07 805.76,1492.17 810.77,1492.4 815.78,1492.77 820.78,1493.26 825.79,1493.86 830.79,1494.57 835.8,1495.37 840.81,1496.25 845.81,1497.21 850.82,1498.24 855.83,1499.32 860.83,1500.46 865.84,1501.63 870.84,1502.84 875.85,1504.07 880.86,1505.31 885.86,1506.56 890.87,1507.82 895.88,1509.08 900.88,1510.35 905.89,1511.61 910.89,1512.87 915.9,1514.12 920.91,1515.36 925.91,1516.58 930.92,1517.79 935.93,1518.98 940.93,1520.14 945.94,1521.27 950.94,1522.38 955.95,1523.45 960.96,1524.49 965.96,1525.49 970.97,1526.45 975.98,1527.36 980.98,1528.23 985.99,1529.05 990.99,1529.82 996,1530.56 1001.01,1531.25 1006.01,1531.9 1011.02,1532.52 1016.03,1533.11 1021.03,1533.66 1026.04,1534.19 1031.04,1534.68 1036.05,1535.15 1041.06,1535.6 1046.06,1536.02 1051.07,1536.43 1056.08,1536.81 1061.08,1537.18 1066.09,1537.54 1071.09,1537.88 1076.1,1538.22 1081.11,1538.55 1086.11,1538.87 1091.12,1539.18 1096.12,1539.5 1101.13,1539.81 1106.14,1540.13 1111.14,1540.45 1116.15,1540.78 1121.16,1541.12 1126.16,1541.46 1131.17,1541.82 1136.18,1542.2 1141.18,1542.58 1146.19,1542.99 1151.19,1543.42 1156.2,1543.87"/>
<polyline fill="none" stroke="#000" stroke-width="1.3" stroke-linejoin="round" points="675.6,1596.9 680.61,1579.96 685.61,1564.85 690.62,1552.27 695.62,1542.88 700.63,1536.48 705.64,1531.63 710.64,1527.15 715.65,1521.87 720.66,1514.66 725.66,1506.31 730.67,1498.53 735.68,1493.01 740.68,1489.4 745.69,1486.34 750.69,1484.01 755.7,1482.62 760.71,1481.88 765.71,1481.3 770.72,1480.84 775.73,1480.43 780.73,1480.02 785.74,1479.7 790.74,1479.55 795.75,1479.53 800.76,1479.62 805.76,1479.81 810.77,1480.09 815.78,1480.45 820.78,1480.88 825.79,1481.39 830.79,1481.97 835.8,1482.62 840.81,1483.35 845.81,1484.16 850.82,1485.06 855.83,1486.03 860.83,1487.09 865.84,1488.22 870.84,1489.38 875.85,1490.55 880.86,1491.72 885.86,1492.87 890.87,1494.02 895.88,1495.15 900.88,1496.27 905.89,1497.38 910.89,1498.48 915.9,1499.57 920.91,1500.65 925.91,1501.71 930.92,1502.77 935.93,1503.81 940.93,1504.84 945.94,1505.86 950.94,1506.86 955.95,1507.85 960.96,1508.83 965.96,1509.8 970.97,1510.76 975.98,1511.7 980.98,1512.63 985.99,1513.55 990.99,1514.45 996,1515.34 1001.01,1516.22 1006.01,1517.09 1011.02,1517.94 1016.03,1518.77 1021.03,1519.6 1026.04,1520.41 1031.04,1521.2 1036.05,1521.98 1041.06,1522.75 1046.06,1523.5 1051.07,1524.24 1056.08,1524.97 1061.08,1525.68 1066.09,1526.37 1071.09,1527.05 1076.1,1527.72 1081.11,1528.37 1086.11,1529.01 1091.12,1529.63 1096.12,1530.23 1101.13,1530.82 1106.14,1531.4 1111.14,1531.96 1116.15,1532.5 1121.16,1533.03 1126.16,1533.54 1131.17,1534.03 1136.18,1534.51 1141.18,1534.98 1146.19,1535.42 1151.19,1535.85 1156.2,1536.27"/>
<polyline fill="none" stroke="#000" stroke-width="1.3" stroke-dasharray="9 3.5" stroke-linejoin="round" points="675.6,1668.93 680.61,1658.82 685.61,1649.12 690.62,1639.86 695.62,1631.07 700.63,1622.42 705.64,1613.95 710.64,1606.24 715.65,1599.9 720.66,1594.79 725.66,1590.32 730.67,1586.44 735.68,1583.05 740.68,1579.92 745.69,1577.03 750.69,1574.61 755.7,1572.89 760.71,1571.79 765.71,1571.01 770.72,1570.42 775.73,1569.92 780.73,1569.43 785.74,1569 790.74,1568.68 795.75,1568.49 800.76,1568.43 805.76,1568.49 810.77,1568.66 815.78,1568.93 820.78,1569.3 825.79,1569.75 830.79,1570.29 835.8,1570.89 840.81,1571.55 845.81,1572.27 850.82,1573.03 855.83,1573.83 860.83,1574.66 865.84,1575.5 870.84,1576.36 875.85,1577.23 880.86,1578.09 885.86,1578.94 890.87,1579.8 895.88,1580.64 900.88,1581.48 905.89,1582.32 910.89,1583.14 915.9,1583.96 920.91,1584.78 925.91,1585.58 930.92,1586.38 935.93,1587.17 940.93,1587.96 945.94,1588.73 950.94,1589.49 955.95,1590.24 960.96,1590.99 965.96,1591.72 970.97,1592.44 975.98,1593.16 980.98,1593.86 985.99,1594.55 990.99,1595.22 996,1595.89 1001.01,1596.54 1006.01,1597.17 1011.02,1597.8 1016.03,1598.41 1021.03,1599 1026.04,1599.58 1031.04,1600.15 1036.05,1600.7 1041.06,1601.24 1046.06,1601.76 1051.07,1602.26 1056.08,1602.74 1061.08,1603.21 1066.09,1603.66 1071.09,1604.1 1076.1,1604.51 1081.11,1604.91 1086.11,1605.29 1091.12,1605.64 1096.12,1605.98 1101.13,1606.3 1106.14,1606.6 1111.14,1606.88 1116.15,1607.13 1121.16,1607.37 1126.16,1607.58 1131.17,1607.77 1136.18,1607.94 1141.18,1608.09 1146.19,1608.21 1151.19,1608.31 1156.2,1608.38"/>
<polyline fill="none" stroke="#000" stroke-width="1.3" stroke-linejoin="round" points="675.6,1662 680.61,1646.42 685.61,1632.59 690.62,1621.23 695.62,1613.06 700.63,1607.75 705.64,1603.81 710.64,1600.22 715.65,1595.98 720.66,1590.26 725.66,1583.71 730.67,1577.53 735.68,1572.89 740.68,1569.58 745.69,1566.7 750.69,1564.43 755.7,1562.96 760.71,1562.1 765.71,1561.44 770.72,1560.9 775.73,1560.4 780.73,1559.88 785.74,1559.44 790.74,1559.18 795.75,1559.05 800.76,1559.03 805.76,1559.11 810.77,1559.29 815.78,1559.55 820.78,1559.87 825.79,1560.26 830.79,1560.7 835.8,1561.21 840.81,1561.76 845.81,1562.36 850.82,1563 855.83,1563.68 860.83,1564.39 865.84,1565.13 870.84,1565.9 875.85,1566.69 880.86,1567.5 885.86,1568.33 890.87,1569.17 895.88,1570.02 900.88,1570.88 905.89,1571.74 910.89,1572.62 915.9,1573.49 920.91,1574.37 925.91,1575.25 930.92,1576.12 935.93,1577 940.93,1577.86 945.94,1578.72 950.94,1579.56 955.95,1580.4 960.96,1581.22 965.96,1582.02 970.97,1582.8 975.98,1583.57 980.98,1584.31 985.99,1585.03 990.99,1585.73 996,1586.41 1001.01,1587.07 1006.01,1587.71 1011.02,1588.33 1016.03,1588.94 1021.03,1589.53 1026.04,1590.11 1031.04,1590.66 1036.05,1591.21 1041.06,1591.74 1046.06,1592.26 1051.07,1592.77 1056.08,1593.26 1061.08,1593.75 1066.09,1594.22 1071.09,1594.69 1076.1,1595.15 1081.11,1595.6 1086.11,1596.04 1091.12,1596.48 1096.12,1596.92 1101.13,1597.34 1106.14,1597.77 1111.14,1598.19 1116.15,1598.61 1121.16,1599.03 1126.16,1599.45 1131.17,1599.86 1136.18,1600.28 1141.18,1600.7 1146.19,1601.12 1151.19,1601.55 1156.2,1601.98"/>
<polyline fill="none" stroke="#000" stroke-width="1.3" stroke-dasharray="9 3.5" stroke-linejoin="round" points="675.6,1716.03 680.61,1707.31 685.61,1699.03 690.62,1691.22 695.62,1683.94 700.63,1677.01 705.64,1670.39 710.64,1664.32 715.65,1659 720.66,1654.32 725.66,1650.05 730.67,1646.27 735.68,1643.07 740.68,1640.31 745.69,1637.84 750.69,1635.74 755.7,1634.07 760.71,1632.81 765.71,1631.83 770.72,1631.08 775.73,1630.45 780.73,1629.86 785.74,1629.29 790.74,1628.79 795.75,1628.4 800.76,1628.12 805.76,1627.93 810.77,1627.83 815.78,1627.82 820.78,1627.9 825.79,1628.04 830.79,1628.26 835.8,1628.53 840.81,1628.87 845.81,1629.25 850.82,1629.68 855.83,1630.14 860.83,1630.64 865.84,1631.17 870.84,1631.72 875.85,1632.28 880.86,1632.85 885.86,1633.43 890.87,1634.02 895.88,1634.61 900.88,1635.21 905.89,1635.82 910.89,1636.43 915.9,1637.05 920.91,1637.66 925.91,1638.29 930.92,1638.91 935.93,1639.53 940.93,1640.16 945.94,1640.78 950.94,1641.41 955.95,1642.03 960.96,1642.65 965.96,1643.27 970.97,1643.88 975.98,1644.49 980.98,1645.09 985.99,1645.69 990.99,1646.28 996,1646.87 1001.01,1647.45 1006.01,1648.02 1011.02,1648.58 1016.03,1649.12 1021.03,1649.66 1026.04,1650.19 1031.04,1650.71 1036.05,1651.21 1041.06,1651.7 1046.06,1652.18 1051.07,1652.64 1056.08,1653.08 1061.08,1653.51 1066.09,1653.92 1071.09,1654.32 1076.1,1654.69 1081.11,1655.05 1086.11,1655.39 1091.12,1655.7 1096.12,1656 1101.13,1656.27 1106.14,1656.53 1111.14,1656.75 1116.15,1656.96 1121.16,1657.14 1126.16,1657.29 1131.17,1657.42 1136.18,1657.52 1141.18,1657.6 1146.19,1657.64 1151.19,1657.66 1156.2,1657.65"/>
<polyline fill="none" stroke="#000" stroke-width="1.3" stroke-linejoin="round" points="675.6,1715.1 680.61,1701.57 685.61,1689.53 690.62,1679.53 695.62,1672.16 700.63,1667.15 705.64,1663.33 710.64,1659.88 715.65,1656 720.66,1651.16 725.66,1645.88 730.67,1640.93 735.68,1637.07 740.68,1634.13 745.69,1631.54 750.69,1629.46 755.7,1628.07 760.71,1627.26 765.71,1626.7 770.72,1626.21 775.73,1625.67 780.73,1625.07 785.74,1624.49 790.74,1624.05 795.75,1623.71 800.76,1623.48 805.76,1623.33 810.77,1623.28 815.78,1623.31 820.78,1623.41 825.79,1623.58 830.79,1623.82 835.8,1624.12 840.81,1624.46 845.81,1624.86 850.82,1625.29 855.83,1625.75 860.83,1626.25 865.84,1626.76 870.84,1627.29 875.85,1627.83 880.86,1628.37 885.86,1628.92 890.87,1629.46 895.88,1630.01 900.88,1630.56 905.89,1631.12 910.89,1631.67 915.9,1632.22 920.91,1632.78 925.91,1633.33 930.92,1633.89 935.93,1634.44 940.93,1634.99 945.94,1635.55 950.94,1636.1 955.95,1636.64 960.96,1637.19 965.96,1637.73 970.97,1638.27 975.98,1638.81 980.98,1639.35 985.99,1639.88 990.99,1640.4 996,1640.92 1001.01,1641.44 1006.01,1641.95 1011.02,1642.46 1016.03,1642.96 1021.03,1643.45 1026.04,1643.94 1031.04,1644.42 1036.05,1644.89 1041.06,1645.36 1046.06,1645.82 1051.07,1646.27 1056.08,1646.71 1061.08,1647.14 1066.09,1647.57 1071.09,1647.98 1076.1,1648.39 1081.11,1648.78 1086.11,1649.17 1091.12,1649.54 1096.12,1649.9 1101.13,1650.26 1106.14,1650.6 1111.14,1650.92 1116.15,1651.24 1121.16,1651.54 1126.16,1651.83 1131.17,1652.11 1136.18,1652.37 1141.18,1652.62 1146.19,1652.86 1151.19,1653.08 1156.2,1653.29"/>
<polyline fill="none" stroke="#000" stroke-width="1.3" stroke-dasharray="9 3.5" stroke-linejoin="round" points="675.6,1736.11 680.61,1728.26 685.61,1720.77 690.62,1713.68 695.62,1707.02 700.63,1700.68 705.64,1694.62 710.64,1688.99 715.65,1683.94 720.66,1679.34 725.66,1675.05 730.67,1671.23 735.68,1668.01 740.68,1665.26 745.69,1662.8 750.69,1660.7 755.7,1659 760.71,1657.68 765.71,1656.66 770.72,1655.86 775.73,1655.2 780.73,1654.58 785.74,1653.98 790.74,1653.44 795.75,1653.01 800.76,1652.68 805.76,1652.44 810.77,1652.29 815.78,1652.23 820.78,1652.24 825.79,1652.33 830.79,1652.48 835.8,1652.69 840.81,1652.96 845.81,1653.28 850.82,1653.64 855.83,1654.03 860.83,1654.46 865.84,1654.91 870.84,1655.39 875.85,1655.88 880.86,1656.37 885.86,1656.88 890.87,1657.39 895.88,1657.91 900.88,1658.43 905.89,1658.96 910.89,1659.49 915.9,1660.03 920.91,1660.57 925.91,1661.11 930.92,1661.66 935.93,1662.2 940.93,1662.75 945.94,1663.3 950.94,1663.84 955.95,1664.39 960.96,1664.93 965.96,1665.47 970.97,1666.01 975.98,1666.54 980.98,1667.07 985.99,1667.6 990.99,1668.12 996,1668.63 1001.01,1669.13 1006.01,1669.63 1011.02,1670.12 1016.03,1670.61 1021.03,1671.08 1026.04,1671.54 1031.04,1671.99 1036.05,1672.43 1041.06,1672.86 1046.06,1673.28 1051.07,1673.68 1056.08,1674.07 1061.08,1674.45 1066.09,1674.81 1071.09,1675.15 1076.1,1675.48 1081.11,1675.79 1086.11,1676.08 1091.12,1676.36 1096.12,1676.62 1101.13,1676.85 1106.14,1677.07 1111.14,1677.27 1116.15,1677.44 1121.16,1677.6 1126.16,1677.73 1131.17,1677.84 1136.18,1677.92 1141.18,1677.98 1146.19,1678.02 1151.19,1678.03 1156.2,1678.01"/>
<polyline fill="none" stroke="#000" stroke-width="1.3" stroke-linejoin="round" points="675.6,1736.11 680.61,1724.3 685.61,1713.73 690.62,1704.83 695.62,1698.02 700.63,1693.14 705.64,1689.31 710.64,1685.84 715.65,1682.09 720.66,1677.67 725.66,1673.01 730.67,1668.61 735.68,1665.01 740.68,1662 745.69,1659.25 750.69,1657.01 755.7,1655.54 760.71,1654.71 765.71,1654.07 770.72,1653.47 775.73,1652.85 780.73,1652.21 785.74,1651.66 790.74,1651.25 795.75,1650.94 800.76,1650.72 805.76,1650.59 810.77,1650.52 815.78,1650.53 820.78,1650.59 825.79,1650.71 830.79,1650.87 835.8,1651.09 840.81,1651.35 845.81,1651.64 850.82,1651.97 855.83,1652.33 860.83,1652.71 865.84,1653.12 870.84,1653.54 875.85,1653.98 880.86,1654.43 885.86,1654.89 890.87,1655.35 895.88,1655.82 900.88,1656.3 905.89,1656.78 910.89,1657.26 915.9,1657.75 920.91,1658.24 925.91,1658.74 930.92,1659.23 935.93,1659.72 940.93,1660.22 945.94,1660.71 950.94,1661.19 955.95,1661.68 960.96,1662.16 965.96,1662.63 970.97,1663.1 975.98,1663.56 980.98,1664.01 985.99,1664.46 990.99,1664.89 996,1665.32 1001.01,1665.74 1006.01,1666.16 1011.02,1666.56 1016.03,1666.96 1021.03,1667.35 1026.04,1667.73 1031.04,1668.1 1036.05,1668.47 1041.06,1668.83 1046.06,1669.18 1051.07,1669.52 1056.08,1669.85 1061.08,1670.18 1066.09,1670.5 1071.09,1670.81 1076.1,1671.12 1081.11,1671.41 1086.11,1671.7 1091.12,1671.99 1096.12,1672.26 1101.13,1672.53 1106.14,1672.79 1111.14,1673.04 1116.15,1673.28 1121.16,1673.52 1126.16,1673.75 1131.17,1673.97 1136.18,1674.19 1141.18,1674.39 1146.19,1674.59 1151.19,1674.79 1156.2,1674.97"/>
<rect x="675.6" y="1415.9" width="480.6" height="346.3" fill="none" stroke="#000" stroke-width="1.4"/>
<path d="M675.6 1762.2v5.2M695.62 1762.2v5.2M715.65 1762.2v5.2M735.68 1762.2v5.2M755.7 1762.2v5.2M775.73 1762.2v5.2M795.75 1762.2v5.2M815.78 1762.2v5.2M835.8 1762.2v5.2M855.83 1762.2v5.2M875.85 1762.2v5.2M895.88 1762.2v5.2M915.9 1762.2v5.2M935.93 1762.2v5.2M955.95 1762.2v5.2M975.98 1762.2v5.2M996 1762.2v5.2M1016.03 1762.2v5.2M1036.05 1762.2v5.2M1056.08 1762.2v5.2M1076.1 1762.2v5.2M1096.12 1762.2v5.2M1116.15 1762.2v5.2M1136.18 1762.2v5.2M1156.2 1762.2v5.2M675.6 1762.2h-5.2M675.6 1739.11h-5.2M675.6 1716.03h-5.2M675.6 1692.94h-5.2M675.6 1669.85h-5.2M675.6 1646.77h-5.2M675.6 1623.68h-5.2M675.6 1600.59h-5.2M675.6 1577.51h-5.2M675.6 1554.42h-5.2M675.6 1531.33h-5.2M675.6 1508.25h-5.2M675.6 1485.16h-5.2M675.6 1462.07h-5.2M675.6 1438.99h-5.2M675.6 1415.9h-5.2" stroke="#000" stroke-width="1.4" fill="none"/>
<g font-size="12.8" text-anchor="middle">
<text x="675.6" y="1786.75">0</text>
<text x="695.62" y="1786.75">1</text>
<text x="715.65" y="1786.75">2</text>
<text x="735.68" y="1786.75">3</text>
<text x="755.7" y="1786.75">4</text>
<text x="775.73" y="1786.75">5</text>
<text x="795.75" y="1786.75">6</text>
<text x="815.78" y="1786.75">7</text>
<text x="835.8" y="1786.75">8</text>
<text x="855.83" y="1786.75">9</text>
<text x="875.85" y="1786.75">10</text>
<text x="895.88" y="1786.75">11</text>
<text x="915.9" y="1786.75">12</text>
<text x="935.93" y="1786.75">13</text>
<text x="955.95" y="1786.75">14</text>
<text x="975.98" y="1786.75">15</text>
<text x="996" y="1786.75">16</text>
<text x="1016.03" y="1786.75">17</text>
<text x="1036.05" y="1786.75">18</text>
<text x="1056.08" y="1786.75">19</text>
<text x="1076.1" y="1786.75">20</text>
<text x="1096.12" y="1786.75">21</text>
<text x="1116.15" y="1786.75">22</text>
<text x="1136.18" y="1786.75">23</text>
<text x="1156.2" y="1786.75">24</text>
</g>
<g font-size="12.8" text-anchor="end">
<text x="664.3" y="1766.81">9</text>
<text x="664.3" y="1743.72">10</text>
<text x="664.3" y="1720.63">11</text>
<text x="664.3" y="1697.55">12</text>
<text x="664.3" y="1674.46">13</text>
<text x="664.3" y="1651.37">14</text>
<text x="664.3" y="1628.29">15</text>
<text x="664.3" y="1605.2">16</text>
<text x="664.3" y="1582.11">17</text>
<text x="664.3" y="1559.03">18</text>
<text x="664.3" y="1535.94">19</text>
<text x="664.3" y="1512.85">20</text>
<text x="664.3" y="1489.77">21</text>
<text x="664.3" y="1466.68">22</text>
<text x="664.3" y="1443.59">23</text>
<text x="664.3" y="1420.51">24</text>
</g>
<text x="676.3" y="1388.1" font-size="16.3" font-weight="bold">BMI-for-age z-score curves for girls</text>
<text x="915.9" y="1816.25" font-size="16.3" text-anchor="middle">Age (completed months)</text>
<text transform="translate(632 1589.05) rotate(-90)" font-size="16.3" text-anchor="middle">BMI (kg/m<tspan dy="-7.5" font-size="10.5">2</tspan><tspan dy="7.5">)</tspan></text>
<path d="M967 1710.6H1004.4" stroke="#000" stroke-width="1.3"/>
<path d="M967 1727.4H1004.4" stroke="#000" stroke-width="1.3" stroke-dasharray="10 3.5"/>
<text x="1014.5" y="1715" font-size="13.45">China 2015 data</text>
<text x="1014.5" y="1731.9" font-size="13.45">China 2005 data</text>
<g font-size="15.9" text-anchor="middle">
<text x="1174.5" y="1508.9">3</text>
<text x="1174.5" y="1547.9">2</text>
<text x="1174.5" y="1613.5">0</text>
<text x="1174.5" y="1660.8">-2</text>
<text x="1174.5" y="1684.8">-3</text>
</g>
</g>
</svg>
</body></html>
